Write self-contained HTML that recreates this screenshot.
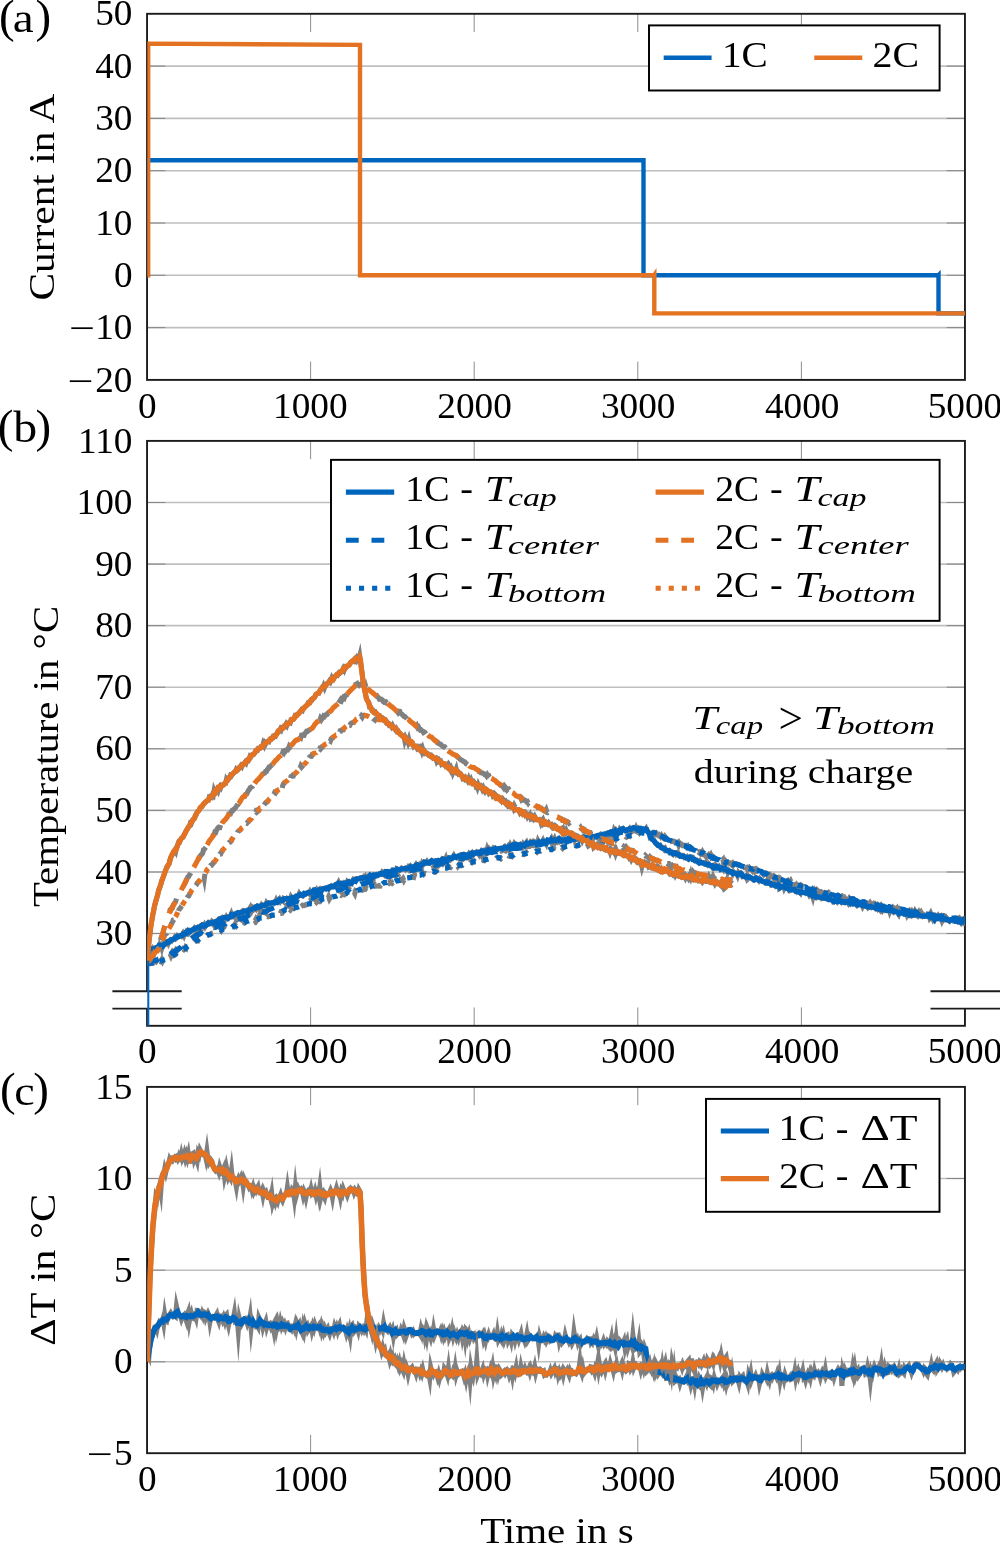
<!DOCTYPE html>
<html lang="en"><head><meta charset="utf-8"><title>Current, temperature and temperature difference during 1C and 2C charge</title>
<style>html,body{margin:0;padding:0;background:#fff}svg{display:block}</style></head>
<body>
<svg width="1000" height="1544" viewBox="0 0 1000 1544" font-family="'Liberation Serif', serif" fill="#000">
<rect width="1000" height="1544" fill="#fff"/>
<defs>
<clipPath id="ca"><rect x="147.35000000000002" y="13.8" width="817.6" height="366.1"/></clipPath>
<clipPath id="cb"><rect x="147.35000000000002" y="440.9" width="817.6" height="584.9"/></clipPath>
<clipPath id="cc"><rect x="147.35000000000002" y="1086.9" width="817.6" height="366.3"/></clipPath>
</defs>
<line x1="147.05" x2="964.95" y1="66.1" y2="66.1" stroke="#bfbfbf" stroke-width="1.6"/>
<line x1="147.05" x2="964.95" y1="118.4" y2="118.4" stroke="#bfbfbf" stroke-width="1.6"/>
<line x1="147.05" x2="964.95" y1="170.7" y2="170.7" stroke="#bfbfbf" stroke-width="1.6"/>
<line x1="147.05" x2="964.95" y1="223.0" y2="223.0" stroke="#bfbfbf" stroke-width="1.6"/>
<line x1="147.05" x2="964.95" y1="275.3" y2="275.3" stroke="#bfbfbf" stroke-width="1.6"/>
<line x1="147.05" x2="964.95" y1="327.6" y2="327.6" stroke="#bfbfbf" stroke-width="1.6"/>
<line x1="147.05" x2="165.35000000000002" y1="66.1" y2="66.1" stroke="#808080" stroke-width="0.9"/>
<line x1="946.6500000000001" x2="964.95" y1="66.1" y2="66.1" stroke="#808080" stroke-width="0.9"/>
<line x1="147.05" x2="165.35000000000002" y1="118.4" y2="118.4" stroke="#808080" stroke-width="0.9"/>
<line x1="946.6500000000001" x2="964.95" y1="118.4" y2="118.4" stroke="#808080" stroke-width="0.9"/>
<line x1="147.05" x2="165.35000000000002" y1="170.7" y2="170.7" stroke="#808080" stroke-width="0.9"/>
<line x1="946.6500000000001" x2="964.95" y1="170.7" y2="170.7" stroke="#808080" stroke-width="0.9"/>
<line x1="147.05" x2="165.35000000000002" y1="223.0" y2="223.0" stroke="#808080" stroke-width="0.9"/>
<line x1="946.6500000000001" x2="964.95" y1="223.0" y2="223.0" stroke="#808080" stroke-width="0.9"/>
<line x1="147.05" x2="165.35000000000002" y1="275.3" y2="275.3" stroke="#808080" stroke-width="0.9"/>
<line x1="946.6500000000001" x2="964.95" y1="275.3" y2="275.3" stroke="#808080" stroke-width="0.9"/>
<line x1="147.05" x2="165.35000000000002" y1="327.6" y2="327.6" stroke="#808080" stroke-width="0.9"/>
<line x1="946.6500000000001" x2="964.95" y1="327.6" y2="327.6" stroke="#808080" stroke-width="0.9"/>
<line x1="310.6" x2="310.6" y1="13.8" y2="32.1" stroke="#808080" stroke-width="0.9"/>
<line x1="310.6" x2="310.6" y1="361.65" y2="379.95" stroke="#808080" stroke-width="0.9"/>
<line x1="474.2" x2="474.2" y1="13.8" y2="32.1" stroke="#808080" stroke-width="0.9"/>
<line x1="474.2" x2="474.2" y1="361.65" y2="379.95" stroke="#808080" stroke-width="0.9"/>
<line x1="637.8" x2="637.8" y1="13.8" y2="32.1" stroke="#808080" stroke-width="0.9"/>
<line x1="637.8" x2="637.8" y1="361.65" y2="379.95" stroke="#808080" stroke-width="0.9"/>
<line x1="801.4" x2="801.4" y1="13.8" y2="32.1" stroke="#808080" stroke-width="0.9"/>
<line x1="801.4" x2="801.4" y1="361.65" y2="379.95" stroke="#808080" stroke-width="0.9"/>
<rect x="147.05" y="13.8" width="817.9" height="366.1" fill="none" stroke="#1c1c1c" stroke-width="1.9"/>
<g clip-path="url(#ca)">
<polyline points="147.1,275.3 147.1,160.3 643.5,160.3 643.5,275.3 938.5,275.3 938.5,313.4 965.0,313.4" fill="none" stroke="#0065bd" stroke-width="4.4" stroke-linejoin="miter" stroke-miterlimit="14"/>
<path d="M937.1,273.4 L940.7,269.7 L940.7,273.4 Z" fill="#0065bd"/>
<polyline points="147.1,275.3 148.2,275.3 148.2,43.6 360.0,44.9 360.0,275.3 654.3,275.3 654.3,313.4 965.4,313.4" fill="none" stroke="#e37222" stroke-width="4.4" stroke-linejoin="miter" stroke-miterlimit="14"/>
<path d="M652.7,273.4 L656.5,267.9 L656.5,273.4 Z" fill="#e37222"/>
</g>
<text x="95.2" y="25.4" font-size="35.4" textLength="37.2" lengthAdjust="spacingAndGlyphs">50</text>
<text x="95.2" y="77.7" font-size="35.4" textLength="37.2" lengthAdjust="spacingAndGlyphs">40</text>
<text x="95.2" y="130.0" font-size="35.4" textLength="37.2" lengthAdjust="spacingAndGlyphs">30</text>
<text x="95.2" y="182.3" font-size="35.4" textLength="37.2" lengthAdjust="spacingAndGlyphs">20</text>
<text x="95.2" y="234.6" font-size="35.4" textLength="37.2" lengthAdjust="spacingAndGlyphs">10</text>
<text x="113.9" y="286.9" font-size="35.4" textLength="18.6" lengthAdjust="spacingAndGlyphs">0</text>
<text><tspan x="69.1" y="340.4" font-size="35.4" textLength="26.0" lengthAdjust="spacingAndGlyphs">−</tspan><tspan x="95.2" y="339.2" font-size="35.4" textLength="37.2" lengthAdjust="spacingAndGlyphs">10</tspan></text>
<text><tspan x="67.6" y="392.8" font-size="35.4" textLength="26.0" lengthAdjust="spacingAndGlyphs">−</tspan><tspan x="95.2" y="391.6" font-size="35.4" textLength="37.2" lengthAdjust="spacingAndGlyphs">20</tspan></text>
<text x="138.1" y="417.6" font-size="35.4" textLength="18.6" lengthAdjust="spacingAndGlyphs">0</text>
<text x="273.0" y="417.6" font-size="35.4" textLength="74.5" lengthAdjust="spacingAndGlyphs">1000</text>
<text x="437.3" y="417.6" font-size="35.4" textLength="74.5" lengthAdjust="spacingAndGlyphs">2000</text>
<text x="600.9" y="417.6" font-size="35.4" textLength="74.5" lengthAdjust="spacingAndGlyphs">3000</text>
<text x="764.9" y="417.6" font-size="35.4" textLength="74.5" lengthAdjust="spacingAndGlyphs">4000</text>
<text x="927.7" y="417.6" font-size="35.4" textLength="74.5" lengthAdjust="spacingAndGlyphs">5000</text>
<text><tspan x="-1.1" y="32.0" font-size="47.0">(</tspan><tspan x="12.8" y="32.0" font-size="41" textLength="20.9" lengthAdjust="spacingAndGlyphs">a</tspan><tspan x="35.4" y="32.0" font-size="47.0">)</tspan></text>
<text transform="translate(54.0,300.5) rotate(-90)" font-size="35.3" textLength="206.8" lengthAdjust="spacingAndGlyphs">Current in A</text>
<rect x="649.0" y="25.4" width="290.6" height="65.1" fill="#fff" stroke="#000" stroke-width="1.95"/>
<line x1="663.7" x2="711.6" y1="57.7" y2="57.7" stroke="#0065bd" stroke-width="4.4"/>
<line x1="814.3" x2="862.3" y1="57.7" y2="57.7" stroke="#e37222" stroke-width="4.4"/>
<text x="721.9" y="66.6" font-size="34.8" textLength="45.8" lengthAdjust="spacingAndGlyphs">1C</text>
<text x="872.6" y="66.6" font-size="34.8" textLength="46.5" lengthAdjust="spacingAndGlyphs">2C</text>
<line x1="147.05" x2="964.95" y1="502.5" y2="502.5" stroke="#bfbfbf" stroke-width="1.6"/>
<line x1="147.05" x2="964.95" y1="564.1" y2="564.1" stroke="#bfbfbf" stroke-width="1.6"/>
<line x1="147.05" x2="964.95" y1="625.6" y2="625.6" stroke="#bfbfbf" stroke-width="1.6"/>
<line x1="147.05" x2="964.95" y1="687.2" y2="687.2" stroke="#bfbfbf" stroke-width="1.6"/>
<line x1="147.05" x2="964.95" y1="748.8" y2="748.8" stroke="#bfbfbf" stroke-width="1.6"/>
<line x1="147.05" x2="964.95" y1="810.4" y2="810.4" stroke="#bfbfbf" stroke-width="1.6"/>
<line x1="147.05" x2="964.95" y1="872.0" y2="872.0" stroke="#bfbfbf" stroke-width="1.6"/>
<line x1="147.05" x2="964.95" y1="933.5" y2="933.5" stroke="#bfbfbf" stroke-width="1.6"/>
<line x1="147.05" x2="165.35000000000002" y1="502.5" y2="502.5" stroke="#808080" stroke-width="0.9"/>
<line x1="946.6500000000001" x2="964.95" y1="502.5" y2="502.5" stroke="#808080" stroke-width="0.9"/>
<line x1="147.05" x2="165.35000000000002" y1="564.1" y2="564.1" stroke="#808080" stroke-width="0.9"/>
<line x1="946.6500000000001" x2="964.95" y1="564.1" y2="564.1" stroke="#808080" stroke-width="0.9"/>
<line x1="147.05" x2="165.35000000000002" y1="625.6" y2="625.6" stroke="#808080" stroke-width="0.9"/>
<line x1="946.6500000000001" x2="964.95" y1="625.6" y2="625.6" stroke="#808080" stroke-width="0.9"/>
<line x1="147.05" x2="165.35000000000002" y1="687.2" y2="687.2" stroke="#808080" stroke-width="0.9"/>
<line x1="946.6500000000001" x2="964.95" y1="687.2" y2="687.2" stroke="#808080" stroke-width="0.9"/>
<line x1="147.05" x2="165.35000000000002" y1="748.8" y2="748.8" stroke="#808080" stroke-width="0.9"/>
<line x1="946.6500000000001" x2="964.95" y1="748.8" y2="748.8" stroke="#808080" stroke-width="0.9"/>
<line x1="147.05" x2="165.35000000000002" y1="810.4" y2="810.4" stroke="#808080" stroke-width="0.9"/>
<line x1="946.6500000000001" x2="964.95" y1="810.4" y2="810.4" stroke="#808080" stroke-width="0.9"/>
<line x1="147.05" x2="165.35000000000002" y1="872.0" y2="872.0" stroke="#808080" stroke-width="0.9"/>
<line x1="946.6500000000001" x2="964.95" y1="872.0" y2="872.0" stroke="#808080" stroke-width="0.9"/>
<line x1="147.05" x2="165.35000000000002" y1="933.5" y2="933.5" stroke="#808080" stroke-width="0.9"/>
<line x1="946.6500000000001" x2="964.95" y1="933.5" y2="933.5" stroke="#808080" stroke-width="0.9"/>
<line x1="310.6" x2="310.6" y1="440.9" y2="459.2" stroke="#808080" stroke-width="0.9"/>
<line x1="310.6" x2="310.6" y1="1007.45" y2="1025.75" stroke="#808080" stroke-width="0.9"/>
<line x1="474.2" x2="474.2" y1="440.9" y2="459.2" stroke="#808080" stroke-width="0.9"/>
<line x1="474.2" x2="474.2" y1="1007.45" y2="1025.75" stroke="#808080" stroke-width="0.9"/>
<line x1="637.8" x2="637.8" y1="440.9" y2="459.2" stroke="#808080" stroke-width="0.9"/>
<line x1="637.8" x2="637.8" y1="1007.45" y2="1025.75" stroke="#808080" stroke-width="0.9"/>
<line x1="801.4" x2="801.4" y1="440.9" y2="459.2" stroke="#808080" stroke-width="0.9"/>
<line x1="801.4" x2="801.4" y1="1007.45" y2="1025.75" stroke="#808080" stroke-width="0.9"/>
<rect x="147.05" y="440.9" width="817.9" height="584.9" fill="none" stroke="#1c1c1c" stroke-width="1.9"/>
<rect x="145.05" y="991.25" width="4" height="17.35" fill="#fff"/>
<rect x="962.95" y="991.25" width="4" height="17.35" fill="#fff"/>
<line x1="112.4" x2="181.7" y1="991.25" y2="991.25" stroke="#1c1c1c" stroke-width="1.9"/>
<line x1="112.4" x2="181.7" y1="1008.6" y2="1008.6" stroke="#1c1c1c" stroke-width="1.9"/>
<line x1="930.5" x2="1001" y1="991.25" y2="991.25" stroke="#1c1c1c" stroke-width="1.9"/>
<line x1="930.5" x2="1001" y1="1008.6" y2="1008.6" stroke="#1c1c1c" stroke-width="1.9"/>
<g clip-path="url(#cb)">
<polyline points="147.1,963.2 147.9,957.7 148.7,954.0 149.5,952.8 150.3,951.6 151.1,951.3 152.0,950.0 152.8,948.5 153.6,949.4 154.4,949.1 155.2,948.2 156.0,947.7 156.9,947.3 157.7,947.6 158.5,946.6 159.3,944.9 160.1,946.5 161.0,945.5 161.8,948.0 162.6,945.2 163.4,945.2 164.2,943.7 165.0,944.1 165.9,942.4 166.7,941.9 167.5,941.6 168.3,943.2 169.1,941.3 170.0,940.5 170.8,939.9 171.6,940.6 172.4,939.4 173.2,939.3 174.0,939.0 174.9,937.3 175.7,938.3 176.5,937.3 177.3,936.0 178.1,936.7 178.9,936.3 179.8,935.9 180.6,935.6 181.4,936.2 182.2,935.1 183.0,933.7 183.9,935.5 184.7,933.2 185.5,933.3 186.3,933.6 187.1,931.2 187.9,931.6 188.8,932.9 189.6,931.6 190.4,930.6 191.2,930.9 192.0,930.0 192.9,930.0 193.7,929.2 194.5,928.2 195.3,929.3 196.1,928.1 196.9,928.2 197.8,927.3 198.6,927.8 199.4,927.1 200.2,926.4 201.0,925.6 201.8,925.2 202.7,926.7 203.5,925.9 204.3,924.7 205.1,926.4 205.9,925.0 206.8,924.7 207.6,923.4 208.4,922.8 209.2,924.0 210.0,923.7 210.8,923.3 211.7,921.9 212.5,923.1 213.3,922.9 214.1,921.9 214.9,922.0 215.8,921.5 216.6,921.8 217.4,920.6 218.2,920.8 219.0,919.2 219.8,919.1 220.7,919.3 221.5,918.4 222.3,918.9 223.1,917.5 223.9,917.9 224.8,917.4 225.6,918.4 226.4,916.9 227.2,918.0 228.0,918.3 228.8,916.8 229.7,917.0 230.5,916.0 231.3,914.1 232.1,916.3 232.9,915.8 233.7,914.9 234.6,914.2 235.4,914.6 236.2,914.2 237.0,913.0 237.8,912.8 238.7,913.7 239.5,912.9 240.3,912.5 241.1,913.0 241.9,911.9 242.7,912.5 243.6,910.8 244.4,911.2 245.2,911.1 246.0,911.4 246.8,910.7 247.7,911.7 248.5,910.7 249.3,909.3 250.1,910.8 250.9,908.5 251.7,910.3 252.6,908.1 253.4,909.0 254.2,907.5 255.0,907.7 255.8,908.6 256.6,906.6 257.5,906.3 258.3,907.2 259.1,907.0 259.9,906.3 260.7,906.8 261.6,905.0 262.4,905.9 263.2,905.4 264.0,905.7 264.8,904.9 265.6,905.3 266.5,902.8 267.3,903.8 268.1,903.0 268.9,903.3 269.7,903.5 270.6,903.1 271.4,903.1 272.2,902.6 273.0,902.8 273.8,902.3 274.6,903.1 275.5,902.3 276.3,900.3 277.1,901.8 277.9,901.9 278.7,900.4 279.5,899.3 280.4,901.1 281.2,899.9 282.0,899.9 282.8,900.6 283.6,898.5 284.5,898.9 285.3,898.7 286.1,899.2 286.9,898.4 287.7,899.0 288.5,898.7 289.4,899.2 290.2,899.4 291.0,897.0 291.8,898.2 292.6,897.4 293.5,897.5 294.3,897.5 295.1,897.3 295.9,896.3 296.7,896.7 297.5,896.4 298.4,896.0 299.2,894.0 300.0,895.4 300.8,895.3 301.6,895.6 302.5,895.8 303.3,893.8 304.1,893.6 304.9,894.4 305.7,893.8 306.5,893.1 307.4,892.9 308.2,892.5 309.0,893.4 309.8,891.9 310.6,893.6 311.4,891.8 312.3,891.8 313.1,891.2 313.9,890.0 314.7,890.2 315.5,891.9 316.4,892.2 317.2,890.2 318.0,891.3 318.8,890.2 319.6,889.4 320.4,890.9 321.3,890.9 322.1,888.8 322.9,888.9 323.7,888.8 324.5,888.3 325.4,888.4 326.2,888.9 327.0,887.9 327.8,888.1 328.6,888.6 329.4,886.8 330.3,886.8 331.1,886.1 331.9,886.9 332.7,886.3 333.5,886.7 334.3,886.1 335.2,884.9 336.0,885.3 336.8,884.1 337.6,884.1 338.4,882.7 339.3,885.1 340.1,883.3 340.9,883.8 341.7,883.4 342.5,884.4 343.3,883.9 344.2,882.9 345.0,883.4 345.8,883.0 346.6,883.4 347.4,881.5 348.3,882.3 349.1,883.9 349.9,882.5 350.7,883.1 351.5,883.5 352.3,881.2 353.2,879.7 354.0,880.4 354.8,881.0 355.6,880.9 356.4,878.9 357.3,879.1 358.1,878.9 358.9,878.8 359.7,878.7 360.5,877.8 361.3,877.8 362.2,877.7 363.0,878.6 363.8,877.2 364.6,878.0 365.4,876.7 366.2,878.3 367.1,877.5 367.9,877.4 368.7,878.2 369.5,875.4 370.3,875.5 371.2,876.5 372.0,875.4 372.8,875.5 373.6,877.5 374.4,875.2 375.2,875.1 376.1,874.7 376.9,875.6 377.7,875.1 378.5,874.8 379.3,873.8 380.2,874.0 381.0,874.1 381.8,872.8 382.6,874.1 383.4,873.7 384.2,874.6 385.1,871.9 385.9,872.0 386.7,871.8 387.5,871.6 388.3,872.1 389.1,871.9 390.0,872.0 390.8,871.8 391.6,871.5 392.4,870.2 393.2,870.6 394.1,870.9 394.9,871.3 395.7,871.1 396.5,869.0 397.3,869.6 398.1,869.6 399.0,869.8 399.8,870.1 400.6,869.1 401.4,868.3 402.2,869.1 403.1,868.8 403.9,868.7 404.7,868.4 405.5,869.4 406.3,868.3 407.1,868.9 408.0,867.5 408.8,868.7 409.6,867.4 410.4,866.4 411.2,867.7 412.0,867.5 412.9,866.8 413.7,866.7 414.5,867.3 415.3,865.7 416.1,864.5 417.0,865.7 417.8,865.5 418.6,865.9 419.4,864.8 420.2,865.7 421.0,865.4 421.9,863.4 422.7,864.7 423.5,863.0 424.3,862.4 425.1,863.4 426.0,862.8 426.8,861.7 427.6,863.1 428.4,863.1 429.2,863.3 430.0,862.1 430.9,861.0 431.7,861.0 432.5,862.1 433.3,861.7 434.1,861.5 435.0,860.8 435.8,861.1 436.6,860.7 437.4,860.5 438.2,860.9 439.0,860.6 439.9,860.6 440.7,860.7 441.5,860.3 442.3,859.0 443.1,859.5 443.9,859.3 444.8,860.4 445.6,858.7 446.4,862.2 447.2,860.0 448.0,858.1 448.9,858.0 449.7,858.2 450.5,859.2 451.3,858.1 452.1,858.4 452.9,857.3 453.8,855.7 454.6,857.1 455.4,857.4 456.2,857.5 457.0,856.4 457.9,856.3 458.7,856.8 459.5,855.9 460.3,856.6 461.1,854.9 461.9,854.9 462.8,854.6 463.6,855.5 464.4,854.5 465.2,854.9 466.0,855.1 466.8,855.0 467.7,855.4 468.5,855.4 469.3,853.5 470.1,854.1 470.9,853.6 471.8,852.9 472.6,854.9 473.4,854.0 474.2,853.3 475.0,852.9 475.8,853.2 476.7,852.1 477.5,852.8 478.3,853.7 479.1,853.4 479.9,852.0 480.8,851.9 481.6,853.6 482.4,850.9 483.2,851.4 484.0,850.7 484.8,851.7 485.7,851.4 486.5,851.8 487.3,848.8 488.1,850.6 488.9,849.3 489.8,850.8 490.6,850.0 491.4,851.2 492.2,850.2 493.0,848.9 493.8,850.1 494.7,848.3 495.5,848.7 496.3,849.5 497.1,849.1 497.9,848.9 498.7,848.5 499.6,848.6 500.4,848.6 501.2,848.2 502.0,848.8 502.8,848.8 503.7,847.8 504.5,847.0 505.3,848.6 506.1,847.3 506.9,847.5 507.7,847.5 508.6,845.9 509.4,846.7 510.2,844.9 511.0,846.4 511.8,845.2 512.7,845.4 513.5,845.5 514.3,843.7 515.1,844.8 515.9,844.2 516.7,844.6 517.6,845.4 518.4,844.8 519.2,844.7 520.0,844.3 520.8,845.6 521.6,844.9 522.5,846.2 523.3,844.2 524.1,845.3 524.9,845.7 525.7,844.1 526.6,842.7 527.4,844.6 528.2,843.8 529.0,843.4 529.8,843.5 530.6,842.1 531.5,843.0 532.3,842.9 533.1,841.9 533.9,843.0 534.7,842.2 535.6,843.2 536.4,843.5 537.2,843.8 538.0,841.0 538.8,842.6 539.6,842.2 540.5,842.3 541.3,842.0 542.1,841.9 542.9,840.5 543.7,842.4 544.5,842.6 545.4,842.1 546.2,843.6 547.0,840.6 547.8,840.4 548.6,841.4 549.5,841.5 550.3,840.7 551.1,839.3 551.9,842.3 552.7,839.7 553.5,840.7 554.4,839.0 555.2,841.5 556.0,839.8 556.8,840.6 557.6,840.2 558.5,838.6 559.3,838.8 560.1,839.7 560.9,840.2 561.7,841.0 562.5,839.9 563.4,839.5 564.2,839.4 565.0,839.6 565.8,840.3 566.6,839.2 567.5,839.1 568.3,838.2 569.1,837.8 569.9,839.2 570.7,839.5 571.5,839.2 572.4,839.7 573.2,839.6 574.0,838.9 574.8,839.7 575.6,838.5 576.4,838.9 577.3,838.1 578.1,838.5 578.9,838.6 579.7,838.5 580.5,837.6 581.4,837.9 582.2,837.3 583.0,837.3 583.8,838.5 584.6,837.1 585.4,838.3 586.3,837.7 587.1,837.6 587.9,838.8 588.7,837.3 589.5,837.2 590.4,837.4 591.2,837.4 592.0,837.0 592.8,837.5 593.6,836.8 594.4,836.7 595.3,836.3 596.1,836.9 596.9,835.6 597.7,835.4 598.5,835.3 599.3,835.4 600.2,834.7 601.0,836.2 601.8,834.5 602.6,834.5 603.4,834.2 604.3,834.1 605.1,834.5 605.9,834.0 606.7,833.3 607.5,833.1 608.3,832.8 609.2,834.2 610.0,832.4 610.8,831.9 611.6,831.9 612.4,832.2 613.3,833.3 614.1,830.3 614.9,831.8 615.7,833.4 616.5,831.1 617.3,832.2 618.2,831.9 619.0,831.1 619.8,829.3 620.6,830.3 621.4,830.0 622.2,828.8 623.1,828.8 623.9,830.2 624.7,830.4 625.5,831.0 626.3,830.5 627.2,829.4 628.0,829.5 628.8,829.4 629.6,828.5 630.4,829.8 631.2,829.1 632.1,828.4 632.9,828.0 633.7,827.6 634.5,828.2 635.3,828.7 636.2,828.2 637.0,829.4 637.8,829.8 638.6,828.2 639.4,828.7 640.2,828.4 641.1,829.8 641.9,829.0 642.7,829.0 643.5,829.1 644.3,830.3 645.2,829.4 646.0,828.4 646.8,830.4 647.6,831.8 648.4,832.3 649.2,833.4 650.1,837.3 650.9,836.9 651.7,838.1 652.5,839.6 653.3,839.9 654.1,841.1 655.0,842.4 655.8,843.3 656.6,843.6 657.4,845.1 658.2,845.5 659.1,845.5 659.9,845.3 660.7,847.3 661.5,847.7 662.3,848.1 663.1,847.8 664.0,849.1 664.8,848.4 665.6,850.5 666.4,850.3 667.2,850.8 668.1,850.5 668.9,850.6 669.7,852.6 670.5,852.4 671.3,851.9 672.1,853.0 673.0,854.0 673.8,852.7 674.6,853.1 675.4,852.8 676.2,854.2 677.0,853.4 677.9,854.7 678.7,854.1 679.5,855.6 680.3,856.1 681.1,855.6 682.0,856.3 682.8,855.7 683.6,856.2 684.4,857.4 685.2,857.0 686.0,857.8 686.9,857.0 687.7,858.5 688.5,858.9 689.3,857.3 690.1,856.8 691.0,857.4 691.8,859.0 692.6,859.3 693.4,858.5 694.2,859.9 695.0,860.8 695.9,860.3 696.7,860.3 697.5,861.5 698.3,862.4 699.1,862.7 700.0,861.4 700.8,862.7 701.6,862.6 702.4,862.8 703.2,862.8 704.0,863.6 704.9,863.1 705.7,864.4 706.5,864.2 707.3,864.9 708.1,863.7 708.9,864.8 709.8,865.5 710.6,865.7 711.4,865.8 712.2,865.5 713.0,867.9 713.9,867.9 714.7,867.9 715.5,865.9 716.3,867.2 717.1,868.0 717.9,867.5 718.8,866.7 719.6,868.5 720.4,869.0 721.2,867.8 722.0,868.3 722.9,868.3 723.7,869.6 724.5,868.0 725.3,868.7 726.1,869.9 726.9,870.0 727.8,872.3 728.6,870.5 729.4,871.5 730.2,871.5 731.0,871.5 731.8,872.4 732.7,873.8 733.5,872.2 734.3,873.3 735.1,873.2 735.9,873.7 736.8,873.5 737.6,875.4 738.4,872.8 739.2,873.9 740.0,873.6 740.8,873.1 741.7,874.8 742.5,876.4 743.3,876.0 744.1,876.5 744.9,876.4 745.8,876.1 746.6,877.9 747.4,876.1 748.2,877.8 749.0,876.6 749.8,877.3 750.7,877.9 751.5,878.0 752.3,878.6 753.1,879.5 753.9,880.0 754.7,879.2 755.6,877.9 756.4,878.1 757.2,878.9 758.0,879.6 758.8,880.6 759.7,879.1 760.5,880.3 761.3,880.7 762.1,881.2 762.9,881.2 763.7,881.8 764.6,882.0 765.4,882.9 766.2,882.5 767.0,880.9 767.8,882.9 768.7,883.4 769.5,883.2 770.3,883.2 771.1,884.8 771.9,884.4 772.7,883.8 773.6,884.7 774.4,885.2 775.2,884.4 776.0,886.3 776.8,886.0 777.7,886.4 778.5,883.7 779.3,887.9 780.1,887.2 780.9,887.1 781.7,886.4 782.6,886.4 783.4,886.0 784.2,888.3 785.0,886.8 785.8,887.6 786.6,888.1 787.5,887.4 788.3,888.7 789.1,889.9 789.9,888.8 790.7,890.0 791.6,889.6 792.4,889.3 793.2,889.6 794.0,889.0 794.8,890.5 795.6,891.5 796.5,891.3 797.3,891.5 798.1,891.9 798.9,890.7 799.7,892.0 800.6,893.1 801.4,891.2 802.2,892.3 803.0,892.3 803.8,892.6 804.6,892.4 805.5,893.2 806.3,892.5 807.1,893.3 807.9,893.4 808.7,893.6 809.5,895.2 810.4,894.2 811.2,894.4 812.0,894.5 812.8,897.0 813.6,893.4 814.5,895.0 815.3,896.5 816.1,897.3 816.9,896.4 817.7,896.5 818.5,897.2 819.4,896.7 820.2,897.4 821.0,896.8 821.8,898.2 822.6,897.7 823.5,897.0 824.3,895.6 825.1,898.2 825.9,898.1 826.7,898.7 827.5,897.7 828.4,899.4 829.2,899.2 830.0,899.0 830.8,899.8 831.6,899.9 832.5,900.1 833.3,901.7 834.1,901.4 834.9,900.7 835.7,900.5 836.5,900.6 837.4,901.9 838.2,901.0 839.0,900.3 839.8,900.6 840.6,901.3 841.4,902.1 842.3,901.0 843.1,901.9 843.9,902.5 844.7,902.4 845.5,900.9 846.4,902.1 847.2,901.7 848.0,902.9 848.8,900.9 849.6,903.0 850.4,903.0 851.3,901.3 852.1,902.7 852.9,904.0 853.7,903.6 854.5,903.4 855.4,902.8 856.2,904.2 857.0,905.2 857.8,904.3 858.6,904.2 859.4,904.4 860.3,903.8 861.1,904.8 861.9,904.7 862.7,906.5 863.5,905.1 864.3,904.6 865.2,905.9 866.0,906.5 866.8,906.7 867.6,905.5 868.4,907.5 869.3,906.8 870.1,906.5 870.9,906.4 871.7,907.4 872.5,906.9 873.3,907.4 874.2,907.3 875.0,907.7 875.8,908.6 876.6,908.1 877.4,907.7 878.3,909.3 879.1,908.8 879.9,908.6 880.7,910.1 881.5,909.1 882.3,910.4 883.2,909.0 884.0,908.3 884.8,908.8 885.6,910.3 886.4,910.0 887.2,910.5 888.1,910.4 888.9,909.3 889.7,911.7 890.5,909.8 891.3,910.8 892.2,909.9 893.0,910.9 893.8,911.9 894.6,911.0 895.4,911.1 896.2,911.9 897.1,911.8 897.9,912.8 898.7,914.1 899.5,911.9 900.3,912.4 901.2,912.8 902.0,913.1 902.8,912.6 903.6,913.8 904.4,914.1 905.2,913.8 906.1,912.9 906.9,914.9 907.7,913.2 908.5,914.4 909.3,915.0 910.2,913.3 911.0,914.5 911.8,915.5 912.6,914.7 913.4,913.8 914.2,913.6 915.1,914.9 915.9,914.5 916.7,914.4 917.5,915.5 918.3,914.7 919.1,914.9 920.0,915.5 920.8,915.8 921.6,915.6 922.4,915.8 923.2,916.4 924.1,916.3 924.9,915.4 925.7,916.2 926.5,916.0 927.3,916.2 928.1,916.6 929.0,915.5 929.8,918.1 930.6,917.1 931.4,918.0 932.2,916.6 933.1,916.8 933.9,919.8 934.7,919.1 935.5,917.3 936.3,918.0 937.1,918.1 938.0,918.7 938.8,918.2 939.6,917.5 940.4,918.7 941.2,918.0 942.0,920.4 942.9,918.3 943.7,919.4 944.5,918.2 945.3,919.1 946.1,919.6 947.0,918.9 947.8,920.0 948.6,920.3 949.4,921.0 950.2,919.8 951.0,919.5 951.9,919.5 952.7,920.3 953.5,919.7 954.3,920.8 955.1,921.3 956.0,921.1 956.8,920.7 957.6,921.7 958.4,921.9 959.2,922.0 960.0,921.7 960.9,922.8 961.7,921.4 962.5,922.5 963.3,921.8 964.1,922.8 965.0,922.0" fill="none" stroke="#808080" stroke-width="5.1" stroke-linejoin="miter" stroke-miterlimit="14"/>
<polyline points="147.1,964.3 147.9,963.2 148.7,961.3 149.5,962.7 150.3,962.8 151.1,961.3 152.0,960.8 152.8,960.7 153.6,961.4 154.4,959.8 155.2,960.8 156.0,961.5 156.9,960.0 157.7,959.4 158.5,958.8 159.3,958.2 160.1,958.7 161.0,957.8 161.8,957.9 162.6,957.2 163.4,958.1 164.2,957.9 165.0,956.4 165.9,957.3 166.7,956.4 167.5,955.6 168.3,955.4 169.1,954.9 170.0,953.5 170.8,955.3 171.6,953.0 172.4,951.7 173.2,952.6 174.0,952.1 174.9,951.1 175.7,950.0 176.5,951.3 177.3,949.9 178.1,949.4 178.9,948.6 179.8,948.1 180.6,947.2 181.4,947.0 182.2,946.1 183.0,946.0 183.9,945.3 184.7,944.3 185.5,943.8 186.3,943.6 187.1,941.2 187.9,941.5 188.8,941.5 189.6,939.6 190.4,939.9 191.2,938.5 192.0,938.1 192.9,937.5 193.7,936.9 194.5,936.9 195.3,936.0 196.1,934.2 196.9,936.2 197.8,934.3 198.6,933.7 199.4,934.1 200.2,933.8 201.0,931.1 201.8,932.2 202.7,928.6 203.5,930.8 204.3,930.9 205.1,930.5 205.9,930.0 206.8,929.2 207.6,929.3 208.4,929.3 209.2,929.1 210.0,928.1 210.8,928.2 211.7,928.9 212.5,928.3 213.3,927.5 214.1,927.6 214.9,927.3 215.8,927.3 216.6,926.6 217.4,926.0 218.2,925.5 219.0,925.7 219.8,924.2 220.7,925.2 221.5,922.6 222.3,923.6 223.1,923.7 223.9,924.1 224.8,925.0 225.6,923.1 226.4,922.4 227.2,921.0 228.0,922.7 228.8,920.6 229.7,921.7 230.5,921.1 231.3,922.8 232.1,920.9 232.9,921.0 233.7,920.1 234.6,920.4 235.4,921.0 236.2,919.6 237.0,918.8 237.8,919.3 238.7,918.8 239.5,918.3 240.3,918.8 241.1,919.4 241.9,918.9 242.7,917.1 243.6,917.2 244.4,917.3 245.2,917.7 246.0,916.6 246.8,916.3 247.7,916.2 248.5,915.9 249.3,913.9 250.1,914.9 250.9,915.2 251.7,915.3 252.6,914.6 253.4,913.6 254.2,913.3 255.0,913.6 255.8,913.3 256.6,913.6 257.5,913.7 258.3,911.1 259.1,912.3 259.9,910.8 260.7,912.8 261.6,911.9 262.4,911.3 263.2,911.9 264.0,912.5 264.8,912.7 265.6,911.1 266.5,910.8 267.3,910.8 268.1,910.0 268.9,908.6 269.7,909.6 270.6,909.3 271.4,909.1 272.2,908.2 273.0,907.8 273.8,908.1 274.6,907.5 275.5,907.9 276.3,908.3 277.1,908.2 277.9,907.1 278.7,907.0 279.5,906.5 280.4,907.4 281.2,906.6 282.0,906.1 282.8,906.3 283.6,906.9 284.5,906.3 285.3,905.9 286.1,906.2 286.9,905.0 287.7,904.3 288.5,904.8 289.4,903.1 290.2,904.1 291.0,903.5 291.8,903.3 292.6,903.4 293.5,902.4 294.3,902.4 295.1,901.3 295.9,901.8 296.7,901.7 297.5,901.9 298.4,902.8 299.2,902.0 300.0,902.4 300.8,900.8 301.6,901.1 302.5,899.7 303.3,900.0 304.1,899.6 304.9,899.6 305.7,899.2 306.5,898.5 307.4,898.1 308.2,898.6 309.0,897.9 309.8,896.7 310.6,898.2 311.4,898.1 312.3,898.1 313.1,898.5 313.9,896.7 314.7,897.0 315.5,896.3 316.4,895.5 317.2,894.8 318.0,896.4 318.8,894.9 319.6,895.0 320.4,895.0 321.3,894.8 322.1,895.0 322.9,893.8 323.7,894.0 324.5,893.8 325.4,893.0 326.2,893.0 327.0,892.9 327.8,892.7 328.6,891.7 329.4,892.0 330.3,892.0 331.1,892.2 331.9,891.6 332.7,892.0 333.5,891.2 334.3,890.9 335.2,891.9 336.0,890.4 336.8,889.8 337.6,889.9 338.4,890.4 339.3,888.9 340.1,889.9 340.9,889.9 341.7,889.4 342.5,888.5 343.3,887.7 344.2,887.2 345.0,887.6 345.8,888.0 346.6,887.6 347.4,887.6 348.3,887.0 349.1,887.8 349.9,886.6 350.7,886.0 351.5,886.4 352.3,885.8 353.2,886.7 354.0,886.9 354.8,886.3 355.6,885.0 356.4,884.9 357.3,885.4 358.1,884.2 358.9,885.0 359.7,883.7 360.5,884.2 361.3,884.4 362.2,883.4 363.0,884.0 363.8,883.9 364.6,884.0 365.4,882.5 366.2,882.6 367.1,882.5 367.9,882.5 368.7,881.2 369.5,882.0 370.3,882.0 371.2,879.8 372.0,880.3 372.8,880.7 373.6,882.2 374.4,881.3 375.2,880.3 376.1,880.2 376.9,879.0 377.7,880.5 378.5,879.1 379.3,879.5 380.2,878.0 381.0,878.6 381.8,877.6 382.6,878.2 383.4,878.5 384.2,878.2 385.1,877.7 385.9,877.8 386.7,876.2 387.5,875.8 388.3,876.3 389.1,876.9 390.0,876.1 390.8,876.1 391.6,874.6 392.4,875.1 393.2,874.7 394.1,875.0 394.9,875.7 395.7,874.8 396.5,874.9 397.3,873.6 398.1,873.6 399.0,874.2 399.8,873.6 400.6,872.3 401.4,873.7 402.2,873.6 403.1,872.9 403.9,872.9 404.7,872.4 405.5,871.6 406.3,869.4 407.1,873.9 408.0,871.3 408.8,871.0 409.6,870.7 410.4,870.6 411.2,870.4 412.0,869.6 412.9,870.4 413.7,870.2 414.5,869.8 415.3,869.7 416.1,869.5 417.0,868.4 417.8,869.1 418.6,868.8 419.4,868.8 420.2,869.3 421.0,869.1 421.9,868.9 422.7,868.0 423.5,868.4 424.3,869.4 425.1,867.7 426.0,866.9 426.8,868.4 427.6,866.0 428.4,866.5 429.2,866.5 430.0,865.7 430.9,866.0 431.7,866.2 432.5,864.3 433.3,866.1 434.1,865.1 435.0,864.5 435.8,865.8 436.6,865.3 437.4,864.5 438.2,863.0 439.0,865.0 439.9,864.1 440.7,863.4 441.5,863.5 442.3,864.1 443.1,862.7 443.9,862.3 444.8,861.8 445.6,861.2 446.4,861.1 447.2,861.1 448.0,861.1 448.9,861.8 449.7,861.1 450.5,860.6 451.3,860.8 452.1,860.3 452.9,860.6 453.8,859.2 454.6,858.6 455.4,860.0 456.2,859.3 457.0,859.6 457.9,858.4 458.7,858.6 459.5,858.8 460.3,858.9 461.1,858.6 461.9,859.0 462.8,857.7 463.6,858.4 464.4,857.6 465.2,857.6 466.0,857.0 466.8,857.6 467.7,856.6 468.5,857.3 469.3,856.3 470.1,856.6 470.9,856.5 471.8,856.2 472.6,855.3 473.4,856.9 474.2,855.2 475.0,856.1 475.8,853.4 476.7,856.2 477.5,855.5 478.3,855.8 479.1,853.6 479.9,855.4 480.8,854.5 481.6,854.6 482.4,856.5 483.2,854.1 484.0,853.5 484.8,854.0 485.7,853.0 486.5,853.5 487.3,853.0 488.1,852.9 488.9,852.2 489.8,851.4 490.6,852.3 491.4,852.2 492.2,852.6 493.0,852.5 493.8,850.9 494.7,852.2 495.5,851.7 496.3,851.2 497.1,851.4 497.9,849.6 498.7,852.2 499.6,850.5 500.4,850.3 501.2,851.0 502.0,850.6 502.8,849.9 503.7,849.3 504.5,850.5 505.3,850.8 506.1,849.1 506.9,848.6 507.7,849.4 508.6,850.2 509.4,848.2 510.2,849.0 511.0,848.1 511.8,848.7 512.7,848.7 513.5,848.8 514.3,847.5 515.1,847.5 515.9,849.5 516.7,848.7 517.6,847.1 518.4,848.3 519.2,848.7 520.0,847.8 520.8,847.8 521.6,847.4 522.5,847.7 523.3,847.4 524.1,847.5 524.9,846.5 525.7,847.1 526.6,846.7 527.4,846.5 528.2,845.4 529.0,845.9 529.8,846.3 530.6,845.7 531.5,845.6 532.3,845.0 533.1,845.4 533.9,844.5 534.7,844.5 535.6,845.2 536.4,845.5 537.2,844.5 538.0,844.5 538.8,844.7 539.6,845.3 540.5,845.3 541.3,843.8 542.1,843.4 542.9,843.5 543.7,844.7 544.5,843.0 545.4,844.0 546.2,843.2 547.0,843.3 547.8,843.8 548.6,843.8 549.5,844.5 550.3,843.9 551.1,844.1 551.9,842.6 552.7,842.5 553.5,841.8 554.4,842.1 555.2,842.4 556.0,841.7 556.8,842.1 557.6,840.4 558.5,841.0 559.3,841.6 560.1,840.8 560.9,840.8 561.7,840.9 562.5,840.3 563.4,839.9 564.2,840.9 565.0,841.1 565.8,842.3 566.6,840.9 567.5,841.0 568.3,841.8 569.1,840.5 569.9,840.2 570.7,840.5 571.5,840.3 572.4,840.7 573.2,839.2 574.0,840.3 574.8,839.4 575.6,838.3 576.4,839.5 577.3,838.9 578.1,839.2 578.9,839.8 579.7,838.6 580.5,838.3 581.4,839.3 582.2,838.5 583.0,837.9 583.8,837.7 584.6,839.2 585.4,838.7 586.3,838.9 587.1,837.3 587.9,837.3 588.7,837.5 589.5,838.3 590.4,838.3 591.2,837.3 592.0,837.3 592.8,837.7 593.6,836.9 594.4,836.3 595.3,836.3 596.1,836.9 596.9,837.5 597.7,836.4 598.5,836.0 599.3,836.2 600.2,836.1 601.0,836.1 601.8,835.3 602.6,835.8 603.4,835.5 604.3,836.1 605.1,835.7 605.9,834.7 606.7,835.6 607.5,835.7 608.3,834.9 609.2,833.7 610.0,834.2 610.8,833.2 611.6,834.2 612.4,834.2 613.3,834.6 614.1,834.2 614.9,832.6 615.7,833.0 616.5,832.8 617.3,832.9 618.2,833.2 619.0,833.3 619.8,832.7 620.6,832.3 621.4,832.4 622.2,832.0 623.1,832.0 623.9,832.5 624.7,832.1 625.5,832.2 626.3,830.9 627.2,832.3 628.0,831.4 628.8,829.6 629.6,831.0 630.4,831.4 631.2,830.9 632.1,829.8 632.9,830.9 633.7,830.3 634.5,830.5 635.3,830.9 636.2,828.4 637.0,830.3 637.8,830.6 638.6,830.5 639.4,829.9 640.2,829.7 641.1,829.3 641.9,829.5 642.7,830.4 643.5,829.2 644.3,829.7 645.2,829.5 646.0,830.3 646.8,830.0 647.6,829.9 648.4,829.6 649.2,830.6 650.1,829.7 650.9,829.8 651.7,830.9 652.5,831.1 653.3,831.8 654.1,831.3 655.0,833.9 655.8,833.4 656.6,834.8 657.4,834.6 658.2,834.3 659.1,835.8 659.9,835.7 660.7,836.7 661.5,835.5 662.3,836.6 663.1,836.7 664.0,838.6 664.8,838.9 665.6,838.0 666.4,839.1 667.2,839.3 668.1,839.5 668.9,840.8 669.7,839.9 670.5,840.4 671.3,840.6 672.1,841.6 673.0,841.2 673.8,842.7 674.6,841.5 675.4,841.6 676.2,841.9 677.0,842.4 677.9,842.5 678.7,844.9 679.5,843.0 680.3,844.0 681.1,843.9 682.0,844.6 682.8,845.7 683.6,845.7 684.4,845.3 685.2,845.3 686.0,847.0 686.9,847.7 687.7,846.7 688.5,848.6 689.3,847.4 690.1,848.9 691.0,849.7 691.8,848.7 692.6,848.6 693.4,850.9 694.2,849.5 695.0,850.8 695.9,850.1 696.7,851.6 697.5,852.7 698.3,851.8 699.1,852.0 700.0,851.8 700.8,852.4 701.6,853.4 702.4,854.4 703.2,854.8 704.0,855.0 704.9,855.3 705.7,855.3 706.5,857.0 707.3,855.8 708.1,856.1 708.9,855.0 709.8,856.2 710.6,857.2 711.4,856.8 712.2,858.1 713.0,858.2 713.9,859.2 714.7,857.6 715.5,858.3 716.3,859.8 717.1,859.3 717.9,859.0 718.8,859.6 719.6,859.9 720.4,861.1 721.2,861.3 722.0,861.2 722.9,861.0 723.7,862.1 724.5,862.7 725.3,861.6 726.1,863.2 726.9,862.4 727.8,863.1 728.6,863.0 729.4,862.8 730.2,863.6 731.0,863.7 731.8,865.1 732.7,865.6 733.5,864.3 734.3,863.8 735.1,864.0 735.9,863.5 736.8,864.6 737.6,864.7 738.4,864.4 739.2,865.2 740.0,865.4 740.8,866.1 741.7,865.4 742.5,866.7 743.3,865.9 744.1,867.6 744.9,866.5 745.8,867.8 746.6,867.1 747.4,868.8 748.2,868.4 749.0,867.7 749.8,869.2 750.7,869.0 751.5,869.5 752.3,870.6 753.1,869.1 753.9,869.4 754.7,870.5 755.6,869.6 756.4,870.8 757.2,871.0 758.0,870.4 758.8,871.1 759.7,869.5 760.5,872.1 761.3,871.3 762.1,871.4 762.9,873.5 763.7,873.7 764.6,872.6 765.4,873.6 766.2,873.5 767.0,873.5 767.8,874.8 768.7,875.5 769.5,876.8 770.3,875.5 771.1,876.6 771.9,876.2 772.7,876.6 773.6,877.9 774.4,876.2 775.2,876.7 776.0,877.1 776.8,879.5 777.7,878.2 778.5,878.6 779.3,878.7 780.1,879.3 780.9,878.8 781.7,879.3 782.6,879.8 783.4,880.7 784.2,880.2 785.0,881.2 785.8,883.3 786.6,882.3 787.5,882.3 788.3,882.0 789.1,883.0 789.9,883.2 790.7,883.9 791.6,883.6 792.4,884.9 793.2,884.8 794.0,885.3 794.8,884.8 795.6,885.6 796.5,887.9 797.3,885.3 798.1,886.2 798.9,885.5 799.7,885.3 800.6,884.8 801.4,885.4 802.2,886.3 803.0,886.4 803.8,887.6 804.6,886.2 805.5,887.1 806.3,887.0 807.1,888.3 807.9,889.9 808.7,888.0 809.5,889.1 810.4,889.4 811.2,889.7 812.0,889.6 812.8,889.8 813.6,891.5 814.5,889.9 815.3,891.0 816.1,890.9 816.9,889.8 817.7,890.5 818.5,891.5 819.4,892.5 820.2,891.6 821.0,891.6 821.8,892.1 822.6,893.1 823.5,893.7 824.3,893.8 825.1,893.3 825.9,893.2 826.7,893.2 827.5,894.3 828.4,893.6 829.2,893.6 830.0,894.7 830.8,894.7 831.6,893.7 832.5,895.1 833.3,894.8 834.1,895.7 834.9,895.6 835.7,897.0 836.5,896.4 837.4,896.0 838.2,895.6 839.0,896.4 839.8,896.9 840.6,897.4 841.4,898.0 842.3,898.1 843.1,898.1 843.9,898.8 844.7,897.9 845.5,899.1 846.4,899.6 847.2,899.3 848.0,899.8 848.8,899.7 849.6,898.3 850.4,899.1 851.3,898.9 852.1,898.7 852.9,898.8 853.7,900.0 854.5,899.5 855.4,900.2 856.2,900.7 857.0,900.7 857.8,902.3 858.6,902.1 859.4,902.0 860.3,901.7 861.1,902.6 861.9,902.9 862.7,901.5 863.5,902.3 864.3,903.0 865.2,902.8 866.0,903.8 866.8,904.0 867.6,903.7 868.4,904.1 869.3,904.3 870.1,903.1 870.9,904.4 871.7,904.9 872.5,904.2 873.3,903.6 874.2,904.9 875.0,904.2 875.8,905.3 876.6,905.8 877.4,906.1 878.3,905.9 879.1,904.7 879.9,906.5 880.7,904.9 881.5,906.9 882.3,906.5 883.2,906.1 884.0,906.2 884.8,906.5 885.6,908.0 886.4,906.9 887.2,908.0 888.1,906.3 888.9,908.4 889.7,907.8 890.5,908.7 891.3,908.5 892.2,909.4 893.0,908.0 893.8,908.8 894.6,908.5 895.4,909.5 896.2,909.3 897.1,908.2 897.9,909.8 898.7,910.5 899.5,909.4 900.3,910.4 901.2,910.5 902.0,909.7 902.8,910.8 903.6,909.8 904.4,911.0 905.2,909.9 906.1,910.0 906.9,911.2 907.7,911.2 908.5,911.8 909.3,911.3 910.2,911.0 911.0,912.8 911.8,911.5 912.6,912.9 913.4,912.8 914.2,913.6 915.1,911.4 915.9,912.7 916.7,912.7 917.5,913.2 918.3,912.2 919.1,914.4 920.0,913.1 920.8,912.1 921.6,913.7 922.4,913.7 923.2,913.4 924.1,914.4 924.9,914.2 925.7,913.6 926.5,914.3 927.3,914.1 928.1,914.8 929.0,914.0 929.8,914.6 930.6,913.8 931.4,914.7 932.2,915.4 933.1,916.7 933.9,914.9 934.7,915.0 935.5,916.1 936.3,916.8 937.1,916.5 938.0,915.5 938.8,916.8 939.6,916.6 940.4,916.2 941.2,915.7 942.0,916.7 942.9,917.0 943.7,917.4 944.5,916.2 945.3,916.7 946.1,917.6 947.0,918.5 947.8,918.2 948.6,917.9 949.4,918.8 950.2,918.0 951.0,918.4 951.9,918.6 952.7,918.6 953.5,918.8 954.3,919.6 955.1,919.5 956.0,917.8 956.8,919.7 957.6,919.3 958.4,918.3 959.2,919.5 960.0,920.0 960.9,920.5 961.7,919.4 962.5,919.4 963.3,919.0 964.1,920.0 965.0,919.7" fill="none" stroke="#808080" stroke-width="5.1" stroke-linejoin="miter" stroke-miterlimit="14" stroke-dasharray="17.26 17.26"/>
<polyline points="147.1,963.3 147.9,963.4 148.7,962.6 149.5,963.0 150.3,963.5 151.1,963.0 152.0,962.6 152.8,962.9 153.6,961.4 154.4,962.8 155.2,961.0 156.0,961.5 156.9,962.2 157.7,961.4 158.5,960.7 159.3,961.2 160.1,961.6 161.0,960.8 161.8,959.5 162.6,961.2 163.4,959.8 164.2,959.7 165.0,959.8 165.9,959.6 166.7,959.3 167.5,958.3 168.3,958.0 169.1,958.7 170.0,956.6 170.8,958.0 171.6,956.3 172.4,956.1 173.2,955.1 174.0,955.3 174.9,954.2 175.7,954.2 176.5,952.6 177.3,953.0 178.1,951.7 178.9,952.7 179.8,951.0 180.6,951.1 181.4,950.5 182.2,950.2 183.0,949.0 183.9,949.7 184.7,949.0 185.5,947.2 186.3,948.0 187.1,945.7 187.9,946.6 188.8,945.7 189.6,945.5 190.4,944.9 191.2,945.0 192.0,944.3 192.9,943.7 193.7,942.5 194.5,941.8 195.3,941.1 196.1,941.1 196.9,940.8 197.8,940.9 198.6,939.0 199.4,938.5 200.2,939.1 201.0,937.8 201.8,937.2 202.7,937.4 203.5,936.5 204.3,936.5 205.1,937.3 205.9,936.2 206.8,935.9 207.6,934.8 208.4,935.1 209.2,934.6 210.0,934.6 210.8,933.9 211.7,933.5 212.5,933.0 213.3,932.8 214.1,933.0 214.9,932.6 215.8,932.5 216.6,932.0 217.4,930.8 218.2,932.9 219.0,931.0 219.8,930.5 220.7,929.5 221.5,930.6 222.3,929.5 223.1,928.8 223.9,929.2 224.8,930.1 225.6,928.9 226.4,929.1 227.2,927.9 228.0,928.5 228.8,926.7 229.7,927.4 230.5,927.7 231.3,927.4 232.1,927.5 232.9,926.3 233.7,925.5 234.6,926.3 235.4,925.4 236.2,926.2 237.0,925.2 237.8,923.7 238.7,925.7 239.5,923.7 240.3,923.5 241.1,925.0 241.9,924.3 242.7,923.7 243.6,922.3 244.4,922.9 245.2,922.3 246.0,921.5 246.8,921.4 247.7,921.3 248.5,921.4 249.3,920.2 250.1,921.1 250.9,919.4 251.7,920.2 252.6,920.3 253.4,919.3 254.2,919.3 255.0,920.6 255.8,919.1 256.6,920.6 257.5,919.3 258.3,918.1 259.1,918.9 259.9,918.1 260.7,918.4 261.6,917.0 262.4,918.0 263.2,918.5 264.0,918.2 264.8,918.1 265.6,917.3 266.5,917.2 267.3,916.5 268.1,916.8 268.9,916.5 269.7,916.0 270.6,916.0 271.4,915.6 272.2,915.0 273.0,914.9 273.8,915.3 274.6,915.8 275.5,915.0 276.3,914.1 277.1,915.6 277.9,914.0 278.7,913.3 279.5,913.5 280.4,913.5 281.2,911.4 282.0,911.2 282.8,912.0 283.6,910.9 284.5,909.2 285.3,911.3 286.1,909.0 286.9,910.8 287.7,910.0 288.5,910.5 289.4,909.5 290.2,910.1 291.0,908.9 291.8,907.9 292.6,908.5 293.5,908.6 294.3,906.2 295.1,908.5 295.9,907.4 296.7,907.8 297.5,907.1 298.4,907.0 299.2,906.7 300.0,906.6 300.8,906.7 301.6,906.2 302.5,905.2 303.3,905.3 304.1,905.5 304.9,905.1 305.7,905.0 306.5,904.3 307.4,904.1 308.2,903.8 309.0,904.0 309.8,903.2 310.6,903.8 311.4,904.5 312.3,902.8 313.1,903.4 313.9,902.7 314.7,902.6 315.5,901.2 316.4,902.2 317.2,901.2 318.0,901.7 318.8,901.8 319.6,901.8 320.4,900.1 321.3,899.8 322.1,899.3 322.9,898.6 323.7,899.4 324.5,899.1 325.4,899.1 326.2,898.7 327.0,898.7 327.8,898.8 328.6,896.9 329.4,899.0 330.3,897.6 331.1,897.2 331.9,897.0 332.7,897.4 333.5,896.5 334.3,896.5 335.2,896.6 336.0,895.9 336.8,896.0 337.6,895.9 338.4,895.2 339.3,896.0 340.1,894.8 340.9,895.3 341.7,894.6 342.5,894.5 343.3,894.3 344.2,894.7 345.0,894.0 345.8,893.8 346.6,892.6 347.4,892.1 348.3,891.7 349.1,892.4 349.9,891.9 350.7,892.6 351.5,894.6 352.3,892.0 353.2,891.9 354.0,892.3 354.8,893.7 355.6,890.9 356.4,891.4 357.3,891.7 358.1,889.0 358.9,890.1 359.7,890.1 360.5,889.2 361.3,889.9 362.2,888.1 363.0,889.9 363.8,889.5 364.6,888.8 365.4,889.0 366.2,887.6 367.1,889.1 367.9,888.3 368.7,887.5 369.5,887.2 370.3,886.8 371.2,886.7 372.0,885.4 372.8,886.6 373.6,886.2 374.4,885.6 375.2,886.1 376.1,886.1 376.9,886.0 377.7,886.0 378.5,886.1 379.3,885.5 380.2,885.8 381.0,884.4 381.8,885.1 382.6,882.9 383.4,882.8 384.2,882.8 385.1,883.1 385.9,883.1 386.7,882.0 387.5,882.5 388.3,882.1 389.1,882.9 390.0,881.8 390.8,882.6 391.6,882.2 392.4,883.2 393.2,882.5 394.1,881.5 394.9,881.6 395.7,881.4 396.5,880.5 397.3,880.8 398.1,880.0 399.0,881.9 399.8,879.6 400.6,879.4 401.4,880.2 402.2,879.9 403.1,878.7 403.9,880.4 404.7,879.0 405.5,878.1 406.3,878.4 407.1,877.7 408.0,878.3 408.8,877.6 409.6,877.1 410.4,877.4 411.2,878.6 412.0,876.9 412.9,877.2 413.7,877.4 414.5,874.8 415.3,877.7 416.1,875.2 417.0,876.5 417.8,874.9 418.6,875.7 419.4,876.1 420.2,875.1 421.0,874.7 421.9,874.4 422.7,873.7 423.5,874.5 424.3,873.7 425.1,873.3 426.0,873.4 426.8,873.7 427.6,873.5 428.4,872.2 429.2,871.9 430.0,872.6 430.9,872.7 431.7,870.9 432.5,872.2 433.3,871.0 434.1,871.6 435.0,872.0 435.8,870.7 436.6,870.7 437.4,869.6 438.2,868.9 439.0,870.1 439.9,869.2 440.7,868.9 441.5,869.8 442.3,869.7 443.1,867.9 443.9,868.8 444.8,868.5 445.6,868.3 446.4,868.0 447.2,868.0 448.0,867.1 448.9,866.6 449.7,867.1 450.5,867.4 451.3,866.2 452.1,866.9 452.9,866.1 453.8,864.8 454.6,864.1 455.4,865.2 456.2,865.8 457.0,864.6 457.9,866.4 458.7,865.4 459.5,864.1 460.3,864.4 461.1,865.7 461.9,865.6 462.8,864.0 463.6,864.3 464.4,864.5 465.2,863.6 466.0,864.0 466.8,864.5 467.7,862.7 468.5,863.3 469.3,863.0 470.1,863.1 470.9,862.0 471.8,862.5 472.6,861.5 473.4,861.9 474.2,861.0 475.0,861.8 475.8,861.6 476.7,862.4 477.5,861.8 478.3,860.5 479.1,858.8 479.9,860.9 480.8,860.8 481.6,859.8 482.4,859.6 483.2,860.2 484.0,859.7 484.8,860.4 485.7,859.6 486.5,858.9 487.3,858.6 488.1,859.8 488.9,859.3 489.8,858.8 490.6,858.2 491.4,858.4 492.2,859.0 493.0,858.5 493.8,857.9 494.7,858.7 495.5,858.8 496.3,858.0 497.1,858.0 497.9,857.4 498.7,857.9 499.6,858.1 500.4,857.8 501.2,858.7 502.0,858.0 502.8,857.4 503.7,857.3 504.5,855.9 505.3,858.2 506.1,856.6 506.9,856.5 507.7,855.3 508.6,855.9 509.4,856.2 510.2,855.3 511.0,855.9 511.8,856.4 512.7,854.9 513.5,855.3 514.3,854.5 515.1,854.7 515.9,854.5 516.7,854.7 517.6,855.1 518.4,853.7 519.2,854.0 520.0,853.7 520.8,853.9 521.6,854.1 522.5,854.3 523.3,853.3 524.1,853.1 524.9,854.0 525.7,853.4 526.6,852.8 527.4,853.9 528.2,853.3 529.0,853.7 529.8,852.2 530.6,852.7 531.5,852.8 532.3,853.2 533.1,852.3 533.9,851.5 534.7,852.0 535.6,851.7 536.4,851.0 537.2,852.0 538.0,851.2 538.8,850.5 539.6,851.2 540.5,851.1 541.3,850.3 542.1,850.4 542.9,850.5 543.7,850.3 544.5,850.4 545.4,850.8 546.2,850.6 547.0,849.9 547.8,849.4 548.6,849.4 549.5,850.6 550.3,849.3 551.1,849.3 551.9,849.6 552.7,848.9 553.5,848.6 554.4,846.3 555.2,849.2 556.0,848.0 556.8,848.1 557.6,848.1 558.5,847.2 559.3,847.0 560.1,848.0 560.9,847.5 561.7,847.2 562.5,848.1 563.4,846.7 564.2,847.2 565.0,846.9 565.8,846.7 566.6,845.8 567.5,846.7 568.3,846.7 569.1,845.2 569.9,846.4 570.7,846.2 571.5,846.5 572.4,845.0 573.2,845.4 574.0,845.2 574.8,845.3 575.6,845.6 576.4,846.0 577.3,845.9 578.1,845.1 578.9,845.1 579.7,844.1 580.5,845.3 581.4,845.1 582.2,845.2 583.0,843.6 583.8,844.9 584.6,843.6 585.4,843.2 586.3,844.2 587.1,843.5 587.9,845.0 588.7,843.8 589.5,844.3 590.4,843.2 591.2,843.2 592.0,843.3 592.8,842.2 593.6,842.2 594.4,842.2 595.3,842.1 596.1,842.6 596.9,841.7 597.7,840.2 598.5,841.7 599.3,840.9 600.2,841.1 601.0,840.0 601.8,840.4 602.6,841.0 603.4,841.8 604.3,840.8 605.1,839.6 605.9,840.4 606.7,839.8 607.5,840.2 608.3,840.9 609.2,839.5 610.0,839.3 610.8,839.5 611.6,839.4 612.4,838.7 613.3,839.1 614.1,838.4 614.9,838.3 615.7,839.4 616.5,838.1 617.3,838.2 618.2,838.0 619.0,837.4 619.8,837.8 620.6,836.7 621.4,836.4 622.2,836.7 623.1,837.8 623.9,837.2 624.7,836.2 625.5,836.9 626.3,837.2 627.2,836.4 628.0,835.9 628.8,836.0 629.6,835.3 630.4,836.0 631.2,835.3 632.1,835.2 632.9,834.7 633.7,835.3 634.5,833.8 635.3,835.3 636.2,832.5 637.0,832.2 637.8,832.2 638.6,832.4 639.4,833.2 640.2,832.1 641.1,832.5 641.9,832.4 642.7,833.4 643.5,833.4 644.3,832.9 645.2,832.1 646.0,833.1 646.8,831.9 647.6,831.6 648.4,833.9 649.2,833.4 650.1,833.7 650.9,833.4 651.7,833.8 652.5,833.1 653.3,832.4 654.1,832.4 655.0,832.9 655.8,833.0 656.6,833.1 657.4,833.4 658.2,833.3 659.1,834.1 659.9,834.2 660.7,835.6 661.5,835.0 662.3,834.8 663.1,836.2 664.0,837.5 664.8,836.4 665.6,837.5 666.4,841.7 667.2,838.1 668.1,838.1 668.9,838.5 669.7,838.2 670.5,838.9 671.3,839.6 672.1,841.4 673.0,841.3 673.8,841.1 674.6,841.5 675.4,842.8 676.2,842.6 677.0,842.3 677.9,844.0 678.7,844.4 679.5,843.7 680.3,843.5 681.1,844.2 682.0,845.5 682.8,844.4 683.6,845.4 684.4,844.5 685.2,845.6 686.0,845.8 686.9,845.9 687.7,846.9 688.5,846.6 689.3,846.6 690.1,847.4 691.0,847.3 691.8,849.1 692.6,848.8 693.4,849.6 694.2,850.4 695.0,850.5 695.9,851.1 696.7,851.6 697.5,851.8 698.3,851.6 699.1,852.6 700.0,852.3 700.8,853.6 701.6,853.0 702.4,851.7 703.2,853.0 704.0,853.4 704.9,854.1 705.7,854.5 706.5,854.2 707.3,855.3 708.1,855.6 708.9,854.7 709.8,856.1 710.6,855.0 711.4,857.2 712.2,856.5 713.0,857.8 713.9,857.4 714.7,858.6 715.5,858.5 716.3,858.8 717.1,859.5 717.9,858.9 718.8,858.5 719.6,860.0 720.4,859.4 721.2,860.3 722.0,860.7 722.9,859.7 723.7,863.8 724.5,861.7 725.3,862.6 726.1,862.0 726.9,862.3 727.8,860.1 728.6,862.6 729.4,862.1 730.2,862.4 731.0,863.6 731.8,863.5 732.7,862.8 733.5,863.7 734.3,864.0 735.1,864.0 735.9,865.4 736.8,865.0 737.6,864.3 738.4,864.4 739.2,865.5 740.0,865.4 740.8,865.7 741.7,866.1 742.5,865.6 743.3,866.3 744.1,866.6 744.9,867.8 745.8,867.8 746.6,867.5 747.4,868.9 748.2,867.8 749.0,868.4 749.8,868.5 750.7,868.0 751.5,868.9 752.3,870.0 753.1,869.3 753.9,869.2 754.7,865.5 755.6,870.7 756.4,869.7 757.2,870.2 758.0,869.8 758.8,871.0 759.7,872.6 760.5,870.8 761.3,872.6 762.1,872.2 762.9,873.3 763.7,874.5 764.6,873.4 765.4,872.9 766.2,873.2 767.0,874.2 767.8,874.0 768.7,874.7 769.5,874.6 770.3,875.1 771.1,875.1 771.9,876.1 772.7,876.5 773.6,876.6 774.4,877.2 775.2,878.2 776.0,876.8 776.8,878.4 777.7,878.1 778.5,878.1 779.3,877.9 780.1,880.0 780.9,877.8 781.7,879.5 782.6,880.2 783.4,879.6 784.2,878.6 785.0,879.7 785.8,881.1 786.6,881.0 787.5,880.5 788.3,882.4 789.1,881.9 789.9,882.4 790.7,881.1 791.6,883.1 792.4,882.4 793.2,884.0 794.0,884.4 794.8,883.9 795.6,884.2 796.5,885.8 797.3,884.8 798.1,885.1 798.9,886.1 799.7,885.5 800.6,885.6 801.4,886.3 802.2,886.4 803.0,886.4 803.8,886.3 804.6,887.4 805.5,886.8 806.3,887.9 807.1,887.2 807.9,887.9 808.7,888.7 809.5,888.0 810.4,887.6 811.2,888.4 812.0,890.5 812.8,889.2 813.6,890.1 814.5,890.4 815.3,890.8 816.1,890.6 816.9,890.3 817.7,890.9 818.5,891.8 819.4,892.2 820.2,892.3 821.0,891.8 821.8,891.3 822.6,893.0 823.5,892.6 824.3,893.0 825.1,893.1 825.9,892.7 826.7,892.7 827.5,894.1 828.4,893.9 829.2,892.7 830.0,893.3 830.8,893.6 831.6,894.3 832.5,894.4 833.3,894.2 834.1,895.2 834.9,895.8 835.7,895.3 836.5,895.0 837.4,896.3 838.2,895.4 839.0,895.9 839.8,897.1 840.6,896.7 841.4,896.9 842.3,896.0 843.1,896.5 843.9,897.8 844.7,898.0 845.5,897.2 846.4,897.7 847.2,897.6 848.0,897.9 848.8,897.5 849.6,899.4 850.4,898.3 851.3,899.8 852.1,899.0 852.9,898.9 853.7,900.4 854.5,899.6 855.4,900.2 856.2,900.5 857.0,900.4 857.8,901.0 858.6,901.1 859.4,900.4 860.3,900.7 861.1,901.5 861.9,902.5 862.7,900.6 863.5,901.6 864.3,902.2 865.2,903.2 866.0,903.3 866.8,903.2 867.6,904.0 868.4,902.5 869.3,903.7 870.1,903.6 870.9,904.4 871.7,904.6 872.5,904.5 873.3,904.2 874.2,904.5 875.0,904.7 875.8,904.6 876.6,905.2 877.4,904.6 878.3,905.8 879.1,906.4 879.9,905.7 880.7,905.1 881.5,906.5 882.3,906.3 883.2,906.4 884.0,906.1 884.8,906.0 885.6,906.8 886.4,906.6 887.2,906.1 888.1,906.4 888.9,906.7 889.7,906.8 890.5,907.7 891.3,908.1 892.2,907.4 893.0,908.8 893.8,908.3 894.6,909.4 895.4,908.8 896.2,908.9 897.1,909.1 897.9,908.2 898.7,909.1 899.5,909.0 900.3,909.4 901.2,909.4 902.0,908.2 902.8,909.5 903.6,909.2 904.4,910.5 905.2,910.7 906.1,910.5 906.9,910.7 907.7,911.2 908.5,910.9 909.3,910.4 910.2,911.4 911.0,911.6 911.8,912.0 912.6,910.5 913.4,911.0 914.2,911.7 915.1,911.7 915.9,912.6 916.7,912.5 917.5,912.4 918.3,912.8 919.1,913.6 920.0,913.7 920.8,912.9 921.6,913.2 922.4,914.8 923.2,913.5 924.1,913.0 924.9,914.1 925.7,913.8 926.5,914.7 927.3,913.4 928.1,915.4 929.0,914.9 929.8,914.5 930.6,913.2 931.4,915.2 932.2,915.7 933.1,915.2 933.9,915.2 934.7,914.5 935.5,916.7 936.3,917.2 937.1,916.5 938.0,916.1 938.8,916.1 939.6,915.7 940.4,917.2 941.2,916.7 942.0,916.3 942.9,916.0 943.7,915.9 944.5,916.5 945.3,917.0 946.1,916.2 947.0,916.2 947.8,915.1 948.6,916.9 949.4,916.2 950.2,918.1 951.0,917.8 951.9,918.1 952.7,917.8 953.5,918.1 954.3,918.1 955.1,917.9 956.0,918.6 956.8,918.1 957.6,918.4 958.4,918.5 959.2,917.9 960.0,918.8 960.9,919.1 961.7,919.3 962.5,919.0 963.3,918.9 964.1,919.8 965.0,918.6" fill="none" stroke="#808080" stroke-width="5.1" stroke-linejoin="miter" stroke-miterlimit="14" stroke-dasharray="6.84 10.73"/>
<polyline points="147.1,963.2 147.9,957.8 148.7,953.8 149.5,952.7 150.3,951.9 151.1,951.2 152.0,950.4 152.8,948.9 153.6,948.7 154.4,949.1 155.2,948.6 156.0,947.6 156.9,947.2 157.7,947.2 158.5,947.0 159.3,945.4 160.1,945.4 161.0,945.9 161.8,946.8 162.6,946.7 163.4,945.2 164.2,944.4 165.0,943.8 165.9,943.0 166.7,941.8 167.5,941.5 168.3,942.5 169.1,942.2 170.0,940.7 170.8,939.9 171.6,940.1 172.4,939.9 173.2,939.2 174.0,939.1 174.9,938.0 175.7,937.6 176.5,937.6 177.3,936.3 178.1,936.1 178.9,936.5 179.8,936.0 180.6,935.6 181.4,935.8 182.2,935.6 183.0,934.1 183.9,934.4 184.7,934.1 185.5,932.9 186.3,933.3 187.1,932.1 187.9,931.0 188.8,932.2 189.6,932.1 190.4,930.7 191.2,930.6 192.0,930.3 192.9,929.6 193.7,929.4 194.5,928.4 195.3,928.5 196.1,928.5 196.9,927.8 197.8,927.5 198.6,927.4 199.4,927.4 200.2,926.6 201.0,925.9 201.8,925.2 202.7,925.8 203.5,926.2 204.3,925.2 205.1,925.5 205.9,925.7 206.8,924.9 207.6,923.8 208.4,922.8 209.2,923.2 210.0,923.7 210.8,923.4 211.7,922.5 212.5,922.3 213.3,923.0 214.1,922.1 214.9,921.8 215.8,921.5 216.6,921.6 217.4,921.1 218.2,920.6 219.0,919.8 219.8,918.8 220.7,919.0 221.5,918.6 222.3,918.6 223.1,918.0 223.9,917.5 224.8,917.5 225.6,917.7 226.4,917.6 227.2,917.4 228.0,918.3 228.8,917.6 229.7,916.8 230.5,916.5 231.3,914.7 232.1,915.1 232.9,916.0 233.7,915.3 234.6,914.2 235.4,914.3 236.2,914.2 237.0,913.3 237.8,912.7 238.7,913.1 239.5,913.3 240.3,912.6 241.1,912.6 241.9,912.5 242.7,912.1 243.6,911.5 244.4,910.9 245.2,911.1 246.0,911.1 246.8,910.9 247.7,911.2 248.5,911.2 249.3,909.9 250.1,910.0 250.9,909.6 251.7,909.4 252.6,909.1 253.4,908.4 254.2,908.1 255.0,907.4 255.8,908.1 256.6,907.6 257.5,906.2 258.3,906.6 259.1,907.0 259.9,906.4 260.7,906.5 261.6,905.7 262.4,905.3 263.2,905.6 264.0,905.5 264.8,905.1 265.6,905.1 266.5,903.8 267.3,903.3 268.1,903.4 268.9,902.9 269.7,903.3 270.6,903.3 271.4,903.1 272.2,902.8 273.0,902.6 273.8,902.3 274.6,902.8 275.5,902.7 276.3,901.1 277.1,900.9 277.9,901.9 278.7,901.0 279.5,899.6 280.4,900.0 281.2,900.4 282.0,899.8 282.8,900.3 283.6,899.4 284.5,898.6 285.3,898.7 286.1,899.0 286.9,898.9 287.7,898.7 288.5,898.9 289.4,898.9 290.2,899.5 291.0,897.9 291.8,897.5 292.6,897.7 293.5,897.3 294.3,897.4 295.1,897.3 295.9,896.7 296.7,896.3 297.5,896.5 298.4,896.1 299.2,894.8 300.0,894.4 300.8,895.2 301.6,895.2 302.5,895.6 303.3,894.6 304.1,893.5 304.9,893.9 305.7,894.0 306.5,893.2 307.4,892.9 308.2,892.5 309.0,892.9 309.8,892.5 310.6,892.6 311.4,892.6 312.3,891.5 313.1,891.2 313.9,890.2 314.7,889.9 315.5,890.9 316.4,892.2 317.2,891.2 318.0,890.6 318.8,890.6 319.6,889.7 320.4,890.0 321.3,890.9 322.1,889.9 322.9,888.7 323.7,888.7 324.5,888.4 325.4,888.1 326.2,888.8 327.0,888.5 327.8,887.9 328.6,888.5 329.4,887.6 330.3,886.5 331.1,886.3 331.9,886.4 332.7,886.5 333.5,886.7 334.3,886.2 335.2,885.3 336.0,885.0 336.8,884.6 337.6,884.0 338.4,883.2 339.3,883.8 340.1,884.2 340.9,883.4 341.7,883.4 342.5,883.9 343.3,884.3 344.2,883.3 345.0,883.0 345.8,883.0 346.6,883.1 347.4,882.2 348.3,881.8 349.1,883.2 349.9,883.3 350.7,882.8 351.5,883.3 352.3,882.4 353.2,880.4 354.0,879.9 354.8,880.6 355.6,881.1 356.4,879.6 357.3,878.7 358.1,878.9 358.9,878.8 359.7,878.7 360.5,878.1 361.3,877.7 362.2,877.6 363.0,878.2 363.8,877.8 364.6,877.6 365.4,877.3 366.2,877.5 367.1,878.0 367.9,877.4 368.7,877.7 369.5,876.5 370.3,875.2 371.2,875.8 372.0,875.8 372.8,875.3 373.6,876.5 374.4,876.4 375.2,875.0 376.1,874.8 376.9,875.2 377.7,875.4 378.5,874.9 379.3,874.2 380.2,873.6 381.0,874.0 381.8,873.3 382.6,873.2 383.4,873.8 384.2,874.2 385.1,873.2 385.9,871.6 386.7,871.7 387.5,871.5 388.3,871.9 389.1,871.9 390.0,871.9 390.8,871.9 391.6,871.6 392.4,870.6 393.2,870.1 394.1,870.6 394.9,871.1 395.7,871.1 396.5,869.8 397.3,869.1 398.1,869.5 399.0,869.7 399.8,869.9 400.6,869.5 401.4,868.7 402.2,868.7 403.1,868.9 403.9,868.7 404.7,868.5 405.5,868.8 406.3,868.9 407.1,868.7 408.0,868.1 408.8,868.1 409.6,867.9 410.4,866.6 411.2,866.9 412.0,867.6 412.9,867.1 413.7,866.7 414.5,867.0 415.3,866.3 416.1,864.9 417.0,864.7 417.8,865.5 418.6,865.7 419.4,865.3 420.2,865.2 421.0,865.6 421.9,864.3 422.7,863.9 423.5,863.7 424.3,862.4 425.1,862.8 426.0,862.9 426.8,862.1 427.6,862.2 428.4,863.0 429.2,863.2 430.0,862.7 430.9,861.4 431.7,860.7 432.5,861.4 433.3,861.9 434.1,861.7 435.0,861.1 435.8,860.9 436.6,860.8 437.4,860.5 438.2,860.6 439.0,860.7 439.9,860.6 440.7,860.6 441.5,860.4 442.3,859.3 443.1,858.9 443.9,859.1 444.8,859.8 445.6,859.6 446.4,860.6 447.2,861.5 448.0,858.9 448.9,857.8 449.7,857.9 450.5,858.7 451.3,858.7 452.1,858.4 452.9,857.8 453.8,856.2 454.6,856.2 455.4,857.0 456.2,857.5 457.0,856.9 457.9,856.2 458.7,856.5 459.5,856.4 460.3,856.2 461.1,855.7 461.9,854.8 462.8,854.5 463.6,854.9 464.4,854.9 465.2,854.7 466.0,855.0 466.8,855.0 467.7,855.1 468.5,855.5 469.3,854.3 470.1,853.7 470.9,853.7 471.8,853.1 472.6,853.9 473.4,854.5 474.2,853.7 475.0,852.9 475.8,852.9 476.7,852.6 477.5,852.4 478.3,853.2 479.1,853.6 479.9,852.7 480.8,851.7 481.6,852.8 482.4,852.1 483.2,851.0 484.0,850.9 484.8,851.0 485.7,851.5 486.5,851.5 487.3,850.1 488.1,849.5 488.9,849.9 489.8,849.9 490.6,850.3 491.4,850.6 492.2,850.8 493.0,849.4 493.8,849.3 494.7,849.2 495.5,848.4 496.3,849.0 497.1,849.4 497.9,849.0 498.7,848.7 499.6,848.4 500.4,848.6 501.2,848.4 502.0,848.6 502.8,848.9 503.7,848.4 504.5,847.3 505.3,847.7 506.1,848.0 506.9,847.3 507.7,847.5 508.6,846.6 509.4,846.2 510.2,845.6 511.0,845.5 511.8,845.6 512.7,845.1 513.5,845.4 514.3,844.5 515.1,844.2 515.9,844.5 516.7,844.4 517.6,845.0 518.4,845.3 519.2,844.8 520.0,844.6 520.8,844.9 521.6,845.2 522.5,845.6 523.3,845.2 524.1,844.7 524.9,845.6 525.7,844.8 526.6,843.1 527.4,843.6 528.2,844.1 529.0,843.7 529.8,843.5 530.6,842.7 531.5,842.5 532.3,843.0 533.1,842.4 533.9,842.6 534.7,842.7 535.6,842.7 536.4,843.5 537.2,843.7 538.0,842.4 538.8,841.7 539.6,842.4 540.5,842.2 541.3,842.1 542.1,841.9 542.9,841.1 543.7,841.2 544.5,842.5 545.4,842.5 546.2,843.0 547.0,842.2 547.8,840.3 548.6,840.7 549.5,841.5 550.3,841.2 551.1,839.8 551.9,840.9 552.7,841.0 553.5,840.1 554.4,839.8 555.2,840.3 556.0,840.8 556.8,840.3 557.6,840.5 558.5,839.4 559.3,838.5 560.1,839.2 560.9,840.1 561.7,840.8 562.5,840.6 563.4,839.6 564.2,839.4 565.0,839.6 565.8,839.9 566.6,839.7 567.5,839.1 568.3,838.6 569.1,837.8 569.9,838.3 570.7,839.3 571.5,839.5 572.4,839.6 573.2,839.6 574.0,839.2 574.8,839.4 575.6,839.1 576.4,838.6 577.3,838.2 578.1,838.2 578.9,838.5 579.7,838.5 580.5,838.0 581.4,837.8 582.2,837.6 583.0,837.2 583.8,838.0 584.6,837.7 585.4,837.8 586.3,838.1 587.1,837.7 587.9,838.5 588.7,838.2 589.5,837.2 590.4,837.3 591.2,837.3 592.0,837.0 592.8,837.4 593.6,837.1 594.4,836.7 595.3,836.5 596.1,836.5 596.9,836.2 597.7,835.3 598.5,835.2 599.3,835.3 600.2,835.1 601.0,835.4 601.8,835.4 602.6,834.4 603.4,834.2 604.3,834.1 605.1,834.1 605.9,834.2 606.7,833.6 607.5,833.0 608.3,832.8 609.2,833.5 610.0,833.2 610.8,832.0 611.6,831.7 612.4,831.8 613.3,832.7 614.1,831.6 614.9,830.9 615.7,832.6 616.5,832.2 617.3,831.6 618.2,832.1 619.0,831.5 619.8,830.0 620.6,829.7 621.4,830.3 622.2,829.3 623.1,828.6 623.9,829.4 624.7,830.4 625.5,830.7 626.3,830.8 627.2,829.9 628.0,829.4 628.8,829.3 629.6,828.8 630.4,829.1 631.2,829.4 632.1,828.7 632.9,827.9 633.7,827.7 634.5,827.9 635.3,828.4 636.2,828.5 637.0,828.9 637.8,829.7 638.6,829.1 639.4,828.4 640.2,828.5 641.1,829.1 641.9,829.6 642.7,828.9 643.5,829.1 644.3,829.9 645.2,830.2 646.0,829.2 646.8,829.7 647.6,831.4 648.4,832.6 649.2,833.6 650.1,836.1 650.9,838.1 651.7,838.3 652.5,839.6 653.3,840.1 654.1,840.8 655.0,842.0 655.8,843.3 656.6,843.7 657.4,844.6 658.2,845.7 659.1,845.8 659.9,845.5 660.7,846.4 661.5,847.8 662.3,848.2 663.1,848.2 664.0,848.5 664.8,848.9 665.6,849.5 666.4,850.6 667.2,850.8 668.1,850.8 668.9,850.5 669.7,851.7 670.5,852.7 671.3,852.4 672.1,852.6 673.0,853.9 673.8,853.7 674.6,852.8 675.4,852.9 676.2,853.6 677.0,854.0 677.9,854.2 678.7,854.5 679.5,854.9 680.3,856.2 681.1,856.1 682.0,856.0 682.8,856.2 683.6,856.0 684.4,857.0 685.2,857.4 686.0,857.7 686.9,857.5 687.7,857.9 688.5,858.8 689.3,858.1 690.1,857.0 691.0,857.0 691.8,858.2 692.6,859.3 693.4,858.9 694.2,859.1 695.0,860.6 695.9,860.8 696.7,860.4 697.5,861.0 698.3,862.2 699.1,862.9 700.0,862.2 700.8,862.2 701.6,862.9 702.4,862.9 703.2,862.9 704.0,863.3 704.9,863.4 705.7,863.9 706.5,864.5 707.3,864.7 708.1,864.5 708.9,864.3 709.8,865.3 710.6,865.9 711.4,865.9 712.2,865.8 713.0,867.1 713.9,868.3 714.7,868.2 715.5,866.8 716.3,866.4 717.1,867.6 717.9,867.8 718.8,867.1 719.6,867.6 720.4,869.0 721.2,868.3 722.0,867.9 722.9,868.3 723.7,869.1 724.5,868.8 725.3,868.4 726.1,869.4 726.9,870.0 727.8,871.4 728.6,871.5 729.4,871.1 730.2,871.7 731.0,871.5 731.8,872.0 732.7,873.4 733.5,873.1 734.3,872.9 735.1,873.4 735.9,873.6 736.8,873.6 737.6,874.8 738.4,874.2 739.2,873.5 740.0,873.9 740.8,873.3 741.7,873.9 742.5,875.8 743.3,876.5 744.1,876.5 744.9,876.8 745.8,876.3 746.6,877.2 747.4,877.2 748.2,876.9 749.0,877.4 749.8,877.1 750.7,877.8 751.5,878.3 752.3,878.5 753.1,879.3 753.9,880.0 754.7,879.9 755.6,878.5 756.4,877.9 757.2,878.4 758.0,879.3 758.8,880.1 759.7,879.8 760.5,879.7 761.3,880.7 762.1,881.2 762.9,881.3 763.7,881.6 764.6,882.1 765.4,882.6 766.2,882.9 767.0,881.8 767.8,881.9 768.7,883.3 769.5,883.5 770.3,883.2 771.1,884.2 771.9,884.8 772.7,884.2 773.6,884.4 774.4,885.1 775.2,884.9 776.0,885.5 776.8,886.3 777.7,886.2 778.5,885.0 779.3,885.9 780.1,887.8 780.9,887.2 781.7,886.8 782.6,886.4 783.4,886.1 784.2,887.2 785.0,887.7 785.8,887.2 786.6,888.0 787.5,887.8 788.3,888.2 789.1,889.7 789.9,889.6 790.7,889.7 791.6,890.0 792.4,889.7 793.2,889.5 794.0,889.3 794.8,889.7 795.6,891.1 796.5,891.7 797.3,891.6 798.1,891.9 798.9,891.4 799.7,891.6 800.6,892.7 801.4,892.3 802.2,891.9 803.0,892.4 803.8,892.5 804.6,892.5 805.5,892.9 806.3,892.8 807.1,893.0 807.9,893.3 808.7,893.6 809.5,894.6 810.4,894.7 811.2,894.4 812.0,894.6 812.8,895.9 813.6,895.3 814.5,894.3 815.3,896.0 816.1,897.2 816.9,897.1 817.7,896.6 818.5,897.0 819.4,897.0 820.2,897.2 821.0,897.2 821.8,897.7 822.6,898.0 823.5,897.3 824.3,896.0 825.1,896.8 825.9,898.4 826.7,898.6 827.5,898.3 828.4,898.7 829.2,899.5 830.0,899.2 830.8,899.5 831.6,900.0 832.5,900.3 833.3,901.2 834.1,901.8 834.9,901.2 835.7,900.7 836.5,900.5 837.4,901.5 838.2,901.6 839.0,900.7 839.8,900.4 840.6,901.1 841.4,901.9 842.3,901.5 843.1,901.4 843.9,902.3 844.7,902.6 845.5,901.7 846.4,901.5 847.2,901.9 848.0,902.3 848.8,901.8 849.6,901.9 850.4,903.2 851.3,902.1 852.1,901.9 852.9,903.5 853.7,903.8 854.5,903.5 855.4,903.1 856.2,903.6 857.0,904.9 857.8,905.0 858.6,904.3 859.4,904.5 860.3,904.2 861.1,904.4 861.9,904.8 862.7,905.8 863.5,905.8 864.3,904.9 865.2,905.3 866.0,906.2 866.8,906.7 867.6,906.0 868.4,906.4 869.3,907.1 870.1,906.7 870.9,906.4 871.7,906.9 872.5,907.2 873.3,907.2 874.2,907.5 875.0,907.6 875.8,908.3 876.6,908.6 877.4,907.9 878.3,908.7 879.1,909.2 879.9,908.9 880.7,909.4 881.5,909.6 882.3,910.0 883.2,909.8 884.0,908.5 884.8,908.5 885.6,909.4 886.4,910.3 887.2,910.2 888.1,910.3 888.9,909.7 889.7,910.7 890.5,910.7 891.3,910.3 892.2,910.3 893.0,910.3 893.8,911.6 894.6,911.4 895.4,911.2 896.2,911.6 897.1,912.0 897.9,912.4 898.7,913.6 899.5,913.0 900.3,912.2 901.2,912.6 902.0,913.0 902.8,912.9 903.6,913.2 904.4,914.1 905.2,914.0 906.1,913.3 906.9,914.0 907.7,914.1 908.5,913.7 909.3,914.9 910.2,914.2 911.0,913.9 911.8,915.1 912.6,915.2 913.4,914.3 914.2,913.5 915.1,914.3 915.9,914.8 916.7,914.5 917.5,915.0 918.3,915.1 919.1,914.7 920.0,915.4 920.8,915.9 921.6,915.8 922.4,915.8 923.2,916.2 924.1,916.4 924.9,915.9 925.7,915.8 926.5,916.2 927.3,916.2 928.1,916.3 929.0,916.0 929.8,916.9 930.6,917.7 931.4,917.5 932.2,917.3 933.1,916.5 933.9,918.4 934.7,919.6 935.5,918.2 936.3,917.6 937.1,917.9 938.0,918.4 938.8,918.3 939.6,917.8 940.4,918.1 941.2,918.4 942.0,919.3 942.9,919.4 943.7,918.8 944.5,918.9 945.3,918.6 946.1,919.5 947.0,919.4 947.8,919.5 948.6,920.4 949.4,920.9 950.2,920.4 951.0,919.7 951.9,919.6 952.7,919.8 953.5,920.1 954.3,920.3 955.1,921.2 956.0,921.3 956.8,920.8 957.6,921.1 958.4,922.0 959.2,922.0 960.0,921.8 960.9,922.4 961.7,922.1 962.5,921.9 963.3,922.1 964.1,922.3 965.0,922.5" fill="none" stroke="#0065bd" stroke-width="5.1" stroke-linejoin="miter" stroke-miterlimit="14"/>
<polyline points="147.1,964.3 147.9,963.1 148.7,962.6 149.5,962.3 150.3,961.8 151.1,961.7 152.0,961.2 152.8,960.9 153.6,960.6 154.4,960.5 155.2,960.9 156.0,960.5 156.9,960.4 157.7,959.8 158.5,959.0 159.3,958.7 160.1,958.1 161.0,958.0 161.8,957.6 162.6,957.6 163.4,957.6 164.2,957.2 165.0,957.4 165.9,957.0 166.7,956.2 167.5,956.0 168.3,955.4 169.1,954.6 170.0,954.7 170.8,954.0 171.6,953.2 172.4,953.0 173.2,952.0 174.0,951.5 174.9,951.1 175.7,950.8 176.5,950.4 177.3,949.8 178.1,949.4 178.9,948.8 179.8,948.0 180.6,947.4 181.4,946.7 182.2,946.2 183.0,945.9 183.9,945.2 184.7,944.5 185.5,944.0 186.3,942.9 187.1,942.1 187.9,941.7 188.8,940.4 189.6,940.5 190.4,939.6 191.2,938.7 192.0,938.1 192.9,937.5 193.7,937.0 194.5,936.5 195.3,935.8 196.1,935.5 196.9,934.9 197.8,934.3 198.6,934.4 199.4,933.8 200.2,933.0 201.0,932.5 201.8,931.0 202.7,930.2 203.5,930.2 204.3,930.0 205.1,930.5 205.9,930.0 206.8,929.4 207.6,929.2 208.4,929.1 209.2,928.8 210.0,928.4 210.8,928.5 211.7,928.2 212.5,928.0 213.3,928.0 214.1,927.5 214.9,927.4 215.8,927.2 216.6,926.7 217.4,926.2 218.2,925.9 219.0,925.1 219.8,924.9 220.7,924.3 221.5,923.5 222.3,923.4 223.1,923.3 223.9,924.2 224.8,923.8 225.6,923.6 226.4,922.7 227.2,922.0 228.0,921.5 228.8,921.3 229.7,921.4 230.5,921.6 231.3,921.6 232.1,921.3 232.9,921.2 233.7,920.4 234.6,920.5 235.4,920.3 236.2,919.9 237.0,919.4 237.8,919.0 238.7,918.7 239.5,918.5 240.3,918.7 241.1,918.8 241.9,918.4 242.7,918.0 243.6,917.5 244.4,917.1 245.2,917.2 246.0,916.8 246.8,916.5 247.7,916.1 248.5,915.3 249.3,915.0 250.1,914.8 250.9,914.7 251.7,914.9 252.6,914.5 253.4,914.2 254.2,913.6 255.0,913.2 255.8,913.3 256.6,913.5 257.5,912.9 258.3,912.6 259.1,911.7 259.9,911.4 260.7,912.0 261.6,911.4 262.4,911.9 263.2,911.9 264.0,912.2 264.8,912.1 265.6,911.7 266.5,911.3 267.3,910.5 268.1,910.0 268.9,909.4 269.7,909.2 270.6,908.9 271.4,908.8 272.2,908.3 273.0,908.1 273.8,907.8 274.6,907.5 275.5,907.9 276.3,907.9 277.1,907.9 277.9,907.7 278.7,907.2 279.5,906.8 280.4,906.8 281.2,906.4 282.0,906.3 282.8,906.4 283.6,906.3 284.5,906.2 285.3,906.2 286.1,905.7 286.9,905.2 287.7,904.9 288.5,904.0 289.4,903.9 290.2,903.8 291.0,903.2 291.8,903.4 292.6,903.1 293.5,902.7 294.3,902.2 295.1,901.8 295.9,901.6 296.7,901.6 297.5,901.9 298.4,902.1 299.2,902.4 300.0,902.1 300.8,901.4 301.6,900.8 302.5,900.1 303.3,899.9 304.1,899.5 304.9,899.4 305.7,899.0 306.5,898.5 307.4,898.5 308.2,897.9 309.0,897.6 309.8,897.8 310.6,897.7 311.4,897.7 312.3,898.1 313.1,897.9 313.9,897.5 314.7,897.0 315.5,896.1 316.4,895.7 317.2,895.6 318.0,895.1 318.8,894.9 319.6,895.2 320.4,894.8 321.3,894.8 322.1,894.5 322.9,894.3 323.7,894.0 324.5,893.4 325.4,893.2 326.2,893.0 327.0,892.7 327.8,892.4 328.6,892.2 329.4,891.9 330.3,891.7 331.1,891.8 331.9,891.8 332.7,891.7 333.5,891.4 334.3,891.6 335.2,891.0 336.0,890.6 336.8,890.4 337.6,890.0 338.4,889.6 339.3,889.7 340.1,889.8 340.9,889.5 341.7,889.2 342.5,888.7 343.3,888.1 344.2,887.5 345.0,887.5 345.8,887.4 346.6,887.6 347.4,887.6 348.3,887.5 349.1,887.2 349.9,886.8 350.7,886.6 351.5,886.1 352.3,886.1 353.2,886.5 354.0,886.5 354.8,886.3 355.6,885.6 356.4,885.3 357.3,884.7 358.1,884.6 358.9,884.5 359.7,884.1 360.5,884.3 361.3,883.8 362.2,883.9 363.0,883.8 363.8,883.8 364.6,883.6 365.4,883.0 366.2,882.8 367.1,882.4 367.9,882.1 368.7,882.0 369.5,881.7 370.3,881.0 371.2,880.9 372.0,880.5 372.8,880.4 373.6,881.2 374.4,881.2 375.2,880.9 376.1,880.0 376.9,879.8 377.7,879.6 378.5,879.5 379.3,879.2 380.2,878.6 381.0,878.3 381.8,877.9 382.6,878.0 383.4,878.1 384.2,878.2 385.1,878.1 385.9,877.4 386.7,876.7 387.5,876.3 388.3,876.2 389.1,876.2 390.0,876.3 390.8,875.8 391.6,875.3 392.4,875.0 393.2,874.7 394.1,875.0 394.9,875.0 395.7,875.1 396.5,874.8 397.3,874.1 398.1,873.9 399.0,873.8 399.8,873.3 400.6,873.3 401.4,873.2 402.2,873.1 403.1,873.3 403.9,872.8 404.7,872.3 405.5,871.4 406.3,871.8 407.1,871.4 408.0,871.3 408.8,871.8 409.6,870.7 410.4,870.5 411.2,870.2 412.0,870.1 412.9,870.1 413.7,870.0 414.5,869.8 415.3,869.8 416.1,869.2 417.0,868.9 417.8,869.0 418.6,868.7 419.4,868.9 420.2,869.0 421.0,869.1 421.9,868.7 422.7,868.5 423.5,868.7 424.3,868.4 425.1,868.1 426.0,868.0 426.8,867.2 427.6,866.8 428.4,866.6 429.2,865.9 430.0,866.1 430.9,866.0 431.7,865.3 432.5,865.5 433.3,865.4 434.1,864.8 435.0,865.3 435.8,865.3 436.6,865.2 437.4,864.5 438.2,864.1 439.0,864.1 439.9,863.7 440.7,863.8 441.5,863.6 442.3,863.4 443.1,863.0 443.9,862.4 444.8,861.7 445.6,861.5 446.4,861.2 447.2,860.9 448.0,861.2 448.9,861.3 449.7,861.1 450.5,861.0 451.3,860.6 452.1,860.6 452.9,860.1 453.8,859.7 454.6,859.5 455.4,859.1 456.2,859.2 457.0,859.3 457.9,858.8 458.7,858.6 459.5,858.5 460.3,858.7 461.1,858.9 461.9,858.5 462.8,858.3 463.6,858.1 464.4,857.8 465.2,857.5 466.0,857.4 466.8,857.2 467.7,857.0 468.5,856.6 469.3,856.5 470.1,856.5 470.9,856.5 471.8,856.1 472.6,856.0 473.4,855.8 474.2,855.8 475.0,855.3 475.8,855.1 476.7,855.3 477.5,855.3 478.3,855.3 479.1,855.0 479.9,854.8 480.8,854.5 481.6,855.3 482.4,854.9 483.2,854.6 484.0,854.6 484.8,853.7 485.7,853.3 486.5,853.2 487.3,853.0 488.1,852.7 488.9,852.1 489.8,852.2 490.6,852.1 491.4,852.0 492.2,852.4 493.0,852.0 493.8,852.0 494.7,851.7 495.5,851.2 496.3,851.6 497.1,851.0 497.9,850.9 498.7,850.8 499.6,850.6 500.4,851.1 501.2,850.4 502.0,850.3 502.8,850.2 503.7,850.1 504.5,850.1 505.3,849.8 506.1,849.7 506.9,849.4 507.7,849.2 508.6,848.9 509.4,849.3 510.2,848.9 511.0,848.4 511.8,848.6 512.7,848.5 513.5,848.4 514.3,848.1 515.1,848.3 515.9,848.2 516.7,848.2 517.6,848.4 518.4,848.3 519.2,847.9 520.0,848.1 520.8,848.0 521.6,847.4 522.5,847.6 523.3,847.4 524.1,847.3 524.9,847.1 525.7,846.7 526.6,846.6 527.4,846.4 528.2,846.0 529.0,845.9 529.8,845.9 530.6,845.8 531.5,845.5 532.3,845.2 533.1,845.0 533.9,844.7 534.7,844.7 535.6,844.8 536.4,845.0 537.2,844.8 538.0,844.7 538.8,844.6 539.6,844.9 540.5,844.8 541.3,844.4 542.1,843.8 542.9,843.9 543.7,843.7 544.5,843.6 545.4,843.7 546.2,843.2 547.0,843.6 547.8,843.5 548.6,843.9 549.5,844.1 550.3,844.2 551.1,843.7 551.9,843.2 552.7,842.6 553.5,842.0 554.4,842.2 555.2,841.9 556.0,842.0 556.8,841.5 557.6,841.0 558.5,841.3 559.3,840.9 560.1,840.9 560.9,841.1 561.7,840.6 562.5,840.4 563.4,840.5 564.2,840.4 565.0,841.1 565.8,841.5 566.6,841.3 567.5,841.6 568.3,841.0 569.1,840.9 569.9,840.9 570.7,840.1 571.5,840.3 572.4,840.4 573.2,840.0 574.0,839.7 574.8,839.1 575.6,839.4 576.4,839.2 577.3,838.8 578.1,839.3 578.9,839.3 579.7,838.8 580.5,838.8 581.4,838.7 582.2,838.5 583.0,838.4 583.8,838.2 584.6,838.3 585.4,838.6 586.3,838.4 587.1,837.9 587.9,837.9 588.7,837.6 589.5,837.8 590.4,837.8 591.2,837.7 592.0,837.6 592.8,837.3 593.6,836.9 594.4,836.7 595.3,836.5 596.1,836.6 596.9,836.8 597.7,836.8 598.5,836.6 599.3,836.2 600.2,836.0 601.0,835.8 601.8,835.8 602.6,835.8 603.4,835.6 604.3,835.7 605.1,835.5 605.9,835.3 606.7,835.4 607.5,835.3 608.3,835.0 609.2,834.4 610.0,833.8 610.8,833.6 611.6,833.9 612.4,834.1 613.3,834.2 614.1,834.0 614.9,833.5 615.7,832.9 616.5,832.6 617.3,833.0 618.2,833.0 619.0,833.1 619.8,832.7 620.6,832.5 621.4,832.4 622.2,832.0 623.1,832.1 623.9,832.2 624.7,832.1 625.5,831.8 626.3,831.9 627.2,831.5 628.0,831.1 628.8,831.1 629.6,830.7 630.4,830.6 631.2,830.9 632.1,830.6 632.9,830.5 633.7,830.3 634.5,830.6 635.3,830.1 636.2,829.7 637.0,830.0 637.8,829.9 638.6,830.4 639.4,830.1 640.2,829.8 641.1,829.4 641.9,829.6 642.7,829.6 643.5,829.6 644.3,829.8 645.2,829.6 646.0,829.8 646.8,830.1 647.6,830.0 648.4,830.0 649.2,830.1 650.1,830.0 650.9,830.3 651.7,830.5 652.5,831.1 653.3,831.6 654.1,832.4 655.0,832.9 655.8,833.9 656.6,834.7 657.4,834.6 658.2,835.1 659.1,835.4 659.9,835.8 660.7,836.1 661.5,836.3 662.3,836.6 663.1,836.9 664.0,837.9 664.8,838.3 665.6,838.9 666.4,839.0 667.2,839.0 668.1,839.9 668.9,840.1 669.7,840.3 670.5,840.4 671.3,840.8 672.1,841.2 673.0,841.7 673.8,841.9 674.6,841.9 675.4,842.0 676.2,841.8 677.0,842.1 677.9,843.0 678.7,843.4 679.5,843.8 680.3,844.2 681.1,843.9 682.0,844.8 682.8,845.2 683.6,845.6 684.4,845.7 685.2,846.0 686.0,846.5 686.9,847.0 687.7,847.7 688.5,847.7 689.3,848.1 690.1,848.9 691.0,848.8 691.8,849.0 692.6,849.5 693.4,849.6 694.2,850.1 695.0,850.4 695.9,850.6 696.7,851.5 697.5,851.8 698.3,852.2 699.1,852.2 700.0,852.2 700.8,852.5 701.6,853.1 702.4,853.8 703.2,854.6 704.0,855.2 704.9,855.2 705.7,855.8 706.5,856.0 707.3,856.4 708.1,856.1 708.9,855.9 709.8,856.2 710.6,856.3 711.4,857.2 712.2,857.7 713.0,858.4 713.9,858.5 714.7,858.5 715.5,858.8 716.3,858.9 717.1,859.2 717.9,859.6 718.8,859.6 719.6,859.9 720.4,860.7 721.2,861.1 722.0,861.3 722.9,861.6 723.7,861.8 724.5,862.0 725.3,862.6 726.1,862.6 726.9,862.7 727.8,863.0 728.6,862.8 729.4,863.2 730.2,863.3 731.0,863.8 731.8,864.7 732.7,864.8 733.5,864.7 734.3,864.3 735.1,863.9 735.9,863.9 736.8,864.1 737.6,864.2 738.4,864.7 739.2,865.0 740.0,865.3 740.8,865.5 741.7,866.2 742.5,866.2 743.3,866.4 744.1,866.9 744.9,867.2 745.8,867.3 746.6,867.7 747.4,868.3 748.2,868.1 749.0,868.7 749.8,868.7 750.7,869.0 751.5,869.8 752.3,869.7 753.1,869.7 753.9,870.1 754.7,869.8 755.6,870.1 756.4,870.7 757.2,870.7 758.0,870.8 758.8,870.6 759.7,870.9 760.5,871.1 761.3,871.3 762.1,872.3 762.9,872.6 763.7,873.1 764.6,873.6 765.4,873.5 766.2,873.4 767.0,874.0 767.8,874.6 768.7,875.4 769.5,875.9 770.3,876.4 771.1,876.6 771.9,876.5 772.7,877.0 773.6,876.9 774.4,877.0 775.2,877.0 776.0,877.4 776.8,878.1 777.7,878.4 778.5,879.0 779.3,878.9 780.1,879.0 780.9,879.2 781.7,879.5 782.6,879.9 783.4,880.2 784.2,880.7 785.0,881.6 785.8,882.0 786.6,882.5 787.5,882.7 788.3,882.5 789.1,882.8 789.9,883.1 790.7,883.6 791.6,884.2 792.4,884.6 793.2,884.7 794.0,885.2 794.8,885.4 795.6,886.1 796.5,886.2 797.3,886.4 798.1,886.4 798.9,885.6 799.7,885.3 800.6,885.0 801.4,885.6 802.2,885.8 803.0,886.5 803.8,886.9 804.6,887.0 805.5,886.9 806.3,887.3 807.1,888.2 807.9,888.6 808.7,889.1 809.5,889.2 810.4,889.1 811.2,889.6 812.0,889.7 812.8,890.2 813.6,890.5 814.5,890.6 815.3,890.9 816.1,890.3 816.9,890.6 817.7,890.7 818.5,891.3 819.4,891.6 820.2,892.0 821.0,892.1 821.8,892.1 822.6,892.8 823.5,893.3 824.3,893.7 825.1,893.8 825.9,893.5 826.7,893.6 827.5,893.7 828.4,893.5 829.2,894.0 830.0,894.3 830.8,894.3 831.6,894.7 832.5,894.7 833.3,894.9 834.1,895.3 834.9,895.8 835.7,896.4 836.5,896.5 837.4,896.5 838.2,896.0 839.0,896.2 839.8,896.6 840.6,897.2 841.4,897.7 842.3,898.0 843.1,898.6 843.9,898.2 844.7,898.5 845.5,898.9 846.4,899.0 847.2,899.6 848.0,899.8 848.8,899.4 849.6,899.3 850.4,899.0 851.3,898.6 852.1,899.0 852.9,899.2 853.7,899.1 854.5,899.8 855.4,900.2 856.2,900.4 857.0,901.0 857.8,901.7 858.6,901.9 859.4,902.2 860.3,902.2 861.1,902.3 861.9,902.4 862.7,902.3 863.5,902.4 864.3,902.4 865.2,903.1 866.0,903.3 866.8,903.7 867.6,904.0 868.4,904.0 869.3,903.8 870.1,904.0 870.9,904.3 871.7,904.2 872.5,904.3 873.3,904.4 874.2,904.3 875.0,904.5 875.8,905.0 876.6,905.6 877.4,906.0 878.3,905.7 879.1,905.8 879.9,905.5 880.7,905.7 881.5,906.4 882.3,906.1 883.2,906.5 884.0,906.3 884.8,906.7 885.6,907.1 886.4,907.4 887.2,907.4 888.1,907.6 888.9,907.9 889.7,907.7 890.5,908.3 891.3,908.6 892.2,909.0 893.0,908.7 893.8,908.6 894.6,908.8 895.4,909.3 896.2,908.8 897.1,909.2 897.9,909.5 898.7,909.6 899.5,910.3 900.3,910.2 901.2,910.3 902.0,910.5 902.8,910.2 903.6,910.3 904.4,910.4 905.2,910.2 906.1,910.5 906.9,910.6 907.7,911.1 908.5,911.5 909.3,911.3 910.2,911.8 911.0,911.8 911.8,912.1 912.6,912.6 913.4,912.8 914.2,912.8 915.1,912.7 915.9,912.6 916.7,912.5 917.5,912.7 918.3,913.1 919.1,913.4 920.0,912.9 920.8,913.4 921.6,913.2 922.4,913.3 923.2,913.8 924.1,914.0 924.9,914.0 925.7,914.1 926.5,914.1 927.3,914.1 928.1,914.4 929.0,914.3 929.8,914.3 930.6,914.2 931.4,914.8 932.2,915.4 933.1,915.5 933.9,915.6 934.7,915.8 935.5,915.8 936.3,916.2 937.1,916.4 938.0,916.6 938.8,916.5 939.6,916.4 940.4,916.3 941.2,916.2 942.0,916.5 942.9,916.9 943.7,916.9 944.5,916.8 945.3,917.0 946.1,917.4 947.0,917.9 947.8,918.1 948.6,918.6 949.4,918.4 950.2,918.4 951.0,918.4 951.9,918.4 952.7,918.7 953.5,919.0 954.3,919.1 955.1,919.0 956.0,919.2 956.8,919.0 957.6,918.7 958.4,919.1 959.2,919.4 960.0,919.7 960.9,920.0 961.7,919.9 962.5,919.7 963.3,919.4 964.1,919.4 965.0,919.7" fill="none" stroke="#0065bd" stroke-width="5.1" stroke-linejoin="miter" stroke-miterlimit="14" stroke-dasharray="13.46 13.46"/>
<polyline points="147.1,963.4 147.9,963.1 148.7,963.0 149.5,963.1 150.3,963.0 151.1,963.1 152.0,963.1 152.8,962.3 153.6,962.3 154.4,962.0 155.2,961.5 156.0,961.9 156.9,961.3 157.7,961.3 158.5,961.3 159.3,961.1 160.1,960.9 161.0,960.8 161.8,960.8 162.6,960.1 163.4,960.0 164.2,959.9 165.0,959.7 165.9,959.5 166.7,959.1 167.5,958.7 168.3,958.3 169.1,957.8 170.0,957.5 170.8,957.3 171.6,956.5 172.4,956.1 173.2,955.4 174.0,955.0 174.9,954.4 175.7,953.6 176.5,953.3 177.3,952.4 178.1,952.3 178.9,951.8 179.8,951.1 180.6,951.2 181.4,950.4 182.2,949.8 183.0,949.5 183.9,949.3 184.7,948.4 185.5,948.3 186.3,947.2 187.1,946.6 187.9,946.3 188.8,945.6 189.6,945.5 190.4,945.1 191.2,944.8 192.0,944.2 192.9,943.6 193.7,942.8 194.5,941.9 195.3,941.2 196.1,940.9 196.9,940.7 197.8,940.0 198.6,939.4 199.4,939.1 200.2,938.5 201.0,937.9 201.8,937.6 202.7,936.9 203.5,936.7 204.3,936.7 205.1,936.4 205.9,936.3 206.8,936.0 207.6,935.3 208.4,934.8 209.2,934.6 210.0,934.4 210.8,934.1 211.7,933.6 212.5,933.2 213.3,932.9 214.1,932.7 214.9,932.5 215.8,932.5 216.6,931.7 217.4,931.8 218.2,931.6 219.0,931.1 219.8,930.9 220.7,930.1 221.5,929.9 222.3,929.5 223.1,929.3 223.9,929.1 224.8,929.2 225.6,929.4 226.4,928.9 227.2,928.6 228.0,927.9 228.8,927.4 229.7,927.4 230.5,927.1 231.3,927.5 232.1,927.2 232.9,926.5 233.7,926.3 234.6,925.7 235.4,925.7 236.2,925.7 237.0,924.9 237.8,925.0 238.7,924.5 239.5,923.9 240.3,924.3 241.1,924.0 241.9,924.0 242.7,923.7 243.6,923.2 244.4,922.8 245.2,922.0 246.0,921.8 246.8,921.3 247.7,921.3 248.5,921.1 249.3,920.8 250.1,920.4 250.9,920.1 251.7,920.1 252.6,919.6 253.4,919.7 254.2,919.8 255.0,919.5 255.8,919.9 256.6,919.7 257.5,919.3 258.3,919.3 259.1,918.4 259.9,918.3 260.7,918.0 261.6,917.9 262.4,917.9 263.2,917.9 264.0,918.1 264.8,918.1 265.6,917.7 266.5,917.2 267.3,916.9 268.1,916.7 268.9,916.3 269.7,916.1 270.6,915.8 271.4,915.5 272.2,915.2 273.0,915.1 273.8,915.1 274.6,915.1 275.5,915.0 276.3,915.1 277.1,914.7 277.9,914.1 278.7,914.0 279.5,913.4 280.4,912.7 281.2,912.2 282.0,911.7 282.8,911.2 283.6,910.7 284.5,910.5 285.3,909.6 286.1,910.0 286.9,910.2 287.7,909.8 288.5,910.2 289.4,910.0 290.2,909.8 291.0,908.9 291.8,908.5 292.6,908.4 293.5,907.6 294.3,907.9 295.1,907.4 295.9,907.4 296.7,907.6 297.5,907.1 298.4,907.0 299.2,906.7 300.0,906.7 300.8,906.4 301.6,906.1 302.5,905.6 303.3,905.4 304.1,905.1 304.9,905.1 305.7,905.1 306.5,904.5 307.4,904.3 308.2,904.0 309.0,903.7 309.8,903.5 310.6,903.8 311.4,903.6 312.3,903.7 313.1,903.4 313.9,902.8 314.7,902.5 315.5,902.1 316.4,901.7 317.2,901.5 318.0,901.8 318.8,901.6 319.6,901.3 320.4,900.7 321.3,900.0 322.1,899.1 322.9,899.1 323.7,899.0 324.5,898.9 325.4,899.0 326.2,898.7 327.0,898.7 327.8,898.1 328.6,898.3 329.4,898.0 330.3,897.7 331.1,897.6 331.9,897.1 332.7,896.9 333.5,896.6 334.3,896.7 335.2,896.3 336.0,896.2 336.8,896.1 337.6,895.7 338.4,895.8 339.3,895.4 340.1,895.2 340.9,895.1 341.7,894.8 342.5,894.6 343.3,894.5 344.2,894.3 345.0,894.0 345.8,893.7 346.6,892.9 347.4,892.3 348.3,892.1 349.1,891.9 349.9,892.1 350.7,892.9 351.5,892.9 352.3,892.9 353.2,892.9 354.0,892.6 354.8,892.3 355.6,892.2 356.4,892.0 357.3,890.6 358.1,890.3 358.9,890.1 359.7,889.4 360.5,889.7 361.3,889.2 362.2,889.0 363.0,889.3 363.8,888.9 364.6,889.3 365.4,888.6 366.2,888.6 367.1,888.5 367.9,887.9 368.7,887.9 369.5,887.3 370.3,887.0 371.2,886.2 372.0,886.2 372.8,886.0 373.6,885.9 374.4,886.0 375.2,885.9 376.1,885.9 376.9,886.1 377.7,886.0 378.5,885.9 379.3,885.9 380.2,885.4 381.0,885.2 381.8,884.3 382.6,883.7 383.4,883.3 384.2,882.6 385.1,882.6 385.9,882.5 386.7,882.6 387.5,882.3 388.3,882.3 389.1,882.3 390.0,882.4 390.8,882.2 391.6,882.5 392.4,882.7 393.2,882.5 394.1,882.2 394.9,881.5 395.7,881.1 396.5,881.0 397.3,880.5 398.1,880.8 399.0,880.6 399.8,880.0 400.6,880.2 401.4,879.6 402.2,879.4 403.1,880.0 403.9,879.6 404.7,878.9 405.5,878.9 406.3,878.2 407.1,878.0 408.0,877.9 408.8,877.6 409.6,877.6 410.4,877.7 411.2,877.4 412.0,877.5 412.9,877.6 413.7,876.4 414.5,876.5 415.3,876.3 416.1,875.9 417.0,875.9 417.8,875.4 418.6,875.8 419.4,875.3 420.2,875.3 421.0,875.0 421.9,874.4 422.7,874.2 423.5,873.8 424.3,873.8 425.1,873.7 426.0,873.3 426.8,873.4 427.6,873.1 428.4,872.7 429.2,872.4 430.0,872.2 430.9,872.0 431.7,872.0 432.5,871.6 433.3,871.3 434.1,871.8 435.0,871.3 435.8,871.2 436.6,870.7 437.4,869.8 438.2,869.7 439.0,869.2 439.9,869.1 440.7,869.3 441.5,869.3 442.3,869.0 443.1,868.9 443.9,868.6 444.8,868.3 445.6,868.3 446.4,868.1 447.2,867.7 448.0,867.3 448.9,867.2 449.7,866.8 450.5,866.6 451.3,866.8 452.1,866.6 452.9,865.8 453.8,865.3 454.6,864.9 455.4,864.9 456.2,864.7 457.0,865.4 457.9,865.6 458.7,865.1 459.5,865.1 460.3,864.8 461.1,865.0 461.9,864.9 462.8,864.8 463.6,864.5 464.4,864.0 465.2,864.0 466.0,864.1 466.8,863.6 467.7,863.6 468.5,863.4 469.3,862.7 470.1,862.8 470.9,862.7 471.8,862.3 472.6,861.9 473.4,861.6 474.2,861.5 475.0,861.6 475.8,861.6 476.7,862.0 477.5,861.7 478.3,860.8 479.1,860.3 479.9,859.9 480.8,860.0 481.6,860.3 482.4,860.0 483.2,859.8 484.0,860.0 484.8,859.9 485.7,859.6 486.5,859.3 487.3,859.3 488.1,859.2 488.9,859.0 489.8,858.9 490.6,858.5 491.4,858.5 492.2,858.4 493.0,858.5 493.8,858.5 494.7,858.4 495.5,858.1 496.3,858.5 497.1,858.1 497.9,857.6 498.7,857.9 499.6,857.7 500.4,858.1 501.2,858.1 502.0,858.2 502.8,857.9 503.7,857.1 504.5,857.0 505.3,856.9 506.1,856.9 506.9,856.5 507.7,856.0 508.6,855.9 509.4,855.6 510.2,855.7 511.0,856.0 511.8,855.5 512.7,855.6 513.5,855.3 514.3,854.6 515.1,854.7 515.9,854.4 516.7,854.6 517.6,854.3 518.4,854.2 519.2,854.0 520.0,853.9 520.8,853.9 521.6,853.8 522.5,853.9 523.3,853.7 524.1,853.7 524.9,853.4 525.7,853.2 526.6,853.5 527.4,853.3 528.2,853.3 529.0,853.2 529.8,852.9 530.6,852.9 531.5,852.7 532.3,852.6 533.1,852.4 533.9,852.2 534.7,851.8 535.6,851.3 536.4,851.6 537.2,851.5 538.0,851.2 538.8,851.1 539.6,850.9 540.5,850.7 541.3,850.7 542.1,850.5 542.9,850.3 543.7,850.4 544.5,850.6 545.4,850.5 546.2,850.3 547.0,850.1 547.8,849.7 548.6,849.9 549.5,849.6 550.3,849.5 551.1,849.6 551.9,849.2 552.7,848.9 553.5,848.2 554.4,848.0 555.2,847.8 556.0,847.8 556.8,848.1 557.6,847.7 558.5,847.6 559.3,847.4 560.1,847.3 560.9,847.4 561.7,847.7 562.5,847.4 563.4,847.3 564.2,847.2 565.0,846.8 565.8,846.5 566.6,846.4 567.5,846.4 568.3,846.0 569.1,846.1 569.9,846.0 570.7,846.0 571.5,845.9 572.4,845.7 573.2,845.4 574.0,845.1 574.8,845.3 575.6,845.6 576.4,845.8 577.3,845.6 578.1,845.5 578.9,844.9 579.7,844.8 580.5,844.8 581.4,844.9 582.2,844.8 583.0,844.6 583.8,844.2 584.6,843.7 585.4,843.9 586.3,843.6 587.1,843.9 587.9,844.1 588.7,844.2 589.5,844.0 590.4,843.6 591.2,843.6 592.0,842.8 592.8,842.7 593.6,842.4 594.4,841.8 595.3,842.2 596.1,842.2 596.9,841.6 597.7,841.5 598.5,841.0 599.3,840.9 600.2,840.8 601.0,840.3 601.8,840.6 602.6,841.0 603.4,841.1 604.3,840.7 605.1,840.6 605.9,840.1 606.7,840.0 607.5,840.2 608.3,840.1 609.2,840.0 610.0,839.8 610.8,839.2 611.6,839.0 612.4,839.1 613.3,838.9 614.1,838.7 614.9,838.7 615.7,838.4 616.5,838.6 617.3,838.5 618.2,837.7 619.0,837.9 619.8,837.5 620.6,836.8 621.4,836.8 622.2,836.8 623.1,837.1 623.9,837.0 624.7,837.0 625.5,836.9 626.3,836.8 627.2,836.5 628.0,836.2 628.8,835.9 629.6,835.6 630.4,835.5 631.2,835.2 632.1,835.3 632.9,835.1 633.7,834.5 634.5,834.6 635.3,834.2 636.2,833.4 637.0,832.9 637.8,832.2 638.6,832.3 639.4,832.4 640.2,832.5 641.1,832.2 641.9,832.7 642.7,833.1 643.5,833.1 644.3,833.0 645.2,832.9 646.0,832.3 646.8,832.1 647.6,832.6 648.4,832.5 649.2,833.3 650.1,833.6 650.9,833.7 651.7,833.4 652.5,833.2 653.3,832.9 654.1,832.6 655.0,832.7 655.8,832.8 656.6,833.1 657.4,833.3 658.2,833.5 659.1,833.9 659.9,834.5 660.7,834.8 661.5,835.1 662.3,835.6 663.1,836.1 664.0,836.4 664.8,837.3 665.6,838.6 666.4,838.7 667.2,839.1 668.1,839.5 668.9,838.4 669.7,838.5 670.5,838.9 671.3,839.6 672.1,840.7 673.0,841.1 673.8,841.6 674.6,842.1 675.4,842.3 676.2,842.4 677.0,843.1 677.9,843.6 678.7,843.9 679.5,844.2 680.3,844.0 681.1,844.4 682.0,844.6 682.8,845.1 683.6,845.1 684.4,845.0 685.2,845.5 686.0,845.7 686.9,846.2 687.7,846.4 688.5,846.7 689.3,847.0 690.1,847.0 691.0,847.7 691.8,848.4 692.6,849.0 693.4,849.8 694.2,849.9 695.0,850.7 695.9,851.2 696.7,851.5 697.5,851.8 698.3,852.2 699.1,852.2 700.0,852.5 700.8,853.0 701.6,852.8 702.4,852.9 703.2,852.8 704.0,853.1 704.9,853.9 705.7,854.2 706.5,854.7 707.3,855.1 708.1,855.2 708.9,855.7 709.8,855.4 710.6,856.0 711.4,856.4 712.2,856.8 713.0,857.4 713.9,857.8 714.7,858.3 715.5,858.6 716.3,859.1 717.1,859.0 717.9,859.0 718.8,859.3 719.6,859.2 720.4,859.6 721.2,860.3 722.0,860.2 722.9,861.4 723.7,861.5 724.5,862.2 725.3,862.9 726.1,862.3 726.9,861.9 727.8,861.8 728.6,861.8 729.4,861.9 730.2,862.6 731.0,862.8 731.8,863.2 732.7,863.5 733.5,863.4 734.3,863.7 735.1,864.4 735.9,864.7 736.8,864.8 737.6,864.8 738.4,864.9 739.2,865.0 740.0,865.4 740.8,865.9 741.7,866.0 742.5,865.9 743.3,866.3 744.1,866.7 744.9,867.4 745.8,867.5 746.6,868.3 747.4,868.3 748.2,868.3 749.0,868.5 749.8,868.2 750.7,868.6 751.5,869.0 752.3,869.3 753.1,869.4 753.9,868.6 754.7,868.6 755.6,868.7 756.4,869.1 757.2,870.3 758.0,870.4 758.8,871.1 759.7,871.2 760.5,872.0 761.3,872.3 762.1,872.4 762.9,873.4 763.7,873.7 764.6,873.7 765.4,873.7 766.2,873.6 767.0,873.5 767.8,874.2 768.7,874.6 769.5,874.6 770.3,875.1 771.1,875.4 771.9,875.7 772.7,876.4 773.6,876.8 774.4,877.4 775.2,877.5 776.0,877.7 776.8,878.0 777.7,878.2 778.5,878.0 779.3,878.6 780.1,878.5 780.9,878.9 781.7,879.7 782.6,879.4 783.4,879.5 784.2,879.6 785.0,879.7 785.8,880.2 786.6,880.8 787.5,881.6 788.3,881.7 789.1,881.9 789.9,882.0 790.7,882.2 791.6,882.5 792.4,882.8 793.2,883.6 794.0,883.8 794.8,884.5 795.6,884.7 796.5,884.7 797.3,885.1 798.1,885.7 798.9,885.6 799.7,885.5 800.6,885.9 801.4,886.1 802.2,886.3 803.0,886.3 803.8,886.6 804.6,887.0 805.5,887.3 806.3,887.5 807.1,887.5 807.9,888.2 808.7,888.2 809.5,888.2 810.4,888.2 811.2,888.7 812.0,889.1 812.8,889.7 813.6,890.2 814.5,890.2 815.3,890.5 816.1,890.5 816.9,890.9 817.7,891.0 818.5,891.4 819.4,892.0 820.2,892.2 821.0,891.9 821.8,892.2 822.6,892.2 823.5,892.5 824.3,893.2 825.1,892.8 825.9,892.9 826.7,893.2 827.5,893.5 828.4,893.4 829.2,893.6 830.0,893.3 830.8,893.6 831.6,894.1 832.5,894.2 833.3,894.7 834.1,895.1 834.9,895.4 835.7,895.5 836.5,895.7 837.4,895.5 838.2,895.8 839.0,896.4 839.8,896.5 840.6,896.8 841.4,896.8 842.3,896.5 843.1,896.7 843.9,897.1 844.7,897.4 845.5,898.0 846.4,897.7 847.2,897.5 848.0,897.7 848.8,898.3 849.6,898.4 850.4,898.8 851.3,899.3 852.1,899.0 852.9,899.7 853.7,899.4 854.5,899.8 855.4,900.3 856.2,900.3 857.0,900.7 857.8,900.7 858.6,900.7 859.4,900.9 860.3,901.2 861.1,901.3 861.9,901.4 862.7,901.7 863.5,901.8 864.3,901.9 865.2,902.6 866.0,903.1 866.8,903.7 867.6,903.4 868.4,903.3 869.3,903.6 870.1,903.6 870.9,904.1 871.7,904.5 872.5,904.5 873.3,904.6 874.2,904.5 875.0,904.5 875.8,904.8 876.6,905.1 877.4,905.1 878.3,905.6 879.1,905.7 879.9,905.7 880.7,906.0 881.5,906.1 882.3,906.3 883.2,906.3 884.0,906.2 884.8,906.2 885.6,906.4 886.4,906.5 887.2,906.5 888.1,906.6 888.9,906.6 889.7,906.9 890.5,907.4 891.3,907.7 892.2,908.1 893.0,908.2 893.8,908.7 894.6,908.9 895.4,909.0 896.2,909.2 897.1,908.7 897.9,908.9 898.7,909.0 899.5,909.0 900.3,909.4 901.2,909.0 902.0,909.2 902.8,909.2 903.6,909.3 904.4,910.2 905.2,910.5 906.1,910.9 906.9,911.0 907.7,911.0 908.5,910.8 909.3,911.1 910.2,911.1 911.0,911.4 911.8,911.5 912.6,911.3 913.4,911.2 914.2,911.1 915.1,911.8 915.9,912.1 916.7,912.3 917.5,912.7 918.3,913.0 919.1,913.3 920.0,913.5 920.8,913.4 921.6,913.7 922.4,913.7 923.2,913.7 924.1,914.0 924.9,913.5 925.7,914.1 926.5,914.0 927.3,914.4 928.1,914.7 929.0,914.7 929.8,914.6 930.6,914.6 931.4,914.8 932.2,914.8 933.1,915.7 933.9,915.1 934.7,915.3 935.5,916.1 936.3,916.5 937.1,916.7 938.0,916.6 938.8,916.1 939.6,916.2 940.4,916.5 941.2,916.4 942.0,916.5 942.9,916.4 943.7,916.0 944.5,916.3 945.3,916.5 946.1,916.7 947.0,916.1 947.8,915.9 948.6,915.9 949.4,916.6 950.2,917.5 951.0,917.7 951.9,918.2 952.7,918.0 953.5,918.0 954.3,918.1 955.1,918.2 956.0,918.4 956.8,918.5 957.6,918.3 958.4,918.1 959.2,918.4 960.0,918.7 960.9,918.9 961.7,919.2 962.5,918.9 963.3,919.3 964.1,919.2 965.0,918.9" fill="none" stroke="#0065bd" stroke-width="5.1" stroke-linejoin="miter" stroke-miterlimit="14" stroke-dasharray="5.36 8.41"/>
<polyline points="147.1,959.4 147.9,951.8 148.7,944.0 149.5,937.3 150.3,930.3 151.1,924.8 152.0,919.4 152.8,914.5 153.6,911.0 154.4,906.3 155.2,903.5 156.0,900.5 156.9,897.4 157.7,894.7 158.5,890.6 159.3,889.0 160.1,886.7 161.0,883.6 161.8,880.5 162.6,879.0 163.4,876.5 164.2,874.5 165.0,871.9 165.9,869.7 166.7,867.4 167.5,866.8 168.3,864.5 169.1,863.9 170.0,859.4 170.8,857.5 171.6,855.6 172.4,854.6 173.2,852.4 174.0,851.5 174.9,850.0 175.7,851.4 176.5,847.8 177.3,846.3 178.1,843.7 178.9,841.6 179.8,841.8 180.6,839.6 181.4,838.4 182.2,837.8 183.0,837.3 183.9,835.1 184.7,834.2 185.5,831.9 186.3,830.6 187.1,829.4 187.9,828.1 188.8,826.4 189.6,826.0 190.4,823.2 191.2,823.6 192.0,821.2 192.9,819.7 193.7,819.4 194.5,818.5 195.3,815.4 196.1,815.0 196.9,812.6 197.8,811.4 198.6,810.9 199.4,809.7 200.2,807.6 201.0,807.1 201.8,806.9 202.7,805.2 203.5,804.1 204.3,803.4 205.1,802.5 205.9,801.9 206.8,800.9 207.6,800.6 208.4,800.3 209.2,797.4 210.0,797.8 210.8,796.5 211.7,797.0 212.5,794.8 213.3,795.5 214.1,790.9 214.9,792.9 215.8,791.9 216.6,789.6 217.4,788.7 218.2,790.4 219.0,787.7 219.8,786.5 220.7,787.6 221.5,785.4 222.3,785.7 223.1,785.2 223.9,784.4 224.8,783.2 225.6,783.2 226.4,779.6 227.2,780.8 228.0,779.8 228.8,777.7 229.7,777.5 230.5,775.4 231.3,775.8 232.1,774.4 232.9,773.8 233.7,772.8 234.6,772.3 235.4,771.3 236.2,769.5 237.0,770.5 237.8,769.7 238.7,768.8 239.5,767.3 240.3,766.7 241.1,765.5 241.9,766.5 242.7,764.6 243.6,764.2 244.4,763.3 245.2,762.1 246.0,763.0 246.8,760.7 247.7,760.0 248.5,760.4 249.3,758.6 250.1,756.2 250.9,756.7 251.7,755.1 252.6,754.8 253.4,754.6 254.2,753.7 255.0,752.4 255.8,750.6 256.6,750.2 257.5,750.4 258.3,748.5 259.1,748.7 259.9,748.4 260.7,746.9 261.6,747.0 262.4,746.9 263.2,743.9 264.0,745.4 264.8,742.9 265.6,743.9 266.5,742.2 267.3,741.6 268.1,741.3 268.9,741.6 269.7,739.5 270.6,738.9 271.4,739.1 272.2,738.1 273.0,736.6 273.8,737.0 274.6,735.8 275.5,736.1 276.3,734.3 277.1,733.5 277.9,731.4 278.7,730.8 279.5,730.9 280.4,729.0 281.2,729.9 282.0,727.9 282.8,728.3 283.6,727.7 284.5,725.7 285.3,725.5 286.1,724.1 286.9,725.4 287.7,723.5 288.5,723.3 289.4,722.5 290.2,722.8 291.0,719.8 291.8,719.5 292.6,719.6 293.5,719.2 294.3,718.1 295.1,715.8 295.9,716.1 296.7,715.7 297.5,714.1 298.4,713.9 299.2,712.9 300.0,711.7 300.8,711.0 301.6,709.8 302.5,710.4 303.3,708.4 304.1,708.0 304.9,706.9 305.7,706.3 306.5,705.7 307.4,704.6 308.2,702.9 309.0,703.2 309.8,702.8 310.6,700.6 311.4,699.6 312.3,699.7 313.1,698.3 313.9,698.1 314.7,697.0 315.5,695.0 316.4,694.3 317.2,693.7 318.0,693.3 318.8,693.3 319.6,691.0 320.4,690.1 321.3,688.9 322.1,687.5 322.9,687.9 323.7,685.9 324.5,687.7 325.4,685.3 326.2,684.7 327.0,683.7 327.8,683.3 328.6,682.5 329.4,681.1 330.3,682.0 331.1,680.2 331.9,678.0 332.7,679.4 333.5,679.1 334.3,677.1 335.2,676.6 336.0,675.7 336.8,674.7 337.6,675.1 338.4,673.5 339.3,672.4 340.1,672.9 340.9,672.1 341.7,671.8 342.5,670.0 343.3,668.4 344.2,670.0 345.0,667.9 345.8,666.7 346.6,667.0 347.4,666.0 348.3,665.7 349.1,665.0 349.9,663.5 350.7,662.3 351.5,662.1 352.3,660.9 353.2,660.7 354.0,661.2 354.8,658.9 355.6,658.8 356.4,660.0 357.3,657.8 358.1,658.8 358.9,659.1 359.7,656.0 360.5,662.0 361.3,667.1 362.2,673.9 363.0,680.8 363.8,686.4 364.6,689.1 365.4,693.8 366.2,697.9 367.1,699.9 367.9,701.1 368.7,702.5 369.5,706.7 370.3,706.6 371.2,708.3 372.0,710.4 372.8,710.4 373.6,712.2 374.4,712.2 375.2,711.9 376.1,713.6 376.9,713.9 377.7,714.8 378.5,715.4 379.3,715.5 380.2,717.8 381.0,717.8 381.8,717.7 382.6,719.6 383.4,719.8 384.2,719.0 385.1,719.6 385.9,721.8 386.7,722.8 387.5,722.5 388.3,723.6 389.1,725.1 390.0,724.7 390.8,725.4 391.6,726.7 392.4,725.5 393.2,727.2 394.1,728.3 394.9,728.9 395.7,728.3 396.5,730.1 397.3,731.9 398.1,731.8 399.0,732.7 399.8,733.9 400.6,734.1 401.4,734.8 402.2,735.7 403.1,736.6 403.9,736.2 404.7,740.1 405.5,737.6 406.3,739.1 407.1,739.6 408.0,742.1 408.8,739.6 409.6,742.9 410.4,742.9 411.2,742.3 412.0,744.0 412.9,744.4 413.7,746.4 414.5,745.7 415.3,745.9 416.1,746.2 417.0,747.6 417.8,747.7 418.6,748.2 419.4,749.7 420.2,750.2 421.0,748.9 421.9,751.4 422.7,749.1 423.5,751.7 424.3,751.2 425.1,753.3 426.0,752.9 426.8,753.5 427.6,754.3 428.4,754.3 429.2,755.6 430.0,755.7 430.9,756.5 431.7,756.0 432.5,756.9 433.3,758.2 434.1,758.0 435.0,758.2 435.8,759.4 436.6,758.5 437.4,759.6 438.2,760.0 439.0,761.7 439.9,761.8 440.7,761.4 441.5,763.8 442.3,763.1 443.1,763.8 443.9,764.7 444.8,764.6 445.6,766.0 446.4,765.4 447.2,766.9 448.0,767.6 448.9,766.2 449.7,768.3 450.5,769.9 451.3,768.1 452.1,769.8 452.9,772.6 453.8,770.5 454.6,770.3 455.4,771.2 456.2,769.1 457.0,772.5 457.9,772.3 458.7,774.1 459.5,773.8 460.3,773.7 461.1,775.1 461.9,776.0 462.8,778.3 463.6,777.7 464.4,778.8 465.2,777.9 466.0,779.6 466.8,779.3 467.7,780.8 468.5,779.0 469.3,781.5 470.1,781.1 470.9,779.7 471.8,782.1 472.6,783.4 473.4,782.8 474.2,782.9 475.0,783.5 475.8,785.9 476.7,785.0 477.5,787.3 478.3,784.8 479.1,786.5 479.9,787.3 480.8,786.9 481.6,787.5 482.4,789.3 483.2,787.8 484.0,789.6 484.8,791.0 485.7,789.1 486.5,789.7 487.3,790.5 488.1,791.5 488.9,793.2 489.8,792.3 490.6,792.2 491.4,793.4 492.2,793.4 493.0,795.7 493.8,795.0 494.7,795.5 495.5,797.8 496.3,798.5 497.1,798.3 497.9,798.3 498.7,798.5 499.6,799.6 500.4,800.2 501.2,801.0 502.0,801.2 502.8,801.2 503.7,801.8 504.5,802.7 505.3,803.0 506.1,804.1 506.9,803.6 507.7,805.1 508.6,803.9 509.4,805.4 510.2,805.8 511.0,807.2 511.8,807.3 512.7,807.3 513.5,808.1 514.3,808.8 515.1,809.8 515.9,809.3 516.7,809.7 517.6,809.7 518.4,809.7 519.2,811.1 520.0,812.8 520.8,811.9 521.6,813.4 522.5,813.6 523.3,812.3 524.1,812.9 524.9,814.3 525.7,814.8 526.6,814.8 527.4,816.6 528.2,815.3 529.0,816.3 529.8,815.1 530.6,817.5 531.5,816.3 532.3,817.9 533.1,817.1 533.9,818.7 534.7,817.8 535.6,819.0 536.4,819.7 537.2,819.5 538.0,819.7 538.8,820.0 539.6,819.6 540.5,820.7 541.3,823.5 542.1,822.3 542.9,823.7 543.7,822.7 544.5,822.3 545.4,824.1 546.2,824.1 547.0,823.7 547.8,824.3 548.6,823.2 549.5,824.7 550.3,824.9 551.1,824.6 551.9,826.7 552.7,826.7 553.5,827.9 554.4,827.4 555.2,826.9 556.0,827.0 556.8,828.5 557.6,829.3 558.5,829.7 559.3,830.2 560.1,829.6 560.9,829.1 561.7,832.2 562.5,832.4 563.4,830.2 564.2,832.8 565.0,831.7 565.8,832.9 566.6,831.9 567.5,832.4 568.3,832.8 569.1,832.9 569.9,833.7 570.7,833.6 571.5,833.1 572.4,833.9 573.2,835.4 574.0,836.0 574.8,836.0 575.6,836.3 576.4,836.7 577.3,837.6 578.1,837.0 578.9,837.9 579.7,837.9 580.5,838.7 581.4,838.8 582.2,840.6 583.0,838.9 583.8,840.1 584.6,840.2 585.4,840.5 586.3,840.6 587.1,841.4 587.9,842.2 588.7,843.0 589.5,844.6 590.4,843.7 591.2,844.4 592.0,844.9 592.8,843.3 593.6,846.6 594.4,845.6 595.3,845.0 596.1,845.4 596.9,845.4 597.7,847.3 598.5,847.4 599.3,846.7 600.2,847.7 601.0,846.5 601.8,848.0 602.6,848.4 603.4,848.6 604.3,849.4 605.1,849.1 605.9,849.9 606.7,849.5 607.5,850.1 608.3,849.7 609.2,851.4 610.0,851.6 610.8,850.2 611.6,850.6 612.4,851.6 613.3,851.6 614.1,852.6 614.9,850.5 615.7,853.2 616.5,851.1 617.3,853.2 618.2,852.5 619.0,853.3 619.8,853.5 620.6,852.7 621.4,853.0 622.2,854.4 623.1,855.0 623.9,853.0 624.7,853.8 625.5,854.8 626.3,855.7 627.2,855.7 628.0,856.4 628.8,856.0 629.6,858.1 630.4,857.7 631.2,859.4 632.1,857.6 632.9,857.8 633.7,859.5 634.5,859.4 635.3,859.1 636.2,860.7 637.0,861.6 637.8,860.5 638.6,861.3 639.4,862.4 640.2,861.6 641.1,862.8 641.9,866.4 642.7,863.3 643.5,864.0 644.3,863.0 645.2,864.7 646.0,865.0 646.8,864.9 647.6,865.3 648.4,866.7 649.2,866.0 650.1,866.7 650.9,865.7 651.7,865.3 652.5,868.1 653.3,868.2 654.1,868.5 655.0,868.5 655.8,869.1 656.6,868.9 657.4,868.4 658.2,870.2 659.1,870.6 659.9,871.1 660.7,868.9 661.5,869.1 662.3,871.4 663.1,871.5 664.0,870.2 664.8,869.7 665.6,870.0 666.4,871.1 667.2,871.1 668.1,871.6 668.9,872.7 669.7,871.1 670.5,872.8 671.3,873.9 672.1,873.7 673.0,874.7 673.8,873.7 674.6,873.1 675.4,875.1 676.2,873.7 677.0,873.2 677.9,874.8 678.7,876.0 679.5,876.1 680.3,876.0 681.1,877.0 682.0,877.3 682.8,876.9 683.6,876.9 684.4,876.2 685.2,877.7 686.0,875.6 686.9,876.5 687.7,876.8 688.5,878.2 689.3,876.7 690.1,878.1 691.0,874.6 691.8,877.3 692.6,879.1 693.4,879.1 694.2,877.6 695.0,878.6 695.9,879.9 696.7,879.6 697.5,879.7 698.3,880.7 699.1,880.4 700.0,880.9 700.8,880.9 701.6,880.4 702.4,881.7 703.2,880.4 704.0,880.8 704.9,880.5 705.7,880.5 706.5,880.2 707.3,881.0 708.1,881.3 708.9,881.8 709.8,881.5 710.6,882.4 711.4,882.2 712.2,881.6 713.0,882.4 713.9,882.2 714.7,883.6 715.5,882.0 716.3,883.3 717.1,882.9 717.9,883.5 718.8,883.1 719.6,884.2 720.4,885.0 721.2,885.8 722.0,884.8 722.9,886.6 723.7,884.4 724.5,884.2 725.3,887.1 726.1,886.2 726.9,885.3 727.8,884.5 728.6,885.2 729.4,885.2 730.2,885.1 731.0,885.2 731.8,884.5" fill="none" stroke="#808080" stroke-width="5.1" stroke-linejoin="miter" stroke-miterlimit="14"/>
<polyline points="147.1,959.4 147.9,958.3 148.7,959.4 149.5,957.5 150.3,958.8 151.1,957.4 152.0,956.8 152.8,954.3 153.6,954.7 154.4,952.7 155.2,953.4 156.0,950.7 156.9,948.7 157.7,947.4 158.5,947.4 159.3,943.6 160.1,941.2 161.0,938.4 161.8,936.3 162.6,934.7 163.4,931.0 164.2,927.5 165.0,925.9 165.9,922.5 166.7,921.0 167.5,917.9 168.3,915.3 169.1,914.3 170.0,910.2 170.8,910.2 171.6,908.3 172.4,907.9 173.2,905.2 174.0,903.9 174.9,902.9 175.7,901.4 176.5,898.5 177.3,897.5 178.1,897.6 178.9,895.8 179.8,893.2 180.6,891.4 181.4,889.4 182.2,888.9 183.0,886.3 183.9,885.1 184.7,883.7 185.5,882.1 186.3,879.8 187.1,878.6 187.9,876.8 188.8,876.3 189.6,874.7 190.4,873.7 191.2,872.0 192.0,870.5 192.9,869.3 193.7,867.1 194.5,866.1 195.3,864.5 196.1,863.5 196.9,861.4 197.8,860.4 198.6,858.4 199.4,857.3 200.2,855.9 201.0,855.0 201.8,854.4 202.7,853.1 203.5,849.7 204.3,849.4 205.1,848.2 205.9,847.2 206.8,846.0 207.6,842.5 208.4,843.5 209.2,841.3 210.0,840.0 210.8,839.2 211.7,838.1 212.5,836.5 213.3,835.0 214.1,834.4 214.9,832.1 215.8,832.3 216.6,830.2 217.4,828.4 218.2,827.6 219.0,827.8 219.8,827.8 220.7,824.7 221.5,823.9 222.3,823.5 223.1,821.2 223.9,821.1 224.8,819.8 225.6,820.3 226.4,817.5 227.2,817.1 228.0,816.0 228.8,813.9 229.7,813.5 230.5,813.7 231.3,811.7 232.1,810.5 232.9,810.6 233.7,809.5 234.6,808.5 235.4,807.8 236.2,806.6 237.0,805.3 237.8,804.8 238.7,802.1 239.5,803.4 240.3,801.9 241.1,799.3 241.9,796.3 242.7,798.5 243.6,797.6 244.4,797.0 245.2,794.6 246.0,794.3 246.8,793.9 247.7,791.9 248.5,790.3 249.3,789.7 250.1,787.7 250.9,787.4 251.7,786.9 252.6,786.3 253.4,785.1 254.2,783.6 255.0,782.9 255.8,781.7 256.6,781.2 257.5,780.0 258.3,778.9 259.1,778.7 259.9,778.3 260.7,775.6 261.6,775.2 262.4,775.0 263.2,773.7 264.0,773.1 264.8,773.0 265.6,771.5 266.5,771.4 267.3,769.5 268.1,768.8 268.9,767.2 269.7,767.2 270.6,766.0 271.4,765.5 272.2,764.7 273.0,764.5 273.8,762.0 274.6,761.5 275.5,761.0 276.3,759.8 277.1,759.2 277.9,758.3 278.7,757.1 279.5,755.7 280.4,755.9 281.2,755.8 282.0,755.0 282.8,752.5 283.6,753.2 284.5,751.2 285.3,751.4 286.1,750.0 286.9,749.6 287.7,749.8 288.5,748.2 289.4,745.9 290.2,746.6 291.0,745.2 291.8,745.0 292.6,744.1 293.5,742.8 294.3,742.0 295.1,740.2 295.9,740.9 296.7,740.2 297.5,739.9 298.4,739.5 299.2,739.2 300.0,737.1 300.8,737.7 301.6,735.0 302.5,734.9 303.3,735.1 304.1,735.3 304.9,733.4 305.7,732.7 306.5,731.4 307.4,731.6 308.2,730.9 309.0,730.1 309.8,729.8 310.6,729.0 311.4,729.0 312.3,728.3 313.1,726.6 313.9,725.7 314.7,724.2 315.5,723.0 316.4,722.6 317.2,722.6 318.0,721.0 318.8,721.4 319.6,720.8 320.4,718.5 321.3,719.9 322.1,718.7 322.9,717.9 323.7,716.0 324.5,716.4 325.4,715.0 326.2,714.8 327.0,714.6 327.8,713.2 328.6,712.5 329.4,713.3 330.3,711.3 331.1,710.6 331.9,708.9 332.7,708.4 333.5,707.8 334.3,706.6 335.2,706.6 336.0,705.1 336.8,704.8 337.6,704.5 338.4,703.3 339.3,701.8 340.1,700.7 340.9,699.4 341.7,700.3 342.5,698.6 343.3,697.4 344.2,698.1 345.0,695.9 345.8,695.3 346.6,695.0 347.4,692.8 348.3,693.5 349.1,691.1 349.9,691.0 350.7,690.5 351.5,689.5 352.3,688.5 353.2,687.8 354.0,686.5 354.8,686.9 355.6,684.5 356.4,684.2 357.3,683.6 358.1,684.9 358.9,685.4 359.7,684.6 360.5,684.3 361.3,684.0 362.2,684.7 363.0,684.9 363.8,685.0 364.6,686.6 365.4,685.2 366.2,687.8 367.1,687.7 367.9,688.0 368.7,690.1 369.5,690.5 370.3,690.3 371.2,692.3 372.0,692.0 372.8,692.9 373.6,694.0 374.4,694.1 375.2,695.3 376.1,695.9 376.9,695.7 377.7,696.9 378.5,697.6 379.3,699.1 380.2,698.9 381.0,699.0 381.8,699.5 382.6,700.2 383.4,701.7 384.2,702.3 385.1,702.2 385.9,701.9 386.7,703.0 387.5,702.9 388.3,704.6 389.1,704.1 390.0,705.9 390.8,705.9 391.6,707.3 392.4,706.7 393.2,707.5 394.1,709.2 394.9,709.7 395.7,710.0 396.5,710.9 397.3,711.3 398.1,712.5 399.0,711.3 399.8,711.4 400.6,713.5 401.4,714.1 402.2,714.4 403.1,715.5 403.9,716.3 404.7,716.4 405.5,717.3 406.3,718.1 407.1,719.2 408.0,718.4 408.8,720.3 409.6,720.4 410.4,721.9 411.2,722.1 412.0,722.3 412.9,723.4 413.7,723.7 414.5,724.5 415.3,726.0 416.1,727.4 417.0,725.9 417.8,727.7 418.6,727.1 419.4,728.8 420.2,730.0 421.0,729.8 421.9,730.8 422.7,731.4 423.5,732.6 424.3,732.1 425.1,732.6 426.0,734.0 426.8,733.1 427.6,735.0 428.4,735.1 429.2,736.7 430.0,737.6 430.9,735.9 431.7,736.8 432.5,737.9 433.3,740.3 434.1,739.7 435.0,740.3 435.8,741.0 436.6,741.4 437.4,742.7 438.2,742.7 439.0,743.7 439.9,743.9 440.7,744.1 441.5,745.4 442.3,745.9 443.1,746.5 443.9,746.9 444.8,746.9 445.6,748.1 446.4,748.8 447.2,750.8 448.0,750.9 448.9,750.7 449.7,752.3 450.5,752.4 451.3,753.4 452.1,752.7 452.9,754.3 453.8,755.0 454.6,754.6 455.4,754.8 456.2,755.8 457.0,756.2 457.9,757.2 458.7,758.0 459.5,758.7 460.3,759.4 461.1,760.0 461.9,760.1 462.8,761.0 463.6,761.5 464.4,761.6 465.2,762.4 466.0,763.7 466.8,764.0 467.7,764.6 468.5,765.7 469.3,765.2 470.1,766.6 470.9,767.1 471.8,767.4 472.6,766.6 473.4,767.7 474.2,767.4 475.0,768.4 475.8,769.3 476.7,769.2 477.5,769.5 478.3,770.1 479.1,771.5 479.9,771.6 480.8,772.7 481.6,772.7 482.4,773.2 483.2,773.2 484.0,773.7 484.8,774.7 485.7,775.0 486.5,776.0 487.3,774.7 488.1,775.9 488.9,775.7 489.8,777.7 490.6,777.9 491.4,777.8 492.2,778.7 493.0,779.2 493.8,780.5 494.7,779.7 495.5,781.0 496.3,781.4 497.1,782.5 497.9,783.9 498.7,783.2 499.6,783.4 500.4,785.2 501.2,785.6 502.0,785.9 502.8,786.6 503.7,787.8 504.5,786.2 505.3,787.2 506.1,788.8 506.9,790.0 507.7,789.2 508.6,789.0 509.4,790.3 510.2,790.5 511.0,792.3 511.8,792.0 512.7,793.7 513.5,792.2 514.3,793.7 515.1,795.8 515.9,796.3 516.7,795.3 517.6,795.9 518.4,796.6 519.2,796.6 520.0,796.5 520.8,797.9 521.6,799.8 522.5,799.0 523.3,800.1 524.1,800.2 524.9,800.1 525.7,800.8 526.6,801.8 527.4,801.5 528.2,802.9 529.0,801.7 529.8,802.5 530.6,802.6 531.5,803.4 532.3,803.3 533.1,804.2 533.9,804.5 534.7,805.5 535.6,805.4 536.4,807.0 537.2,804.9 538.0,807.3 538.8,807.1 539.6,807.9 540.5,808.4 541.3,808.3 542.1,809.3 542.9,809.5 543.7,810.5 544.5,810.8 545.4,811.4 546.2,809.9 547.0,812.3 547.8,812.6 548.6,812.1 549.5,811.9 550.3,814.1 551.1,814.5 551.9,814.0 552.7,814.0 553.5,815.8 554.4,816.6 555.2,816.6 556.0,816.0 556.8,816.9 557.6,816.2 558.5,817.8 559.3,818.2 560.1,818.2 560.9,818.9 561.7,819.1 562.5,820.4 563.4,820.6 564.2,820.3 565.0,821.3 565.8,821.9 566.6,821.3 567.5,821.7 568.3,822.4 569.1,823.3 569.9,822.7 570.7,822.1 571.5,824.5 572.4,825.3 573.2,825.3 574.0,825.9 574.8,826.5 575.6,826.8 576.4,825.4 577.3,826.4 578.1,826.5 578.9,827.2 579.7,828.2 580.5,827.3 581.4,828.8 582.2,829.1 583.0,830.1 583.8,829.1 584.6,829.6 585.4,831.0 586.3,831.3 587.1,831.6 587.9,831.8 588.7,832.2 589.5,833.1 590.4,832.9 591.2,834.6 592.0,834.2 592.8,835.6 593.6,833.8 594.4,834.3 595.3,835.1 596.1,835.3 596.9,835.1 597.7,835.8 598.5,837.8 599.3,837.5 600.2,839.2 601.0,838.6 601.8,839.2 602.6,838.8 603.4,839.0 604.3,840.0 605.1,839.9 605.9,840.0 606.7,840.5 607.5,840.8 608.3,842.4 609.2,841.5 610.0,841.1 610.8,841.8 611.6,843.1 612.4,843.0 613.3,843.0 614.1,844.0 614.9,843.4 615.7,844.6 616.5,844.4 617.3,844.5 618.2,843.4 619.0,845.2 619.8,845.7 620.6,845.1 621.4,846.1 622.2,845.9 623.1,847.8 623.9,846.6 624.7,847.3 625.5,848.6 626.3,847.3 627.2,848.5 628.0,848.9 628.8,849.8 629.6,850.2 630.4,850.6 631.2,850.9 632.1,850.2 632.9,850.4 633.7,851.5 634.5,852.6 635.3,852.4 636.2,853.1 637.0,853.0 637.8,853.5 638.6,854.2 639.4,854.1 640.2,853.7 641.1,853.7 641.9,855.5 642.7,855.0 643.5,855.8 644.3,856.5 645.2,855.4 646.0,856.2 646.8,856.7 647.6,857.2 648.4,857.8 649.2,858.7 650.1,857.1 650.9,858.0 651.7,858.7 652.5,858.5 653.3,858.7 654.1,859.9 655.0,859.7 655.8,860.3 656.6,860.1 657.4,860.8 658.2,859.5 659.1,861.9 659.9,861.3 660.7,861.7 661.5,862.2 662.3,861.6 663.1,862.3 664.0,862.9 664.8,863.0 665.6,863.8 666.4,862.9 667.2,863.5 668.1,863.5 668.9,865.2 669.7,864.6 670.5,865.7 671.3,865.6 672.1,865.1 673.0,865.9 673.8,866.4 674.6,866.2 675.4,866.4 676.2,866.4 677.0,869.0 677.9,868.0 678.7,868.6 679.5,869.0 680.3,868.7 681.1,869.8 682.0,870.8 682.8,870.2 683.6,869.9 684.4,869.0 685.2,870.7 686.0,871.4 686.9,872.2 687.7,871.6 688.5,871.6 689.3,871.6 690.1,872.7 691.0,872.5 691.8,873.7 692.6,872.2 693.4,873.8 694.2,874.5 695.0,872.7 695.9,873.1 696.7,873.3 697.5,873.7 698.3,874.8 699.1,873.7 700.0,875.4 700.8,873.6 701.6,874.6 702.4,875.9 703.2,874.5 704.0,874.2 704.9,875.8 705.7,875.2 706.5,876.3 707.3,876.7 708.1,878.1 708.9,876.2 709.8,877.6 710.6,877.4 711.4,878.4 712.2,878.3 713.0,876.4 713.9,878.3 714.7,878.5 715.5,879.3 716.3,878.4 717.1,877.5 717.9,879.0 718.8,879.0 719.6,879.7 720.4,878.3 721.2,879.7 722.0,879.6 722.9,878.7 723.7,879.8 724.5,880.9 725.3,880.8 726.1,880.4 726.9,879.2 727.8,880.1 728.6,880.5 729.4,879.9 730.2,879.8 731.0,881.0 731.8,879.8" fill="none" stroke="#808080" stroke-width="5.1" stroke-linejoin="miter" stroke-miterlimit="14" stroke-dasharray="15.24 15.24"/>
<polyline points="147.1,961.7 147.9,961.4 148.7,959.8 149.5,959.2 150.3,959.4 151.1,958.4 152.0,957.6 152.8,956.8 153.6,957.6 154.4,955.8 155.2,954.5 156.0,952.8 156.9,951.4 157.7,950.3 158.5,948.3 159.3,948.2 160.1,943.3 161.0,942.5 161.8,940.9 162.6,940.2 163.4,938.2 164.2,935.9 165.0,934.6 165.9,934.0 166.7,933.3 167.5,930.8 168.3,929.9 169.1,927.7 170.0,927.3 170.8,925.2 171.6,923.4 172.4,922.3 173.2,919.9 174.0,919.6 174.9,918.2 175.7,916.4 176.5,914.2 177.3,913.4 178.1,912.2 178.9,909.8 179.8,908.7 180.6,907.7 181.4,906.3 182.2,905.2 183.0,903.5 183.9,902.3 184.7,901.7 185.5,900.2 186.3,899.1 187.1,897.7 187.9,896.4 188.8,895.9 189.6,894.2 190.4,892.5 191.2,890.9 192.0,890.2 192.9,888.1 193.7,888.2 194.5,886.6 195.3,886.3 196.1,885.3 196.9,883.8 197.8,882.4 198.6,881.7 199.4,880.7 200.2,880.1 201.0,879.2 201.8,877.8 202.7,876.2 203.5,874.7 204.3,878.5 205.1,872.5 205.9,871.2 206.8,869.9 207.6,869.3 208.4,868.1 209.2,867.6 210.0,866.4 210.8,865.2 211.7,865.2 212.5,864.1 213.3,862.6 214.1,862.4 214.9,860.7 215.8,860.4 216.6,858.4 217.4,857.3 218.2,856.6 219.0,855.6 219.8,854.1 220.7,854.0 221.5,852.0 222.3,850.7 223.1,849.1 223.9,849.0 224.8,848.1 225.6,846.4 226.4,845.2 227.2,845.5 228.0,843.8 228.8,842.7 229.7,842.2 230.5,842.0 231.3,841.0 232.1,838.8 232.9,837.1 233.7,837.5 234.6,835.4 235.4,834.2 236.2,835.0 237.0,833.9 237.8,831.8 238.7,831.0 239.5,830.5 240.3,830.0 241.1,828.8 241.9,828.5 242.7,826.0 243.6,827.3 244.4,826.9 245.2,824.9 246.0,823.0 246.8,823.3 247.7,822.1 248.5,821.7 249.3,820.2 250.1,820.0 250.9,819.1 251.7,818.6 252.6,816.8 253.4,814.6 254.2,814.8 255.0,813.9 255.8,811.7 256.6,812.4 257.5,811.7 258.3,809.8 259.1,809.9 259.9,808.0 260.7,807.0 261.6,808.2 262.4,806.7 263.2,804.2 264.0,805.1 264.8,803.9 265.6,802.7 266.5,802.5 267.3,801.9 268.1,799.7 268.9,799.9 269.7,798.4 270.6,797.9 271.4,796.9 272.2,796.4 273.0,794.5 273.8,794.4 274.6,792.5 275.5,793.0 276.3,791.7 277.1,790.5 277.9,790.1 278.7,789.8 279.5,788.9 280.4,788.9 281.2,787.3 282.0,789.8 282.8,785.3 283.6,783.7 284.5,782.5 285.3,782.3 286.1,782.1 286.9,780.7 287.7,780.4 288.5,779.4 289.4,778.6 290.2,779.9 291.0,776.6 291.8,776.4 292.6,775.4 293.5,775.6 294.3,773.7 295.1,773.0 295.9,773.7 296.7,772.4 297.5,770.3 298.4,769.9 299.2,768.8 300.0,768.1 300.8,766.0 301.6,767.2 302.5,766.2 303.3,765.1 304.1,764.5 304.9,763.4 305.7,762.4 306.5,762.4 307.4,760.4 308.2,759.0 309.0,758.2 309.8,756.8 310.6,756.4 311.4,756.3 312.3,754.3 313.1,754.3 313.9,752.9 314.7,753.3 315.5,753.8 316.4,752.8 317.2,751.3 318.0,750.3 318.8,750.1 319.6,748.7 320.4,749.3 321.3,748.3 322.1,746.7 322.9,746.5 323.7,745.8 324.5,744.3 325.4,744.0 326.2,744.4 327.0,743.1 327.8,743.6 328.6,741.8 329.4,740.8 330.3,741.3 331.1,738.8 331.9,738.0 332.7,738.0 333.5,737.0 334.3,735.9 335.2,736.3 336.0,734.9 336.8,734.6 337.6,735.0 338.4,733.9 339.3,733.0 340.1,731.0 340.9,731.1 341.7,730.0 342.5,730.0 343.3,729.9 344.2,727.4 345.0,726.3 345.8,727.1 346.6,726.7 347.4,725.3 348.3,726.4 349.1,725.1 349.9,725.2 350.7,723.6 351.5,722.9 352.3,722.8 353.2,722.4 354.0,722.3 354.8,721.2 355.6,719.4 356.4,719.5 357.3,718.2 358.1,718.9 358.9,718.0 359.7,717.7 360.5,717.1 361.3,715.9 362.2,717.1 363.0,715.4 363.8,715.2 364.6,715.7 365.4,715.6 366.2,715.8 367.1,715.5 367.9,716.2 368.7,717.0 369.5,716.9 370.3,716.8 371.2,717.4 372.0,718.0 372.8,718.2 373.6,719.0 374.4,719.3 375.2,720.1 376.1,719.2 376.9,718.6 377.7,719.6 378.5,719.9 379.3,719.2 380.2,719.9 381.0,720.0 381.8,720.0 382.6,720.0 383.4,720.9 384.2,721.6 385.1,720.6 385.9,722.0 386.7,723.1 387.5,723.1 388.3,723.3 389.1,725.6 390.0,724.4 390.8,725.9 391.6,725.3 392.4,726.7 393.2,727.8 394.1,727.8 394.9,728.5 395.7,730.1 396.5,730.0 397.3,731.1 398.1,731.0 399.0,732.9 399.8,732.9 400.6,734.9 401.4,734.3 402.2,736.4 403.1,736.6 403.9,736.6 404.7,737.6 405.5,738.2 406.3,739.2 407.1,739.6 408.0,740.7 408.8,740.1 409.6,740.2 410.4,740.9 411.2,741.8 412.0,741.8 412.9,743.0 413.7,743.4 414.5,744.3 415.3,745.0 416.1,746.3 417.0,748.0 417.8,747.1 418.6,748.2 419.4,747.5 420.2,750.1 421.0,749.4 421.9,751.1 422.7,751.2 423.5,752.4 424.3,752.3 425.1,753.0 426.0,752.7 426.8,753.8 427.6,754.2 428.4,754.2 429.2,754.8 430.0,755.5 430.9,755.2 431.7,756.4 432.5,756.6 433.3,757.4 434.1,758.1 435.0,759.7 435.8,758.0 436.6,760.6 437.4,759.1 438.2,759.0 439.0,761.3 439.9,760.7 440.7,761.6 441.5,761.9 442.3,763.4 443.1,763.3 443.9,763.9 444.8,763.5 445.6,763.5 446.4,764.9 447.2,765.7 448.0,764.6 448.9,766.6 449.7,767.2 450.5,767.6 451.3,767.8 452.1,768.1 452.9,769.5 453.8,770.1 454.6,769.6 455.4,770.4 456.2,771.7 457.0,772.2 457.9,772.9 458.7,772.7 459.5,774.2 460.3,774.4 461.1,775.2 461.9,775.6 462.8,775.8 463.6,776.3 464.4,777.1 465.2,777.3 466.0,777.8 466.8,778.5 467.7,779.1 468.5,779.3 469.3,779.3 470.1,779.7 470.9,780.9 471.8,781.6 472.6,781.9 473.4,781.4 474.2,782.6 475.0,784.0 475.8,784.1 476.7,784.8 477.5,785.1 478.3,786.5 479.1,786.0 479.9,787.4 480.8,787.9 481.6,786.6 482.4,787.5 483.2,789.1 484.0,789.6 484.8,790.1 485.7,791.2 486.5,790.8 487.3,790.8 488.1,791.5 488.9,790.9 489.8,792.0 490.6,792.6 491.4,791.9 492.2,792.8 493.0,793.5 493.8,793.0 494.7,793.9 495.5,795.6 496.3,795.6 497.1,796.5 497.9,797.5 498.7,796.1 499.6,796.8 500.4,798.9 501.2,798.4 502.0,800.3 502.8,799.1 503.7,800.3 504.5,800.8 505.3,800.6 506.1,801.8 506.9,802.6 507.7,802.4 508.6,803.6 509.4,803.5 510.2,804.4 511.0,803.9 511.8,804.9 512.7,805.4 513.5,807.6 514.3,805.6 515.1,807.1 515.9,806.4 516.7,808.3 517.6,808.7 518.4,809.3 519.2,809.0 520.0,810.3 520.8,810.3 521.6,811.9 522.5,811.9 523.3,811.9 524.1,812.5 524.9,814.2 525.7,813.0 526.6,814.1 527.4,812.8 528.2,814.4 529.0,813.3 529.8,814.5 530.6,814.9 531.5,816.2 532.3,816.3 533.1,816.2 533.9,817.9 534.7,816.5 535.6,818.1 536.4,817.9 537.2,819.9 538.0,818.5 538.8,818.2 539.6,819.2 540.5,819.6 541.3,820.2 542.1,820.5 542.9,819.4 543.7,821.4 544.5,821.5 545.4,821.8 546.2,822.7 547.0,822.6 547.8,822.8 548.6,823.4 549.5,822.2 550.3,824.2 551.1,823.5 551.9,824.4 552.7,826.4 553.5,825.5 554.4,825.2 555.2,825.9 556.0,827.3 556.8,827.1 557.6,828.4 558.5,828.6 559.3,828.4 560.1,828.5 560.9,828.0 561.7,829.0 562.5,828.9 563.4,830.3 564.2,830.8 565.0,831.0 565.8,829.9 566.6,832.0 567.5,832.4 568.3,832.0 569.1,831.8 569.9,833.9 570.7,833.5 571.5,834.4 572.4,833.1 573.2,833.5 574.0,834.4 574.8,834.9 575.6,835.3 576.4,835.5 577.3,836.2 578.1,836.6 578.9,837.4 579.7,837.2 580.5,837.9 581.4,837.4 582.2,839.3 583.0,838.3 583.8,838.6 584.6,838.6 585.4,839.9 586.3,840.9 587.1,841.0 587.9,840.4 588.7,841.6 589.5,842.3 590.4,842.8 591.2,842.5 592.0,843.3 592.8,844.3 593.6,843.8 594.4,843.1 595.3,843.0 596.1,844.4 596.9,844.9 597.7,844.0 598.5,845.1 599.3,846.3 600.2,846.0 601.0,845.8 601.8,845.7 602.6,847.2 603.4,847.0 604.3,847.6 605.1,846.9 605.9,847.6 606.7,848.2 607.5,849.1 608.3,848.8 609.2,849.2 610.0,851.5 610.8,849.1 611.6,850.0 612.4,850.4 613.3,851.0 614.1,850.9 614.9,850.8 615.7,851.8 616.5,851.1 617.3,851.2 618.2,851.4 619.0,852.4 619.8,851.8 620.6,852.7 621.4,852.0 622.2,851.8 623.1,852.6 623.9,853.8 624.7,854.3 625.5,854.8 626.3,854.7 627.2,855.9 628.0,856.1 628.8,857.7 629.6,857.3 630.4,857.5 631.2,857.6 632.1,857.1 632.9,859.1 633.7,859.4 634.5,858.5 635.3,859.7 636.2,859.7 637.0,859.9 637.8,860.2 638.6,861.1 639.4,860.4 640.2,860.4 641.1,862.0 641.9,861.9 642.7,861.8 643.5,862.4 644.3,863.3 645.2,863.0 646.0,862.8 646.8,864.0 647.6,863.5 648.4,863.8 649.2,864.7 650.1,864.2 650.9,864.3 651.7,863.8 652.5,864.8 653.3,866.6 654.1,865.5 655.0,866.0 655.8,866.1 656.6,867.2 657.4,866.3 658.2,866.9 659.1,868.0 659.9,866.9 660.7,868.4 661.5,868.6 662.3,868.0 663.1,868.8 664.0,868.4 664.8,869.1 665.6,869.2 666.4,869.1 667.2,869.8 668.1,869.6 668.9,869.7 669.7,870.8 670.5,870.2 671.3,870.6 672.1,871.2 673.0,870.8 673.8,870.8 674.6,871.7 675.4,873.3 676.2,872.2 677.0,872.7 677.9,873.3 678.7,873.0 679.5,873.6 680.3,872.7 681.1,873.8 682.0,874.0 682.8,873.7 683.6,873.7 684.4,874.0 685.2,874.6 686.0,875.2 686.9,875.4 687.7,876.9 688.5,876.9 689.3,875.5 690.1,876.6 691.0,875.7 691.8,876.0 692.6,878.1 693.4,877.4 694.2,876.0 695.0,878.3 695.9,877.7 696.7,878.2 697.5,878.5 698.3,878.7 699.1,878.8 700.0,878.8 700.8,879.8 701.6,879.3 702.4,880.2 703.2,879.5 704.0,880.0 704.9,880.8 705.7,880.6 706.5,881.4 707.3,881.2 708.1,880.0 708.9,881.8 709.8,880.4 710.6,880.4 711.4,881.2 712.2,880.1 713.0,880.4 713.9,881.7 714.7,880.9 715.5,881.2 716.3,882.3 717.1,881.2 717.9,881.8 718.8,883.0 719.6,883.9 720.4,882.6 721.2,883.5 722.0,884.0 722.9,883.3 723.7,884.7 724.5,883.5 725.3,882.4 726.1,885.2 726.9,883.4 727.8,884.3 728.6,884.4 729.4,884.7 730.2,883.6 731.0,884.5 731.8,884.9" fill="none" stroke="#808080" stroke-width="5.1" stroke-linejoin="miter" stroke-miterlimit="14" stroke-dasharray="6.20 9.73"/>
<polyline points="147.1,959.3 147.9,951.3 148.7,943.9 149.5,937.1 150.3,930.5 151.1,924.5 152.0,919.4 152.8,914.8 153.6,910.9 154.4,906.8 155.2,903.2 156.0,900.4 156.9,897.5 157.7,894.7 158.5,891.2 159.3,888.2 160.1,886.5 161.0,883.7 161.8,880.8 162.6,878.7 163.4,876.6 164.2,874.5 165.0,872.1 165.9,869.7 166.7,867.4 167.5,866.1 168.3,864.8 169.1,863.5 170.0,860.8 170.8,857.5 171.6,855.6 172.4,854.1 173.2,852.7 174.0,851.0 174.9,850.0 175.7,850.3 176.5,849.1 177.3,846.5 178.1,844.2 178.9,841.7 179.8,841.0 180.6,839.9 181.4,838.3 182.2,837.5 183.0,837.1 183.9,835.5 184.7,834.1 185.5,832.5 186.3,830.7 187.1,829.4 187.9,828.2 188.8,826.6 189.6,825.5 190.4,823.9 191.2,822.7 192.0,822.0 192.9,819.8 193.7,819.0 194.5,818.3 195.3,816.2 196.1,814.5 196.9,813.1 197.8,811.3 198.6,810.6 199.4,809.7 200.2,807.9 201.0,806.8 201.8,806.5 202.7,805.7 203.5,804.2 204.3,803.2 205.1,802.5 205.9,801.8 206.8,800.9 207.6,800.4 208.4,800.2 209.2,798.3 210.0,797.2 210.8,796.8 211.7,796.5 212.5,795.5 213.3,794.8 214.1,792.7 214.9,791.3 215.8,792.1 216.6,790.3 217.4,788.6 218.2,789.3 219.0,788.7 219.8,786.7 220.7,786.8 221.5,786.1 222.3,785.2 223.1,785.1 223.9,784.6 224.8,783.4 225.6,783.0 226.4,780.9 227.2,779.8 228.0,779.8 228.8,778.3 229.7,777.1 230.5,775.8 231.3,775.2 232.1,774.6 232.9,773.7 233.7,772.8 234.6,772.1 235.4,771.3 236.2,770.1 237.0,769.6 237.8,769.8 238.7,768.9 239.5,767.7 240.3,766.5 241.1,765.6 241.9,765.7 242.7,765.3 243.6,764.0 244.4,763.3 245.2,762.2 246.0,762.3 246.8,761.6 247.7,759.9 248.5,759.9 249.3,759.1 250.1,756.8 250.9,755.9 251.7,755.4 252.6,754.5 253.4,754.4 254.2,753.8 255.0,752.7 255.8,751.1 256.6,749.9 257.5,749.8 258.3,749.1 259.1,748.3 259.9,748.2 260.7,747.3 261.6,746.6 262.4,746.8 263.2,745.0 264.0,744.3 264.8,743.9 265.6,743.2 266.5,742.8 267.3,741.5 268.1,741.2 268.9,741.1 269.7,740.4 270.6,738.9 271.4,738.9 272.2,738.4 273.0,737.0 273.8,736.4 274.6,736.2 275.5,735.6 276.3,734.9 277.1,733.5 277.9,731.9 278.7,730.4 279.5,730.2 280.4,729.3 281.2,729.0 282.0,728.6 282.8,727.7 283.6,727.7 284.5,726.3 285.3,725.2 286.1,724.4 286.9,724.4 287.7,724.2 288.5,723.0 289.4,722.7 290.2,722.3 291.0,720.9 291.8,719.2 292.6,719.2 293.5,719.2 294.3,718.4 295.1,716.6 295.9,715.5 296.7,715.6 297.5,714.4 298.4,713.7 299.2,713.0 300.0,711.8 300.8,710.8 301.6,709.9 302.5,709.6 303.3,709.0 304.1,707.8 304.9,707.1 305.7,706.3 306.5,705.5 307.4,704.8 308.2,703.3 309.0,702.6 309.8,702.7 310.6,701.3 311.4,699.6 312.3,699.2 313.1,698.4 313.9,697.8 314.7,697.3 315.5,695.4 316.4,694.0 317.2,693.4 318.0,693.2 318.8,692.9 319.6,691.8 320.4,690.1 321.3,689.1 322.1,687.7 322.9,687.2 323.7,686.4 324.5,686.5 325.4,686.2 326.2,684.5 327.0,683.8 327.8,683.0 328.6,682.4 329.4,681.4 330.3,681.2 331.1,680.7 331.9,678.5 332.7,678.2 333.5,679.1 334.3,677.7 335.2,676.4 336.0,675.8 336.8,674.6 337.6,674.6 338.4,673.9 339.3,672.6 340.1,672.3 340.9,672.1 341.7,671.6 342.5,670.7 343.3,668.6 344.2,668.7 345.0,668.7 345.8,666.7 346.6,666.5 347.4,666.1 348.3,665.5 349.1,665.2 349.9,663.9 350.7,662.4 351.5,661.9 352.3,661.1 353.2,660.5 354.0,660.8 354.8,659.9 355.6,658.5 356.4,659.3 357.3,658.6 358.1,658.3 358.9,658.9 359.7,657.3 360.5,659.4 361.3,667.7 362.2,674.8 363.0,680.5 363.8,686.2 364.6,689.9 365.4,693.3 366.2,697.4 367.1,700.2 367.9,701.7 368.7,702.7 369.5,705.4 370.3,707.5 371.2,708.1 372.0,710.1 372.8,711.1 373.6,711.8 374.4,712.7 375.2,712.6 376.1,713.1 376.9,713.9 377.7,714.6 378.5,715.3 379.3,715.6 380.2,717.0 381.0,718.2 381.8,718.1 382.6,719.0 383.4,720.0 384.2,719.6 385.1,719.6 385.9,721.0 386.7,722.8 387.5,723.0 388.3,723.4 389.1,724.7 390.0,725.2 390.8,725.4 391.6,726.5 392.4,726.3 393.2,726.4 394.1,728.0 394.9,728.9 395.7,728.8 396.5,729.2 397.3,731.3 398.1,732.2 399.0,732.6 399.8,733.7 400.6,734.4 401.4,734.8 402.2,735.5 403.1,736.5 403.9,736.7 404.7,738.6 405.5,739.4 406.3,738.8 407.1,739.7 408.0,741.2 408.8,741.1 409.6,741.6 410.4,743.4 411.2,742.9 412.0,743.5 412.9,744.6 413.7,745.9 414.5,746.4 415.3,746.1 416.1,746.3 417.0,747.2 417.8,747.9 418.6,748.2 419.4,749.3 420.2,750.3 421.0,749.8 421.9,750.3 422.7,750.3 423.5,750.5 424.3,751.6 425.1,752.5 426.0,753.3 426.8,753.4 427.6,754.1 428.4,754.5 429.2,755.3 430.0,756.0 430.9,756.4 431.7,756.4 432.5,756.6 433.3,757.8 434.1,758.4 435.0,758.4 435.8,759.2 436.6,759.3 437.4,759.2 438.2,760.1 439.0,761.1 439.9,762.0 440.7,761.9 441.5,763.0 442.3,763.8 443.1,763.7 443.9,764.5 444.8,764.8 445.6,765.6 446.4,765.9 447.2,766.5 448.0,767.7 448.9,767.1 449.7,767.5 450.5,769.5 451.3,769.3 452.1,769.2 452.9,771.8 453.8,771.9 454.6,770.6 455.4,770.9 456.2,770.1 457.0,770.8 457.9,772.6 458.7,773.5 459.5,774.3 460.3,774.1 461.1,774.6 461.9,775.8 462.8,777.6 463.6,778.4 464.4,778.6 465.2,778.7 466.0,779.1 466.8,779.7 467.7,780.3 468.5,780.0 469.3,780.4 470.1,781.6 470.9,780.4 471.8,781.0 472.6,783.0 473.4,783.4 474.2,782.9 475.0,783.3 475.8,784.9 476.7,785.8 477.5,786.5 478.3,786.2 479.1,785.7 479.9,787.2 480.8,787.3 481.6,787.3 482.4,788.7 483.2,788.8 484.0,788.9 484.8,790.6 485.7,790.3 486.5,789.6 487.3,790.2 488.1,791.1 488.9,792.7 489.8,793.0 490.6,792.4 491.4,792.9 492.2,793.6 493.0,794.8 493.8,795.6 494.7,795.3 495.5,797.0 496.3,798.6 497.1,798.7 497.9,798.6 498.7,798.6 499.6,799.3 500.4,800.2 501.2,801.0 502.0,801.3 502.8,801.3 503.7,801.7 504.5,802.4 505.3,803.1 506.1,803.8 506.9,804.1 507.7,804.6 508.6,804.7 509.4,804.7 510.2,805.9 511.0,806.8 511.8,807.5 512.7,807.5 513.5,808.0 514.3,808.6 515.1,809.7 515.9,809.8 516.7,809.7 517.6,809.8 518.4,809.8 519.2,810.5 520.0,812.3 520.8,812.7 521.6,812.9 522.5,814.0 523.3,813.1 524.1,812.6 524.9,813.8 525.7,814.9 526.6,815.1 527.4,816.1 528.2,816.1 529.0,816.0 529.8,815.8 530.6,816.4 531.5,817.0 532.3,817.3 533.1,817.7 533.9,818.0 534.7,818.5 535.6,818.5 536.4,819.6 537.2,819.8 538.0,819.9 538.8,819.9 539.6,819.9 540.5,820.3 541.3,822.3 542.1,823.3 542.9,823.2 543.7,823.5 544.5,822.7 545.4,823.4 546.2,824.3 547.0,824.3 547.8,824.2 548.6,823.8 549.5,824.1 550.3,824.9 551.1,825.0 551.9,825.8 552.7,826.9 553.5,827.6 554.4,827.9 555.2,827.1 556.0,826.9 556.8,827.9 557.6,829.1 558.5,829.7 559.3,830.0 560.1,830.2 560.9,829.5 561.7,830.8 562.5,832.7 563.4,831.6 564.2,831.7 565.0,832.5 565.8,832.4 566.6,832.6 567.5,832.3 568.3,832.6 569.1,832.9 569.9,833.4 570.7,833.7 571.5,833.4 572.4,833.5 573.2,834.7 574.0,836.0 574.8,836.2 575.6,836.3 576.4,836.9 577.3,837.4 578.1,837.5 578.9,837.6 579.7,838.0 580.5,838.5 581.4,839.0 582.2,839.9 583.0,839.9 583.8,839.5 584.6,840.2 585.4,840.5 586.3,840.7 587.1,841.1 587.9,841.9 588.7,842.9 589.5,844.1 590.4,844.4 591.2,844.2 592.0,844.9 592.8,844.1 593.6,845.0 594.4,846.4 595.3,845.3 596.1,845.2 596.9,845.4 597.7,846.4 598.5,847.6 599.3,847.3 600.2,847.3 601.0,847.1 601.8,847.3 602.6,848.3 603.4,848.6 604.3,849.1 605.1,849.2 605.9,849.6 606.7,849.8 607.5,850.0 608.3,850.0 609.2,850.8 610.0,851.7 610.8,850.9 611.6,850.4 612.4,851.2 613.3,851.9 614.1,852.4 614.9,851.5 615.7,851.8 616.5,852.3 617.3,852.2 618.2,853.0 619.0,853.0 619.8,853.5 620.6,853.2 621.4,852.9 622.2,853.9 623.1,854.9 623.9,854.1 624.7,853.3 625.5,854.3 626.3,855.5 627.2,855.9 628.0,856.3 628.8,856.3 629.6,857.3 630.4,858.1 631.2,858.8 632.1,858.7 632.9,857.8 633.7,858.7 634.5,859.6 635.3,859.3 636.2,860.0 637.0,861.5 637.8,861.2 638.6,861.0 639.4,862.1 640.2,862.2 641.1,862.2 641.9,865.1 642.7,865.1 643.5,863.9 644.3,863.6 645.2,863.9 646.0,864.9 646.8,865.1 647.6,865.2 648.4,866.1 649.2,866.6 650.1,866.5 650.9,866.3 651.7,865.4 652.5,866.7 653.3,868.3 654.1,868.7 655.0,868.7 655.8,869.1 656.6,869.2 657.4,868.7 658.2,869.3 659.1,870.6 659.9,871.1 660.7,870.0 661.5,869.0 662.3,870.3 663.1,871.6 664.0,870.9 664.8,870.0 665.6,869.9 666.4,870.8 667.2,871.3 668.1,871.4 668.9,872.4 669.7,871.9 670.5,872.0 671.3,873.5 672.1,874.1 673.0,874.4 673.8,874.4 674.6,873.4 675.4,874.3 676.2,874.6 677.0,873.4 677.9,874.0 678.7,875.5 679.5,876.3 680.3,876.2 681.1,876.7 682.0,877.5 682.8,877.4 683.6,876.9 684.4,876.5 685.2,877.1 686.0,876.7 686.9,876.0 687.7,876.6 688.5,877.6 689.3,877.5 690.1,877.2 691.0,876.1 691.8,875.8 692.6,878.4 693.4,879.3 694.2,878.4 695.0,878.1 695.9,879.4 696.7,879.7 697.5,879.7 698.3,880.4 699.1,880.7 700.0,880.8 700.8,881.1 701.6,880.7 702.4,881.2 703.2,881.0 704.0,880.5 704.9,880.7 705.7,880.4 706.5,880.2 707.3,880.7 708.1,881.2 708.9,881.4 709.8,881.7 710.6,881.9 711.4,882.5 712.2,882.0 713.0,882.1 713.9,882.3 714.7,883.1 715.5,882.8 716.3,882.5 717.1,883.2 717.9,883.3 718.8,883.4 719.6,883.7 720.4,884.8 721.2,885.6 722.0,885.5 722.9,885.9 723.7,885.7 724.5,884.4 725.3,885.8 726.1,886.8 726.9,885.9 727.8,884.8 728.6,884.7 729.4,885.2 730.2,885.1 731.0,885.2 731.8,884.8" fill="none" stroke="#e37222" stroke-width="5.1" stroke-linejoin="miter" stroke-miterlimit="14"/>
<polyline points="147.1,959.2 147.9,958.8 148.7,958.6 149.5,958.3 150.3,958.0 151.1,957.4 152.0,956.6 152.8,955.4 153.6,954.2 154.4,953.2 155.2,952.5 156.0,950.9 156.9,949.3 157.7,947.8 158.5,946.1 159.3,944.0 160.1,941.7 161.0,938.7 161.8,936.4 162.6,933.8 163.4,931.0 164.2,928.4 165.0,925.4 165.9,922.9 166.7,920.6 167.5,917.9 168.3,915.9 169.1,913.4 170.0,911.4 170.8,909.9 171.6,908.3 172.4,907.1 173.2,905.5 174.0,904.3 174.9,902.6 175.7,901.0 176.5,899.3 177.3,898.0 178.1,896.8 178.9,895.4 179.8,893.8 180.6,891.8 181.4,890.0 182.2,888.2 183.0,886.7 183.9,885.2 184.7,883.5 185.5,882.0 186.3,880.3 187.1,878.5 187.9,877.1 188.8,875.8 189.6,874.8 190.4,873.5 191.2,872.1 192.0,870.7 192.9,869.1 193.7,867.5 194.5,866.1 195.3,864.6 196.1,863.2 196.9,861.6 197.8,860.0 198.6,858.5 199.4,857.2 200.2,856.0 201.0,855.0 201.8,854.0 202.7,852.3 203.5,850.9 204.3,849.4 205.1,848.0 205.9,847.0 206.8,845.3 207.6,844.0 208.4,842.6 209.2,841.0 210.0,840.4 210.8,838.9 211.7,837.9 212.5,836.7 213.3,835.4 214.1,834.0 214.9,832.9 215.8,831.8 216.6,830.2 217.4,829.0 218.2,827.9 219.0,827.4 219.8,826.5 220.7,825.7 221.5,824.6 222.3,822.8 223.1,821.8 223.9,820.8 224.8,820.1 225.6,819.3 226.4,818.1 227.2,817.3 228.0,815.6 228.8,814.5 229.7,813.8 230.5,812.7 231.3,812.1 232.1,811.2 232.9,810.1 233.7,809.3 234.6,808.8 235.4,807.7 236.2,806.6 237.0,805.7 237.8,804.1 238.7,803.3 239.5,802.5 240.3,801.2 241.1,799.6 241.9,798.4 242.7,797.3 243.6,796.8 244.4,796.4 245.2,795.3 246.0,794.5 246.8,793.3 247.7,792.0 248.5,790.9 249.3,789.3 250.1,788.1 250.9,787.3 251.7,786.5 252.6,786.0 253.4,785.0 254.2,783.9 255.0,782.8 255.8,781.8 256.6,780.9 257.5,779.9 258.3,779.3 259.1,778.5 259.9,777.3 260.7,776.5 261.6,775.5 262.4,774.3 263.2,773.9 264.0,773.3 264.8,772.4 265.6,772.0 266.5,771.0 267.3,769.8 268.1,768.7 268.9,767.6 269.7,766.9 270.6,766.0 271.4,765.4 272.2,764.8 273.0,763.9 273.8,762.7 274.6,761.7 275.5,760.5 276.3,760.0 277.1,759.2 277.9,758.0 278.7,757.2 279.5,756.4 280.4,755.8 281.2,755.3 282.0,754.4 282.8,753.8 283.6,752.6 284.5,751.5 285.3,751.1 286.1,750.2 286.9,749.8 287.7,749.1 288.5,748.0 289.4,747.2 290.2,746.2 291.0,745.2 291.8,744.8 292.6,744.0 293.5,742.9 294.3,741.8 295.1,741.0 295.9,740.4 296.7,739.9 297.5,739.9 298.4,739.3 299.2,738.7 300.0,738.2 300.8,736.8 301.6,735.7 302.5,735.5 303.3,734.9 304.1,734.2 304.9,734.0 305.7,733.0 306.5,732.0 307.4,731.1 308.2,730.7 309.0,730.3 309.8,729.8 310.6,729.1 311.4,728.8 312.3,728.1 313.1,727.0 313.9,725.9 314.7,724.4 315.5,723.5 316.4,722.7 317.2,721.7 318.0,721.4 318.8,721.1 319.6,719.9 320.4,719.7 321.3,719.2 322.1,718.4 322.9,717.8 323.7,716.8 324.5,715.8 325.4,715.2 326.2,714.8 327.0,714.0 327.8,713.5 328.6,713.2 329.4,712.2 330.3,711.4 331.1,710.7 331.9,709.5 332.7,708.5 333.5,707.5 334.3,707.0 335.2,706.1 336.0,705.3 336.8,704.8 337.6,704.1 338.4,703.3 339.3,702.2 340.1,700.7 340.9,700.1 341.7,699.4 342.5,698.5 343.3,698.3 344.2,697.2 345.0,696.4 345.8,695.6 346.6,694.4 347.4,693.7 348.3,692.8 349.1,691.7 349.9,691.1 350.7,690.2 351.5,689.4 352.3,688.6 353.2,687.7 354.0,687.2 354.8,686.0 355.6,685.2 356.4,684.4 357.3,684.0 358.1,684.5 358.9,684.5 359.7,684.9 360.5,684.7 361.3,684.4 362.2,684.5 363.0,684.9 363.8,685.4 364.6,685.6 365.4,686.4 366.2,687.2 367.1,687.6 367.9,688.8 368.7,689.5 369.5,690.2 370.3,691.2 371.2,691.6 372.0,692.2 372.8,693.1 373.6,693.7 374.4,694.2 375.2,695.1 376.1,695.6 376.9,696.1 377.7,696.7 378.5,697.8 379.3,698.4 380.2,698.9 381.0,699.5 381.8,699.5 382.6,700.2 383.4,701.3 384.2,701.9 385.1,702.3 385.9,702.5 386.7,702.5 387.5,703.3 388.3,704.0 389.1,704.6 390.0,705.3 390.8,706.2 391.6,706.8 392.4,707.0 393.2,708.0 394.1,708.7 394.9,709.5 395.7,710.3 396.5,710.7 397.3,711.6 398.1,711.9 399.0,711.8 399.8,712.3 400.6,712.9 401.4,713.8 402.2,714.7 403.1,715.3 403.9,716.0 404.7,716.9 405.5,717.3 406.3,718.0 407.1,718.7 408.0,719.2 408.8,719.8 409.6,720.5 410.4,721.6 411.2,722.0 412.0,722.7 412.9,723.2 413.7,723.9 414.5,724.8 415.3,725.7 416.1,726.4 417.0,727.1 417.8,727.4 418.6,727.6 419.4,728.8 420.2,729.4 421.0,730.2 421.9,730.8 422.7,731.5 423.5,732.1 424.3,732.3 425.1,733.2 426.0,733.2 426.8,733.9 427.6,734.6 428.4,735.3 429.2,736.4 430.0,736.7 430.9,737.1 431.7,737.2 432.5,738.1 433.3,739.1 434.1,739.8 435.0,740.7 435.8,740.8 436.6,741.6 437.4,742.3 438.2,742.9 439.0,743.5 439.9,744.0 440.7,744.6 441.5,745.1 442.3,745.9 443.1,746.5 443.9,746.8 444.8,747.4 445.6,747.9 446.4,749.1 447.2,750.2 448.0,750.8 448.9,751.5 449.7,751.9 450.5,752.4 451.3,753.0 452.1,753.5 452.9,754.2 453.8,754.4 454.6,754.8 455.4,755.2 456.2,755.5 457.0,756.3 457.9,757.0 458.7,757.8 459.5,758.6 460.3,759.4 461.1,759.8 461.9,760.5 462.8,760.9 463.6,761.4 464.4,761.9 465.2,762.5 466.0,763.2 466.8,764.1 467.7,764.9 468.5,765.2 469.3,766.0 470.1,766.6 470.9,766.9 471.8,767.2 472.6,767.4 473.4,767.5 474.2,767.7 475.0,768.3 475.8,768.8 476.7,769.4 477.5,769.7 478.3,770.2 479.1,771.1 479.9,771.8 480.8,772.5 481.6,772.9 482.4,773.3 483.2,773.6 484.0,773.9 484.8,774.3 485.7,775.0 486.5,775.3 487.3,775.4 488.1,775.6 488.9,776.0 489.8,777.1 490.6,777.4 491.4,778.1 492.2,778.5 493.0,779.3 493.8,779.8 494.7,780.2 495.5,780.9 496.3,781.6 497.1,782.6 497.9,783.0 498.7,783.5 499.6,784.3 500.4,784.5 501.2,785.2 502.0,786.2 502.8,787.0 503.7,786.9 504.5,787.1 505.3,787.8 506.1,788.3 506.9,789.1 507.7,789.4 508.6,790.0 509.4,790.1 510.2,790.7 511.0,791.5 511.8,792.4 512.7,792.8 513.5,793.1 514.3,794.2 515.1,794.8 515.9,795.7 516.7,796.1 517.6,796.2 518.4,796.3 519.2,796.6 520.0,797.2 520.8,797.9 521.6,798.6 522.5,799.4 523.3,800.0 524.1,800.0 524.9,800.6 525.7,801.0 526.6,801.3 527.4,802.0 528.2,802.2 529.0,802.3 529.8,802.5 530.6,802.8 531.5,803.2 532.3,803.6 533.1,804.0 533.9,804.5 534.7,805.3 535.6,805.9 536.4,805.9 537.2,806.4 538.0,806.8 538.8,806.9 539.6,807.9 540.5,808.2 541.3,808.7 542.1,809.2 542.9,809.6 543.7,810.2 544.5,810.9 545.4,810.9 546.2,811.2 547.0,811.8 547.8,812.0 548.6,812.3 549.5,813.0 550.3,813.4 551.1,813.8 551.9,814.5 552.7,814.8 553.5,815.4 554.4,816.1 555.2,816.7 556.0,816.8 556.8,816.6 557.6,816.8 558.5,817.4 559.3,817.9 560.1,818.5 560.9,818.7 561.7,819.3 562.5,820.1 563.4,820.3 564.2,820.8 565.0,821.3 565.8,821.4 566.6,821.7 567.5,821.9 568.3,822.4 569.1,822.8 569.9,822.8 570.7,823.3 571.5,823.8 572.4,824.6 573.2,825.6 574.0,826.2 574.8,826.4 575.6,826.4 576.4,826.5 577.3,826.3 578.1,826.5 578.9,827.2 579.7,827.4 580.5,827.8 581.4,828.5 582.2,829.0 583.0,829.6 583.8,829.7 584.6,830.1 585.4,830.5 586.3,831.1 587.1,831.7 587.9,831.8 588.7,832.5 589.5,832.8 590.4,833.4 591.2,833.9 592.0,834.5 592.8,834.9 593.6,834.7 594.4,834.8 595.3,834.7 596.1,835.1 596.9,835.4 597.7,835.9 598.5,836.7 599.3,837.9 600.2,838.7 601.0,838.9 601.8,839.2 602.6,839.1 603.4,839.6 604.3,839.6 605.1,839.8 605.9,840.4 606.7,840.4 607.5,841.1 608.3,841.5 609.2,841.6 610.0,841.9 610.8,842.1 611.6,842.3 612.4,843.0 613.3,843.6 614.1,843.5 614.9,844.0 615.7,844.3 616.5,844.3 617.3,844.3 618.2,844.5 619.0,844.8 619.8,845.0 620.6,845.6 621.4,845.8 622.2,846.3 623.1,846.9 623.9,847.1 624.7,847.9 625.5,847.8 626.3,848.1 627.2,848.5 628.0,848.9 628.8,849.6 629.6,850.0 630.4,850.7 631.2,850.7 632.1,850.8 632.9,851.0 633.7,851.3 634.5,852.0 635.3,852.8 636.2,853.0 637.0,853.3 637.8,853.8 638.6,853.9 639.4,854.0 640.2,853.9 641.1,854.3 641.9,854.7 642.7,855.2 643.5,855.8 644.3,855.8 645.2,856.1 646.0,856.3 646.8,856.4 647.6,857.3 648.4,857.9 649.2,858.0 650.1,857.9 650.9,858.2 651.7,858.2 652.5,858.5 653.3,859.1 654.1,859.4 655.0,859.8 655.8,860.0 656.6,860.3 657.4,860.2 658.2,860.6 659.1,861.0 659.9,861.2 660.7,862.0 661.5,861.8 662.3,862.0 663.1,862.2 664.0,862.6 664.8,863.2 665.6,863.4 666.4,863.4 667.2,863.5 668.1,863.8 668.9,864.3 669.7,865.0 670.5,865.5 671.3,865.5 672.1,865.7 673.0,865.8 673.8,865.9 674.6,866.5 675.4,866.3 676.2,867.2 677.0,867.7 677.9,868.2 678.7,868.8 679.5,868.6 680.3,869.2 681.1,869.9 682.0,870.1 682.8,870.4 683.6,870.0 684.4,870.1 685.2,870.4 686.0,871.1 686.9,871.8 687.7,872.1 688.5,871.9 689.3,872.0 690.1,872.2 691.0,872.8 691.8,873.1 692.6,873.1 693.4,873.9 694.2,873.4 695.0,873.8 695.9,873.5 696.7,873.3 697.5,873.8 698.3,874.0 699.1,874.5 700.0,874.6 700.8,874.4 701.6,874.8 702.4,874.6 703.2,874.8 704.0,875.3 704.9,875.0 705.7,875.4 706.5,876.1 707.3,876.8 708.1,877.0 708.9,877.4 709.8,877.6 710.6,877.6 711.4,878.1 712.2,877.6 713.0,877.9 713.9,877.9 714.7,878.2 715.5,878.8 716.3,878.5 717.1,878.5 717.9,878.5 718.8,878.9 719.6,879.0 720.4,879.3 721.2,879.5 722.0,879.1 722.9,879.6 723.7,879.7 724.5,880.2 725.3,880.8 726.1,880.4 726.9,880.1 727.8,880.0 728.6,879.9 729.4,880.0 730.2,880.4 731.0,880.1 731.8,880.1" fill="none" stroke="#e37222" stroke-width="5.1" stroke-linejoin="miter" stroke-miterlimit="14" stroke-dasharray="13.10 13.10"/>
<polyline points="147.1,961.8 147.9,961.2 148.7,960.5 149.5,959.7 150.3,958.8 151.1,958.3 152.0,957.7 152.8,957.4 153.6,956.7 154.4,955.7 155.2,954.7 156.0,953.1 156.9,951.5 157.7,950.1 158.5,948.9 159.3,946.7 160.1,944.8 161.0,942.6 161.8,940.8 162.6,939.6 163.4,938.0 164.2,936.5 165.0,935.0 165.9,933.6 166.7,932.4 167.5,931.2 168.3,929.7 169.1,928.3 170.0,926.7 170.8,925.2 171.6,923.8 172.4,921.9 173.2,920.5 174.0,919.2 174.9,917.8 175.7,916.5 176.5,914.8 177.3,913.3 178.1,911.7 178.9,910.3 179.8,908.9 180.6,907.3 181.4,906.5 182.2,905.1 183.0,903.8 183.9,902.4 184.7,901.3 185.5,900.2 186.3,899.1 187.1,897.9 187.9,896.6 188.8,895.5 189.6,894.1 190.4,892.7 191.2,891.2 192.0,889.8 192.9,888.7 193.7,887.8 194.5,886.7 195.3,886.0 196.1,884.9 196.9,884.1 197.8,882.7 198.6,881.7 199.4,880.7 200.2,880.0 201.0,878.9 201.8,877.8 202.7,876.4 203.5,876.3 204.3,875.1 205.1,873.7 205.9,872.6 206.8,870.1 207.6,869.0 208.4,868.2 209.2,867.3 210.0,866.2 210.8,865.7 211.7,864.8 212.5,863.9 213.3,863.2 214.1,862.0 214.9,861.1 215.8,860.0 216.6,858.7 217.4,857.6 218.2,856.5 219.0,855.4 219.8,854.5 220.7,853.4 221.5,852.2 222.3,851.0 223.1,849.7 223.9,848.6 224.8,847.7 225.6,846.8 226.4,845.8 227.2,844.7 228.0,843.9 228.8,843.0 229.7,842.2 230.5,841.5 231.3,840.5 232.1,839.2 232.9,838.0 233.7,836.6 234.6,835.4 235.4,834.9 236.2,834.1 237.0,833.3 237.8,832.5 238.7,831.1 239.5,830.3 240.3,829.7 241.1,829.0 241.9,827.7 242.7,827.2 243.6,826.8 244.4,825.9 245.2,825.2 246.0,823.9 246.8,822.9 247.7,822.1 248.5,821.4 249.3,820.5 250.1,819.9 250.9,819.1 251.7,818.4 252.6,816.7 253.4,815.7 254.2,814.5 255.0,813.3 255.8,812.7 256.6,811.9 257.5,811.0 258.3,810.5 259.1,809.4 259.9,808.1 260.7,808.0 261.6,807.1 262.4,806.2 263.2,805.7 264.0,804.7 264.8,803.5 265.6,803.1 266.5,802.6 267.3,801.4 268.1,800.7 268.9,799.5 269.7,798.5 270.6,797.8 271.4,797.0 272.2,795.8 273.0,795.3 273.8,794.1 274.6,793.1 275.5,792.4 276.3,791.4 277.1,791.0 277.9,790.3 278.7,789.5 279.5,789.1 280.4,788.5 281.2,788.6 282.0,787.5 282.8,786.2 283.6,784.9 284.5,782.9 285.3,782.1 286.1,781.4 286.9,780.9 287.7,780.2 288.5,779.3 289.4,779.2 290.2,778.4 291.0,777.5 291.8,776.9 292.6,775.7 293.5,774.8 294.3,773.9 295.1,773.6 295.9,772.9 296.7,772.0 297.5,771.1 298.4,769.9 299.2,769.0 300.0,767.7 300.8,767.0 301.6,766.5 302.5,765.9 303.3,765.5 304.1,764.5 304.9,763.6 305.7,763.0 306.5,761.9 307.4,760.5 308.2,759.5 309.0,758.0 309.8,757.0 310.6,756.4 311.4,755.4 312.3,754.8 313.1,754.0 313.9,753.3 314.7,753.1 315.5,752.9 316.4,752.6 317.2,751.8 318.0,750.7 318.8,749.7 319.6,749.2 320.4,748.8 321.3,747.9 322.1,747.4 322.9,746.5 323.7,745.5 324.5,744.6 325.4,744.3 326.2,743.7 327.0,743.4 327.8,743.0 328.6,742.0 329.4,741.5 330.3,740.3 331.1,739.3 331.9,738.7 332.7,737.5 333.5,736.7 334.3,736.4 335.2,735.7 336.0,735.0 336.8,734.9 337.6,734.3 338.4,733.8 339.3,733.0 340.1,731.7 340.9,730.9 341.7,730.3 342.5,729.9 343.3,729.0 344.2,728.0 345.0,727.3 345.8,726.5 346.6,725.9 347.4,726.0 348.3,725.9 349.1,725.2 349.9,724.8 350.7,724.0 351.5,723.2 352.3,722.6 353.2,722.4 354.0,721.9 354.8,721.0 355.6,720.3 356.4,719.1 357.3,718.7 358.1,718.4 358.9,717.9 359.7,717.7 360.5,716.9 361.3,716.6 362.2,716.1 363.0,715.8 363.8,715.7 364.6,715.4 365.4,715.6 366.2,715.6 367.1,715.8 367.9,716.3 368.7,716.5 369.5,716.9 370.3,717.3 371.2,717.3 372.0,717.8 372.8,718.3 373.6,718.8 374.4,719.4 375.2,719.5 376.1,719.3 376.9,719.4 377.7,719.5 378.5,719.3 379.3,719.8 380.2,719.9 381.0,719.8 381.8,720.0 382.6,720.2 383.4,720.8 384.2,720.8 385.1,721.5 385.9,722.0 386.7,722.5 387.5,723.1 388.3,724.1 389.1,724.5 390.0,725.0 390.8,725.5 391.6,725.9 392.4,726.7 393.2,727.1 394.1,728.1 394.9,728.9 395.7,729.5 396.5,730.0 397.3,730.7 398.1,731.6 399.0,732.3 399.8,733.3 400.6,734.2 401.4,735.3 402.2,735.9 403.1,736.4 403.9,737.3 404.7,737.6 405.5,738.2 406.3,739.0 407.1,739.9 408.0,740.2 408.8,740.5 409.6,740.7 410.4,741.1 411.2,741.4 412.0,742.1 412.9,742.9 413.7,743.5 414.5,744.2 415.3,744.9 416.1,746.3 417.0,747.0 417.8,748.0 418.6,748.1 419.4,748.5 420.2,748.9 421.0,749.8 421.9,750.9 422.7,751.4 423.5,752.1 424.3,752.5 425.1,752.9 426.0,753.0 426.8,753.6 427.6,754.0 428.4,754.5 429.2,754.8 430.0,755.0 430.9,755.7 431.7,756.1 432.5,756.7 433.3,757.4 434.1,758.3 435.0,758.6 435.8,759.3 436.6,759.8 437.4,759.4 438.2,760.2 439.0,760.3 439.9,761.0 440.7,761.5 441.5,762.1 442.3,762.9 443.1,763.4 443.9,764.0 444.8,763.7 445.6,764.1 446.4,764.5 447.2,764.8 448.0,765.6 448.9,766.3 449.7,766.8 450.5,767.6 451.3,767.8 452.1,768.4 452.9,769.1 453.8,769.7 454.6,770.2 455.4,770.7 456.2,771.2 457.0,772.0 457.9,772.5 458.7,773.2 459.5,773.9 460.3,774.5 461.1,775.2 461.9,775.4 462.8,775.9 463.6,776.5 464.4,776.8 465.2,777.4 466.0,778.0 466.8,778.4 467.7,779.0 468.5,779.3 469.3,779.5 470.1,780.1 470.9,780.7 471.8,781.3 472.6,781.6 473.4,782.0 474.2,782.8 475.0,783.2 475.8,784.2 476.7,784.8 477.5,785.3 478.3,786.0 479.1,786.6 479.9,787.4 480.8,787.3 481.6,787.5 482.4,788.0 483.2,788.5 484.0,789.3 484.8,790.4 485.7,790.9 486.5,790.9 487.3,791.3 488.1,791.2 488.9,791.5 489.8,792.1 490.6,792.0 491.4,792.5 492.2,792.9 493.0,792.9 493.8,793.4 494.7,794.2 495.5,794.8 496.3,795.7 497.1,796.6 497.9,796.6 498.7,796.9 499.6,797.5 500.4,797.7 501.2,798.8 502.0,799.6 502.8,799.7 503.7,800.4 504.5,800.4 505.3,801.2 506.1,801.7 506.9,802.1 507.7,802.9 508.6,803.2 509.4,803.7 510.2,804.0 511.0,804.4 511.8,804.8 512.7,805.7 513.5,806.1 514.3,806.6 515.1,806.9 515.9,807.0 516.7,807.8 517.6,808.4 518.4,809.1 519.2,809.6 520.0,809.9 520.8,810.6 521.6,811.3 522.5,811.9 523.3,812.3 524.1,812.8 524.9,813.3 525.7,813.7 526.6,813.6 527.4,813.7 528.2,813.8 529.0,813.8 529.8,814.3 530.6,814.7 531.5,815.8 532.3,816.2 533.1,816.8 533.9,816.9 534.7,817.3 535.6,817.8 536.4,818.3 537.2,818.9 538.0,818.9 538.8,819.2 539.6,818.9 540.5,819.4 541.3,819.9 542.1,820.1 542.9,820.6 543.7,820.7 544.5,821.2 545.4,822.1 546.2,822.3 547.0,822.6 547.8,822.9 548.6,822.8 549.5,823.3 550.3,823.5 551.1,823.6 551.9,825.0 552.7,825.0 553.5,825.6 554.4,825.8 555.2,826.1 556.0,826.6 556.8,827.4 557.6,828.2 558.5,828.3 559.3,828.7 560.1,828.6 560.9,828.6 561.7,828.7 562.5,829.2 563.4,829.8 564.2,830.4 565.0,830.9 565.8,831.1 566.6,831.5 567.5,831.7 568.3,832.2 569.1,832.9 569.9,833.1 570.7,833.7 571.5,833.9 572.4,833.9 573.2,833.7 574.0,834.2 574.8,834.8 575.6,835.2 576.4,835.7 577.3,836.1 578.1,836.5 578.9,837.2 579.7,837.6 580.5,837.6 581.4,838.3 582.2,838.3 583.0,838.7 583.8,838.9 584.6,838.9 585.4,839.7 586.3,840.3 587.1,840.8 587.9,841.3 588.7,841.5 589.5,842.1 590.4,842.7 591.2,842.7 592.0,843.6 592.8,843.8 593.6,843.7 594.4,843.7 595.3,843.5 596.1,844.0 596.9,844.2 597.7,844.7 598.5,845.1 599.3,845.6 600.2,846.0 601.0,846.1 601.8,846.3 602.6,846.6 603.4,847.1 604.3,847.3 605.1,847.3 605.9,847.6 606.7,848.2 607.5,848.6 608.3,848.9 609.2,849.9 610.0,850.0 610.8,850.1 611.6,850.5 612.4,850.3 613.3,850.8 614.1,851.0 614.9,851.2 615.7,851.2 616.5,851.3 617.3,851.4 618.2,851.6 619.0,851.8 619.8,852.2 620.6,852.4 621.4,852.1 622.2,852.4 623.1,852.7 623.9,853.4 624.7,854.1 625.5,854.7 626.3,855.1 627.2,855.7 628.0,856.4 628.8,857.1 629.6,857.6 630.4,857.8 631.2,857.5 632.1,858.0 632.9,858.7 633.7,858.8 634.5,859.4 635.3,859.5 636.2,859.6 637.0,860.2 637.8,860.3 638.6,860.6 639.4,860.6 640.2,861.1 641.1,861.2 641.9,861.6 642.7,862.4 643.5,862.4 644.3,862.8 645.2,862.9 646.0,863.5 646.8,863.5 647.6,863.6 648.4,864.2 649.2,864.3 650.1,864.4 650.9,864.2 651.7,864.4 652.5,864.9 653.3,865.3 654.1,865.9 655.0,866.2 655.8,866.4 656.6,866.5 657.4,866.6 658.2,867.2 659.1,867.1 659.9,867.7 660.7,868.2 661.5,868.0 662.3,868.6 663.1,868.6 664.0,868.6 664.8,869.0 665.6,869.1 666.4,869.4 667.2,869.5 668.1,869.7 668.9,870.1 669.7,870.0 670.5,870.4 671.3,870.9 672.1,870.9 673.0,870.8 673.8,871.1 674.6,871.8 675.4,872.2 676.2,872.5 677.0,872.8 677.9,873.1 678.7,873.3 679.5,873.2 680.3,873.4 681.1,873.7 682.0,873.6 682.8,873.9 683.6,873.7 684.4,874.1 685.2,874.5 686.0,874.9 686.9,875.7 687.7,876.2 688.5,876.5 689.3,876.6 690.1,876.2 691.0,876.0 691.8,876.7 692.6,876.9 693.4,876.9 694.2,877.4 695.0,877.4 695.9,877.6 696.7,878.2 697.5,878.4 698.3,878.7 699.1,878.8 700.0,879.3 700.8,879.3 701.6,879.6 702.4,879.8 703.2,879.7 704.0,880.3 704.9,880.3 705.7,880.9 706.5,881.3 707.3,880.7 708.1,881.0 708.9,880.9 709.8,880.6 710.6,881.0 711.4,880.6 712.2,880.4 713.0,880.9 713.9,880.8 714.7,881.1 715.5,881.7 716.3,881.6 717.1,881.7 717.9,882.2 718.8,882.7 719.6,883.0 720.4,883.4 721.2,883.7 722.0,883.4 722.9,884.0 723.7,884.2 724.5,883.6 725.3,884.0 726.1,883.7 726.9,883.9 727.8,884.4 728.6,884.4 729.4,884.3 730.2,884.4 731.0,884.5 731.8,884.4" fill="none" stroke="#e37222" stroke-width="5.1" stroke-linejoin="miter" stroke-miterlimit="14" stroke-dasharray="5.25 8.23"/>
</g>
<rect x="147.25" y="960.6" width="2.05" height="65.1" fill="#0065bd"/>
<text x="77.9" y="452.5" font-size="35.4" textLength="54.5" lengthAdjust="spacingAndGlyphs">110</text>
<text x="76.6" y="514.1" font-size="35.4" textLength="55.9" lengthAdjust="spacingAndGlyphs">100</text>
<text x="95.2" y="575.7" font-size="35.4" textLength="37.2" lengthAdjust="spacingAndGlyphs">90</text>
<text x="95.2" y="637.2" font-size="35.4" textLength="37.2" lengthAdjust="spacingAndGlyphs">80</text>
<text x="95.2" y="698.8" font-size="35.4" textLength="37.2" lengthAdjust="spacingAndGlyphs">70</text>
<text x="95.2" y="760.4" font-size="35.4" textLength="37.2" lengthAdjust="spacingAndGlyphs">60</text>
<text x="95.2" y="822.0" font-size="35.4" textLength="37.2" lengthAdjust="spacingAndGlyphs">50</text>
<text x="95.2" y="883.6" font-size="35.4" textLength="37.2" lengthAdjust="spacingAndGlyphs">40</text>
<text x="95.2" y="945.1" font-size="35.4" textLength="37.2" lengthAdjust="spacingAndGlyphs">30</text>
<text x="138.1" y="1063.3" font-size="35.4" textLength="18.6" lengthAdjust="spacingAndGlyphs">0</text>
<text x="273.0" y="1063.3" font-size="35.4" textLength="74.5" lengthAdjust="spacingAndGlyphs">1000</text>
<text x="437.3" y="1063.3" font-size="35.4" textLength="74.5" lengthAdjust="spacingAndGlyphs">2000</text>
<text x="600.9" y="1063.3" font-size="35.4" textLength="74.5" lengthAdjust="spacingAndGlyphs">3000</text>
<text x="764.9" y="1063.3" font-size="35.4" textLength="74.5" lengthAdjust="spacingAndGlyphs">4000</text>
<text x="927.7" y="1063.3" font-size="35.4" textLength="74.5" lengthAdjust="spacingAndGlyphs">5000</text>
<text><tspan x="-2.3" y="442.2" font-size="47.0">(</tspan><tspan x="13.2" y="442.2" font-size="44" textLength="23.9" lengthAdjust="spacingAndGlyphs">b</tspan><tspan x="35.6" y="442.2" font-size="47.0">)</tspan></text>
<text transform="translate(58.4,907.0) rotate(-90)" font-size="35.3" textLength="301.1" lengthAdjust="spacingAndGlyphs">Temperature in °C</text>
<rect x="331.0" y="459.85" width="608.6" height="161.0" fill="#fff" stroke="#000" stroke-width="1.95"/>
<line x1="345.9" x2="394.2" y1="492.1" y2="492.1" stroke="#0065bd" stroke-width="5.1"/>
<text><tspan x="405.2" y="500.7" font-size="34.8" textLength="44.3" lengthAdjust="spacingAndGlyphs">1C</tspan> <tspan x="460.3" y="500.2" font-size="34.8" textLength="12.7" lengthAdjust="spacingAndGlyphs">-</tspan> <tspan x="484.7" y="500.7" font-size="35.0" textLength="24.9" lengthAdjust="spacingAndGlyphs" font-style="italic">T</tspan><tspan x="507.9" y="505.9" font-size="25.5" textLength="48.9" lengthAdjust="spacingAndGlyphs" font-style="italic">cap</tspan></text>
<line x1="655.6" x2="703.9" y1="492.1" y2="492.1" stroke="#e37222" stroke-width="5.1"/>
<text><tspan x="715.2" y="500.7" font-size="34.8" textLength="43.9" lengthAdjust="spacingAndGlyphs">2C</tspan> <tspan x="770.0" y="500.2" font-size="34.8" textLength="12.7" lengthAdjust="spacingAndGlyphs">-</tspan> <tspan x="794.4" y="500.7" font-size="35.0" textLength="24.9" lengthAdjust="spacingAndGlyphs" font-style="italic">T</tspan><tspan x="817.6" y="505.9" font-size="25.5" textLength="48.9" lengthAdjust="spacingAndGlyphs" font-style="italic">cap</tspan></text>
<line x1="345.9" x2="394.2" y1="540.2" y2="540.2" stroke="#0065bd" stroke-width="5.1" stroke-dasharray="12.8 12.8"/>
<text><tspan x="405.2" y="548.8" font-size="34.8" textLength="44.3" lengthAdjust="spacingAndGlyphs">1C</tspan> <tspan x="460.3" y="548.3" font-size="34.8" textLength="12.7" lengthAdjust="spacingAndGlyphs">-</tspan> <tspan x="484.7" y="548.8" font-size="35.0" textLength="24.9" lengthAdjust="spacingAndGlyphs" font-style="italic">T</tspan><tspan x="507.8" y="554.0" font-size="25.5" textLength="91.2" lengthAdjust="spacingAndGlyphs" font-style="italic">center</tspan></text>
<line x1="655.6" x2="703.9" y1="540.2" y2="540.2" stroke="#e37222" stroke-width="5.1" stroke-dasharray="12.8 12.8"/>
<text><tspan x="715.2" y="548.8" font-size="34.8" textLength="43.9" lengthAdjust="spacingAndGlyphs">2C</tspan> <tspan x="770.0" y="548.3" font-size="34.8" textLength="12.7" lengthAdjust="spacingAndGlyphs">-</tspan> <tspan x="794.4" y="548.8" font-size="35.0" textLength="24.9" lengthAdjust="spacingAndGlyphs" font-style="italic">T</tspan><tspan x="817.5" y="554.0" font-size="25.5" textLength="91.2" lengthAdjust="spacingAndGlyphs" font-style="italic">center</tspan></text>
<line x1="345.9" x2="394.2" y1="588.3" y2="588.3" stroke="#0065bd" stroke-width="5.1" stroke-dasharray="5.1 8.0"/>
<text><tspan x="405.2" y="596.9" font-size="34.8" textLength="44.3" lengthAdjust="spacingAndGlyphs">1C</tspan> <tspan x="460.3" y="596.4" font-size="34.8" textLength="12.7" lengthAdjust="spacingAndGlyphs">-</tspan> <tspan x="484.7" y="596.9" font-size="35.0" textLength="24.9" lengthAdjust="spacingAndGlyphs" font-style="italic">T</tspan><tspan x="507.7" y="602.1" font-size="25.5" textLength="98.5" lengthAdjust="spacingAndGlyphs" font-style="italic">bottom</tspan></text>
<line x1="655.6" x2="703.9" y1="588.3" y2="588.3" stroke="#e37222" stroke-width="5.1" stroke-dasharray="5.1 8.0"/>
<text><tspan x="715.2" y="596.9" font-size="34.8" textLength="43.9" lengthAdjust="spacingAndGlyphs">2C</tspan> <tspan x="770.0" y="596.4" font-size="34.8" textLength="12.7" lengthAdjust="spacingAndGlyphs">-</tspan> <tspan x="794.4" y="596.9" font-size="35.0" textLength="24.9" lengthAdjust="spacingAndGlyphs" font-style="italic">T</tspan><tspan x="817.4" y="602.1" font-size="25.5" textLength="98.5" lengthAdjust="spacingAndGlyphs" font-style="italic">bottom</tspan></text>
<text><tspan x="692.3" y="729.1" font-size="34.5" textLength="24.9" lengthAdjust="spacingAndGlyphs" font-style="italic">T</tspan><tspan x="715.7" y="734.3" font-size="25.5" textLength="47.4" lengthAdjust="spacingAndGlyphs" font-style="italic">cap</tspan> <tspan x="778.5" y="732.5" font-size="44" textLength="24.4" lengthAdjust="spacingAndGlyphs">&gt;</tspan> <tspan x="812.9" y="729.1" font-size="34.5" textLength="24.9" lengthAdjust="spacingAndGlyphs" font-style="italic">T</tspan><tspan x="837.0" y="734.3" font-size="25.5" textLength="97.9" lengthAdjust="spacingAndGlyphs" font-style="italic">bottom</tspan></text>
<text x="693.8" y="782.5" font-size="34" textLength="219.4" lengthAdjust="spacingAndGlyphs">during charge</text>
<line x1="147.05" x2="964.95" y1="1178.5" y2="1178.5" stroke="#bfbfbf" stroke-width="1.6"/>
<line x1="147.05" x2="964.95" y1="1270.2" y2="1270.2" stroke="#bfbfbf" stroke-width="1.6"/>
<line x1="147.05" x2="964.95" y1="1361.8" y2="1361.8" stroke="#bfbfbf" stroke-width="1.6"/>
<line x1="147.05" x2="165.35000000000002" y1="1178.5" y2="1178.5" stroke="#808080" stroke-width="0.9"/>
<line x1="946.6500000000001" x2="964.95" y1="1178.5" y2="1178.5" stroke="#808080" stroke-width="0.9"/>
<line x1="147.05" x2="165.35000000000002" y1="1270.2" y2="1270.2" stroke="#808080" stroke-width="0.9"/>
<line x1="946.6500000000001" x2="964.95" y1="1270.2" y2="1270.2" stroke="#808080" stroke-width="0.9"/>
<line x1="147.05" x2="165.35000000000002" y1="1361.8" y2="1361.8" stroke="#808080" stroke-width="0.9"/>
<line x1="946.6500000000001" x2="964.95" y1="1361.8" y2="1361.8" stroke="#808080" stroke-width="0.9"/>
<line x1="310.6" x2="310.6" y1="1086.9" y2="1105.2" stroke="#808080" stroke-width="0.9"/>
<line x1="310.6" x2="310.6" y1="1434.95" y2="1453.25" stroke="#808080" stroke-width="0.9"/>
<line x1="474.2" x2="474.2" y1="1086.9" y2="1105.2" stroke="#808080" stroke-width="0.9"/>
<line x1="474.2" x2="474.2" y1="1434.95" y2="1453.25" stroke="#808080" stroke-width="0.9"/>
<line x1="637.8" x2="637.8" y1="1086.9" y2="1105.2" stroke="#808080" stroke-width="0.9"/>
<line x1="637.8" x2="637.8" y1="1434.95" y2="1453.25" stroke="#808080" stroke-width="0.9"/>
<line x1="801.4" x2="801.4" y1="1086.9" y2="1105.2" stroke="#808080" stroke-width="0.9"/>
<line x1="801.4" x2="801.4" y1="1434.95" y2="1453.25" stroke="#808080" stroke-width="0.9"/>
<rect x="147.05" y="1086.9" width="817.9" height="366.3" fill="none" stroke="#1c1c1c" stroke-width="1.9"/>
<g clip-path="url(#cc)">
<polyline points="147.1,1360.7 148.0,1352.6 149.0,1355.2 150.0,1342.0 151.0,1340.4 152.0,1336.1 152.9,1333.7 153.9,1330.9 154.9,1327.0 155.9,1326.6 156.9,1329.5 157.8,1325.0 158.8,1324.7 159.8,1321.6 160.8,1322.2 161.8,1321.9 162.8,1318.9 163.7,1323.6 164.7,1314.8 165.7,1320.9 166.7,1321.5 167.7,1317.1 168.6,1315.5 169.6,1314.8 170.6,1313.2 171.6,1315.2 172.6,1316.2 173.5,1314.9 174.5,1315.8 175.5,1316.6 176.5,1306.2 177.5,1310.5 178.5,1314.9 179.4,1315.3 180.4,1315.8 181.4,1319.1 182.4,1316.4 183.4,1316.1 184.3,1315.0 185.3,1317.6 186.3,1320.6 187.3,1314.4 188.3,1311.7 189.3,1321.0 190.2,1316.0 191.2,1313.3 192.2,1317.8 193.2,1318.3 194.2,1314.3 195.1,1314.7 196.1,1317.9 197.1,1310.6 198.1,1310.8 199.1,1313.1 200.0,1315.1 201.0,1316.2 202.0,1313.1 203.0,1315.9 204.0,1311.9 205.0,1312.5 205.9,1317.4 206.9,1314.8 207.9,1312.8 208.9,1315.0 209.9,1322.1 210.8,1317.4 211.8,1317.8 212.8,1316.7 213.8,1317.2 214.8,1317.8 215.8,1315.4 216.7,1313.9 217.7,1319.0 218.7,1321.6 219.7,1316.7 220.7,1317.8 221.6,1316.9 222.6,1319.9 223.6,1317.2 224.6,1320.5 225.6,1315.5 226.5,1314.5 227.5,1321.2 228.5,1325.3 229.5,1320.2 230.5,1320.1 231.5,1319.1 232.4,1319.2 233.4,1318.2 234.4,1312.9 235.4,1321.6 236.4,1321.2 237.3,1319.2 238.3,1331.1 239.3,1318.6 240.3,1322.7 241.3,1324.9 242.3,1323.1 243.2,1319.4 244.2,1318.9 245.2,1318.5 246.2,1320.3 247.2,1323.4 248.1,1320.7 249.1,1322.0 250.1,1316.3 251.1,1327.9 252.1,1319.3 253.0,1321.3 254.0,1322.9 255.0,1324.2 256.0,1326.2 257.0,1325.5 258.0,1327.2 258.9,1317.8 259.9,1320.1 260.9,1320.9 261.9,1321.8 262.9,1327.3 263.8,1324.1 264.8,1323.8 265.8,1321.2 266.8,1327.1 267.8,1323.9 268.8,1325.2 269.7,1324.3 270.7,1326.8 271.7,1323.9 272.7,1324.6 273.7,1329.9 274.6,1322.1 275.6,1320.2 276.6,1328.3 277.6,1323.5 278.6,1328.6 279.5,1327.7 280.5,1322.1 281.5,1326.1 282.5,1323.2 283.5,1326.2 284.5,1324.1 285.4,1327.0 286.4,1323.5 287.4,1323.2 288.4,1326.0 289.4,1328.8 290.3,1328.4 291.3,1329.6 292.3,1326.0 293.3,1326.1 294.3,1328.7 295.3,1324.5 296.2,1328.6 297.2,1323.4 298.2,1325.7 299.2,1324.0 300.2,1329.6 301.1,1330.3 302.1,1332.6 303.1,1326.2 304.1,1330.6 305.1,1324.1 306.0,1327.0 307.0,1325.6 308.0,1330.5 309.0,1328.9 310.0,1326.7 311.0,1325.4 311.9,1330.2 312.9,1325.9 313.9,1328.7 314.9,1324.6 315.9,1327.6 316.8,1328.1 317.8,1326.7 318.8,1325.2 319.8,1328.6 320.8,1325.5 321.8,1331.1 322.7,1328.0 323.7,1331.8 324.7,1328.5 325.7,1331.4 326.7,1329.3 327.6,1328.0 328.6,1331.6 329.6,1334.0 330.6,1330.6 331.6,1328.5 332.5,1328.5 333.5,1331.2 334.5,1326.6 335.5,1329.4 336.5,1326.9 337.5,1330.4 338.4,1326.7 339.4,1324.6 340.4,1330.1 341.4,1329.0 342.4,1327.1 343.3,1327.3 344.3,1328.0 345.3,1329.5 346.3,1333.3 347.3,1329.7 348.3,1332.6 349.2,1329.4 350.2,1335.3 351.2,1326.4 352.2,1325.2 353.2,1328.8 354.1,1331.7 355.1,1330.4 356.1,1327.3 357.1,1327.8 358.1,1330.9 359.0,1325.8 360.0,1326.8 361.0,1327.3 362.0,1330.2 363.0,1328.2 364.0,1330.3 364.9,1328.1 365.9,1330.1 366.9,1321.3 367.9,1328.1 368.9,1327.7 369.8,1327.3 370.8,1327.7 371.8,1331.9 372.8,1325.1 373.8,1328.0 374.8,1330.0 375.7,1330.9 376.7,1330.4 377.7,1330.1 378.7,1327.8 379.7,1329.9 380.6,1327.6 381.6,1327.8 382.6,1330.2 383.6,1323.5 384.6,1328.6 385.5,1328.2 386.5,1329.6 387.5,1330.8 388.5,1328.5 389.5,1327.2 390.5,1330.4 391.4,1332.3 392.4,1329.8 393.4,1335.9 394.4,1330.2 395.4,1331.0 396.3,1329.9 397.3,1334.1 398.3,1333.0 399.3,1333.5 400.3,1333.5 401.3,1329.6 402.2,1331.4 403.2,1334.3 404.2,1328.3 405.2,1331.2 406.2,1335.9 407.1,1333.4 408.1,1329.9 409.1,1329.6 410.1,1329.7 411.1,1329.7 412.0,1332.8 413.0,1331.3 414.0,1334.1 415.0,1333.2 416.0,1333.7 417.0,1333.5 417.9,1333.2 418.9,1332.6 419.9,1334.2 420.9,1329.2 421.9,1333.1 422.8,1328.5 423.8,1329.9 424.8,1335.9 425.8,1330.6 426.8,1336.3 427.8,1329.2 428.7,1331.5 429.7,1334.8 430.7,1337.9 431.7,1333.4 432.7,1335.5 433.6,1329.4 434.6,1335.0 435.6,1332.5 436.6,1331.1 437.6,1331.9 438.5,1331.4 439.5,1333.0 440.5,1330.6 441.5,1334.8 442.5,1331.6 443.5,1335.9 444.4,1332.7 445.4,1336.3 446.4,1333.9 447.4,1331.6 448.4,1330.0 449.3,1337.5 450.3,1335.0 451.3,1336.4 452.3,1330.8 453.3,1336.2 454.3,1332.6 455.2,1335.2 456.2,1337.8 457.2,1334.5 458.2,1337.3 459.2,1332.4 460.1,1332.5 461.1,1331.1 462.1,1336.7 463.1,1330.8 464.1,1332.3 465.0,1338.5 466.0,1329.4 467.0,1330.5 468.0,1337.3 469.0,1333.8 470.0,1338.3 470.9,1335.7 471.9,1334.6 472.9,1334.1 473.9,1337.7 474.9,1335.9 475.8,1338.1 476.8,1335.2 477.8,1334.4 478.8,1335.1 479.8,1333.3 480.8,1334.1 481.7,1334.8 482.7,1333.3 483.7,1339.2 484.7,1336.1 485.7,1340.5 486.6,1336.5 487.6,1337.7 488.6,1334.6 489.6,1337.7 490.6,1337.3 491.5,1336.4 492.5,1336.6 493.5,1334.3 494.5,1338.1 495.5,1339.2 496.5,1339.4 497.4,1333.1 498.4,1339.7 499.4,1337.6 500.4,1339.2 501.4,1335.3 502.3,1338.6 503.3,1335.1 504.3,1339.9 505.3,1336.9 506.3,1335.8 507.3,1335.2 508.2,1340.6 509.2,1338.4 510.2,1337.3 511.2,1341.1 512.2,1334.9 513.1,1336.2 514.1,1336.1 515.1,1340.6 516.1,1336.9 517.1,1336.4 518.0,1335.7 519.0,1339.6 520.0,1336.7 521.0,1333.6 522.0,1339.4 523.0,1339.7 523.9,1339.1 524.9,1341.8 525.9,1339.0 526.9,1334.1 527.9,1340.4 528.8,1338.9 529.8,1335.5 530.8,1336.6 531.8,1337.6 532.8,1338.8 533.8,1338.4 534.7,1338.5 535.7,1337.1 536.7,1337.9 537.7,1336.1 538.7,1343.5 539.6,1336.9 540.6,1340.5 541.6,1339.2 542.6,1339.8 543.6,1337.1 544.5,1339.4 545.5,1337.3 546.5,1340.9 547.5,1338.7 548.5,1336.0 549.5,1336.6 550.4,1340.3 551.4,1339.4 552.4,1340.5 553.4,1339.9 554.4,1339.2 555.3,1336.1 556.3,1337.6 557.3,1335.1 558.3,1335.1 559.3,1341.5 560.3,1338.1 561.2,1339.6 562.2,1342.7 563.2,1341.5 564.2,1340.7 565.2,1335.3 566.1,1338.8 567.1,1340.1 568.1,1339.7 569.1,1342.1 570.1,1340.2 571.0,1340.7 572.0,1343.7 573.0,1341.6 574.0,1332.2 575.0,1338.6 576.0,1340.0 576.9,1338.7 577.9,1342.7 578.9,1340.2 579.9,1339.0 580.9,1344.6 581.8,1342.9 582.8,1341.8 583.8,1341.8 584.8,1342.0 585.8,1340.2 586.8,1338.8 587.7,1340.0 588.7,1338.7 589.7,1338.8 590.7,1342.4 591.7,1340.8 592.6,1342.4 593.6,1339.7 594.6,1342.4 595.6,1342.3 596.6,1337.9 597.5,1342.8 598.5,1346.8 599.5,1342.7 600.5,1342.5 601.5,1344.4 602.5,1343.1 603.4,1340.7 604.4,1344.1 605.4,1342.8 606.4,1344.2 607.4,1341.5 608.3,1342.8 609.3,1345.1 610.3,1342.9 611.3,1338.5 612.3,1347.6 613.3,1346.9 614.2,1343.1 615.2,1347.2 616.2,1339.0 617.2,1347.8 618.2,1347.1 619.1,1345.0 620.1,1340.9 621.1,1342.1 622.1,1342.6 623.1,1343.3 624.0,1341.0 625.0,1347.8 626.0,1343.6 627.0,1340.8 628.0,1347.4 629.0,1344.2 629.9,1342.3 630.9,1342.2 631.9,1345.5 632.9,1335.4 633.9,1344.3 634.8,1343.5 635.8,1348.5 636.8,1347.7 637.8,1347.5 638.8,1341.7 639.8,1352.1 640.7,1351.0 641.7,1344.2 642.7,1345.7 643.7,1353.3 644.7,1347.6 645.6,1350.0 646.6,1354.3 647.6,1365.5 648.6,1364.4 649.6,1362.7 650.5,1364.3 651.5,1369.5 652.5,1368.6 653.5,1371.9 654.5,1366.2 655.5,1370.9 656.4,1367.6 657.4,1368.8 658.4,1373.8 659.4,1372.4 660.4,1371.3 661.3,1372.5 662.3,1365.8 663.3,1372.2 664.3,1374.6 665.3,1374.7 666.3,1378.5 667.2,1378.4 668.2,1375.6 669.2,1376.4 670.2,1379.9 671.2,1378.3 672.1,1380.4 673.1,1380.0 674.1,1371.8 675.1,1381.4 676.1,1380.6 677.0,1378.2 678.0,1379.8 679.0,1379.1 680.0,1383.2 681.0,1379.9 682.0,1380.6 682.9,1381.9 683.9,1382.0 684.9,1381.5 685.9,1378.4 686.9,1376.1 687.8,1379.4 688.8,1377.4 689.8,1381.1 690.8,1385.3 691.8,1381.5 692.8,1378.7 693.7,1378.5 694.7,1384.6 695.7,1377.7 696.7,1384.1 697.7,1384.0 698.6,1385.0 699.6,1378.9 700.6,1381.1 701.6,1380.6 702.6,1387.3 703.5,1382.0 704.5,1382.6 705.5,1380.2 706.5,1382.8 707.5,1378.5 708.5,1383.5 709.4,1384.4 710.4,1385.4 711.4,1378.3 712.4,1379.0 713.4,1382.8 714.3,1378.0 715.3,1381.3 716.3,1380.7 717.3,1384.1 718.3,1381.8 719.3,1380.2 720.2,1380.1 721.2,1382.0 722.2,1378.2 723.2,1376.9 724.2,1382.3 725.1,1379.6 726.1,1384.3 727.1,1379.6 728.1,1383.0 729.1,1380.9 730.0,1380.1 731.0,1380.7 732.0,1374.0 733.0,1381.2 734.0,1380.2 735.0,1378.1 735.9,1378.8 736.9,1377.9 737.9,1379.3 738.9,1382.9 739.9,1377.3 740.8,1378.8 741.8,1377.0 742.8,1375.9 743.8,1379.9 744.8,1380.8 745.8,1380.0 746.7,1380.8 747.7,1383.9 748.7,1374.8 749.7,1377.6 750.7,1373.1 751.6,1379.7 752.6,1377.0 753.6,1377.7 754.6,1377.8 755.6,1375.6 756.5,1378.1 757.5,1378.0 758.5,1377.4 759.5,1383.7 760.5,1379.7 761.5,1379.7 762.4,1374.6 763.4,1376.6 764.4,1376.2 765.4,1376.5 766.4,1378.6 767.3,1373.4 768.3,1377.9 769.3,1380.8 770.3,1375.9 771.3,1375.1 772.3,1377.5 773.2,1375.4 774.2,1375.5 775.2,1374.5 776.2,1376.6 777.2,1373.3 778.1,1376.4 779.1,1372.4 780.1,1380.5 781.1,1375.0 782.1,1376.3 783.0,1375.8 784.0,1379.7 785.0,1374.9 786.0,1378.0 787.0,1379.4 788.0,1378.6 788.9,1377.9 789.9,1376.5 790.9,1379.3 791.9,1378.9 792.9,1375.3 793.8,1376.2 794.8,1371.2 795.8,1378.1 796.8,1373.7 797.8,1371.2 798.8,1375.6 799.7,1372.8 800.7,1374.7 801.7,1375.2 802.7,1371.3 803.7,1377.5 804.6,1376.5 805.6,1380.0 806.6,1376.2 807.6,1373.8 808.6,1376.3 809.5,1373.5 810.5,1377.6 811.5,1372.8 812.5,1375.8 813.5,1376.4 814.5,1371.0 815.4,1374.4 816.4,1372.9 817.4,1374.2 818.4,1372.7 819.4,1374.2 820.3,1377.4 821.3,1373.5 822.3,1371.3 823.3,1373.4 824.3,1375.3 825.3,1370.1 826.2,1375.8 827.2,1373.6 828.2,1373.3 829.2,1376.3 830.2,1377.0 831.1,1372.5 832.1,1372.1 833.1,1373.0 834.1,1377.3 835.1,1374.0 836.0,1372.7 837.0,1371.5 838.0,1369.6 839.0,1371.5 840.0,1370.3 841.0,1368.9 841.9,1385.9 842.9,1370.5 843.9,1373.9 844.9,1369.9 845.9,1372.3 846.8,1375.1 847.8,1374.8 848.8,1371.6 849.8,1372.4 850.8,1370.5 851.8,1373.3 852.7,1367.6 853.7,1373.5 854.7,1367.7 855.7,1374.5 856.7,1371.1 857.6,1369.8 858.6,1375.5 859.6,1374.1 860.6,1370.7 861.6,1368.7 862.5,1368.2 863.5,1367.7 864.5,1369.0 865.5,1373.6 866.5,1372.8 867.5,1367.8 868.4,1372.4 869.4,1371.3 870.4,1380.1 871.4,1371.2 872.4,1373.7 873.3,1369.3 874.3,1366.3 875.3,1368.6 876.3,1369.0 877.3,1370.1 878.3,1368.0 879.2,1371.9 880.2,1370.7 881.2,1364.8 882.2,1373.6 883.2,1373.5 884.1,1373.6 885.1,1367.4 886.1,1370.6 887.1,1372.8 888.1,1372.6 889.0,1366.9 890.0,1367.9 891.0,1367.4 892.0,1369.6 893.0,1367.6 894.0,1366.4 894.9,1368.2 895.9,1373.5 896.9,1374.3 897.9,1373.1 898.9,1369.3 899.8,1373.7 900.8,1372.7 901.8,1370.2 902.8,1372.4 903.8,1373.5 904.8,1367.5 905.7,1368.6 906.7,1367.6 907.7,1366.9 908.7,1365.7 909.7,1368.9 910.6,1369.2 911.6,1372.5 912.6,1369.6 913.6,1369.7 914.6,1365.2 915.5,1364.0 916.5,1363.9 917.5,1365.1 918.5,1364.7 919.5,1366.8 920.5,1367.3 921.4,1368.7 922.4,1368.5 923.4,1371.0 924.4,1367.9 925.4,1369.0 926.3,1373.5 927.3,1374.9 928.3,1370.5 929.3,1369.9 930.3,1369.2 931.3,1364.7 932.2,1369.1 933.2,1370.2 934.2,1366.3 935.2,1365.0 936.2,1363.2 937.1,1369.4 938.1,1367.6 939.1,1367.8 940.1,1363.3 941.1,1365.2 942.0,1367.2 943.0,1365.1 944.0,1367.8 945.0,1367.8 946.0,1367.6 947.0,1369.0 947.9,1368.1 948.9,1366.9 949.9,1367.2 950.9,1364.4 951.9,1365.5 952.8,1367.7 953.8,1372.2 954.8,1370.9 955.8,1368.5 956.8,1367.9 957.8,1369.5 958.7,1367.2 959.7,1366.3 960.7,1368.1 961.7,1367.0 962.7,1366.5 963.6,1368.0 964.6,1368.6" fill="none" stroke="#808080" stroke-width="5.1" stroke-linejoin="miter" stroke-miterlimit="14"/>
<polyline points="147.1,1360.0 148.0,1356.1 149.0,1350.0 150.0,1345.2 151.0,1338.9 152.0,1336.4 152.9,1333.2 153.9,1330.4 154.9,1328.4 155.9,1327.5 156.9,1326.7 157.8,1326.0 158.8,1324.1 159.8,1322.4 160.8,1322.1 161.8,1321.1 162.8,1321.5 163.7,1319.6 164.7,1319.9 165.7,1319.1 166.7,1319.5 167.7,1318.5 168.6,1316.2 169.6,1315.6 170.6,1314.9 171.6,1315.2 172.6,1315.8 173.5,1315.6 174.5,1315.9 175.5,1313.3 176.5,1312.2 177.5,1311.6 178.5,1313.9 179.4,1315.2 180.4,1316.1 181.4,1316.7 182.4,1316.5 183.4,1315.6 184.3,1315.9 185.3,1316.9 186.3,1317.3 187.3,1315.7 188.3,1315.9 189.3,1316.0 190.2,1316.5 191.2,1315.7 192.2,1316.0 193.2,1316.3 194.2,1315.4 195.1,1315.2 196.1,1314.3 197.1,1313.7 198.1,1312.2 199.1,1313.5 200.0,1314.8 201.0,1315.1 202.0,1315.1 203.0,1314.0 204.0,1314.0 205.0,1314.2 205.9,1315.0 206.9,1315.6 207.9,1314.8 208.9,1316.6 209.9,1317.9 210.8,1318.5 211.8,1317.3 212.8,1317.2 213.8,1317.5 214.8,1316.6 215.8,1316.4 216.7,1316.2 217.7,1318.0 218.7,1319.0 219.7,1318.3 220.7,1317.4 221.6,1318.1 222.6,1318.2 223.6,1318.7 224.6,1318.0 225.6,1317.0 226.5,1317.5 227.5,1320.0 228.5,1321.4 229.5,1321.2 230.5,1319.3 231.5,1319.8 232.4,1318.9 233.4,1317.5 234.4,1318.0 235.4,1319.1 236.4,1320.6 237.3,1322.9 238.3,1322.7 239.3,1323.0 240.3,1322.0 241.3,1323.2 242.3,1322.2 243.2,1320.3 244.2,1319.4 245.2,1320.1 246.2,1320.8 247.2,1321.5 248.1,1322.2 249.1,1320.1 250.1,1322.0 251.1,1321.7 252.1,1323.2 253.0,1321.5 254.0,1323.3 255.0,1324.6 256.0,1324.8 257.0,1325.4 258.0,1323.7 258.9,1322.0 259.9,1320.2 260.9,1321.4 261.9,1323.3 262.9,1323.8 263.8,1324.7 264.8,1323.5 265.8,1324.0 266.8,1324.4 267.8,1325.2 268.8,1324.7 269.7,1325.1 270.7,1325.2 271.7,1325.1 272.7,1325.8 273.7,1325.7 274.6,1324.2 275.6,1324.2 276.6,1324.6 277.6,1326.8 278.6,1326.5 279.5,1326.3 280.5,1325.7 281.5,1324.5 282.5,1325.7 283.5,1325.2 284.5,1325.9 285.4,1325.3 286.4,1325.2 287.4,1325.3 288.4,1326.6 289.4,1327.6 290.3,1328.7 291.3,1327.8 292.3,1327.4 293.3,1327.2 294.3,1326.6 295.3,1327.0 296.2,1326.0 297.2,1326.7 298.2,1325.2 299.2,1327.0 300.2,1328.0 301.1,1330.1 302.1,1329.5 303.1,1329.3 304.1,1327.4 305.1,1327.2 306.0,1326.1 307.0,1327.8 308.0,1328.1 309.0,1328.5 310.0,1327.0 311.0,1327.5 311.9,1327.3 312.9,1327.9 313.9,1326.5 314.9,1326.9 315.9,1327.0 316.8,1327.6 317.8,1327.1 318.8,1327.3 319.8,1326.8 320.8,1328.6 321.8,1328.5 322.7,1329.9 323.7,1329.5 324.7,1330.2 325.7,1329.7 326.7,1329.7 327.6,1329.8 328.6,1330.6 329.6,1331.5 330.6,1331.1 331.6,1329.5 332.5,1329.2 333.5,1329.0 334.5,1329.0 335.5,1328.0 336.5,1329.1 337.5,1328.1 338.4,1327.4 339.4,1327.0 340.4,1328.4 341.4,1328.6 342.4,1328.2 343.3,1327.7 344.3,1328.5 345.3,1330.1 346.3,1330.6 347.3,1331.5 348.3,1330.3 349.2,1331.9 350.2,1330.1 351.2,1329.4 352.2,1327.6 353.2,1329.0 354.1,1330.2 355.1,1329.9 356.1,1328.8 357.1,1329.0 358.1,1328.6 359.0,1328.1 360.0,1327.1 361.0,1328.3 362.0,1328.7 363.0,1329.1 364.0,1328.9 364.9,1329.4 365.9,1327.1 366.9,1327.0 367.9,1326.3 368.9,1328.0 369.8,1327.7 370.8,1329.0 371.8,1328.4 372.8,1328.3 373.8,1327.8 374.8,1329.6 375.7,1330.0 376.7,1330.1 377.7,1329.3 378.7,1329.1 379.7,1328.2 380.6,1328.3 381.6,1328.5 382.6,1327.6 383.6,1328.2 384.6,1326.9 385.5,1328.9 386.5,1329.8 387.5,1329.9 388.5,1329.1 389.5,1329.4 390.5,1330.1 391.4,1330.5 392.4,1332.7 393.4,1331.5 394.4,1332.0 395.4,1330.4 396.3,1331.6 397.3,1331.8 398.3,1333.0 399.3,1332.9 400.3,1331.7 401.3,1331.5 402.2,1331.5 403.2,1331.5 404.2,1331.2 405.2,1331.8 406.2,1332.9 407.1,1332.5 408.1,1331.1 409.1,1330.1 410.1,1329.8 411.1,1330.7 412.0,1331.1 413.0,1332.5 414.0,1332.5 415.0,1333.0 416.0,1333.1 417.0,1332.8 417.9,1333.2 418.9,1332.9 419.9,1332.2 420.9,1332.0 421.9,1330.7 422.8,1331.0 423.8,1331.5 424.8,1332.6 425.8,1333.8 426.8,1332.4 427.8,1332.6 428.7,1331.9 429.7,1334.2 430.7,1334.7 431.7,1334.9 432.7,1332.6 433.6,1333.0 434.6,1332.2 435.6,1332.5 436.6,1332.1 437.6,1331.5 438.5,1332.1 439.5,1331.9 440.5,1332.6 441.5,1332.3 442.5,1333.9 443.5,1333.2 444.4,1334.5 445.4,1334.3 446.4,1333.8 447.4,1332.0 448.4,1333.0 449.3,1333.9 450.3,1335.3 451.3,1334.3 452.3,1334.1 453.3,1333.5 454.3,1334.7 455.2,1334.7 456.2,1335.4 457.2,1336.3 458.2,1334.7 459.2,1333.9 460.1,1332.8 461.1,1333.6 462.1,1333.0 463.1,1333.7 464.1,1334.2 465.0,1333.3 466.0,1333.5 467.0,1332.8 468.0,1334.1 469.0,1335.9 470.0,1335.7 470.9,1336.1 471.9,1334.6 472.9,1335.6 473.9,1335.9 474.9,1336.9 475.8,1336.1 476.8,1336.0 477.8,1335.3 478.8,1334.3 479.8,1334.9 480.8,1334.6 481.7,1334.3 482.7,1336.0 483.7,1336.2 484.7,1337.8 485.7,1337.3 486.6,1337.9 487.6,1336.3 488.6,1336.6 489.6,1336.7 490.6,1336.4 491.5,1336.7 492.5,1336.1 493.5,1335.8 494.5,1337.1 495.5,1337.9 496.5,1336.6 497.4,1336.9 498.4,1336.9 499.4,1338.2 500.4,1336.9 501.4,1338.0 502.3,1336.3 503.3,1338.1 504.3,1337.7 505.3,1337.4 506.3,1336.4 507.3,1337.3 508.2,1338.1 509.2,1338.5 510.2,1338.5 511.2,1337.3 512.2,1337.1 513.1,1336.1 514.1,1337.7 515.1,1337.6 516.1,1337.8 517.1,1336.5 518.0,1337.7 519.0,1337.6 520.0,1337.1 521.0,1337.0 522.0,1337.7 523.0,1339.4 523.9,1339.7 524.9,1339.5 525.9,1338.3 526.9,1337.8 527.9,1337.8 528.8,1338.4 529.8,1337.5 530.8,1336.8 531.8,1337.9 532.8,1338.1 533.8,1338.4 534.7,1338.2 535.7,1338.3 536.7,1337.1 537.7,1338.9 538.7,1339.0 539.6,1339.8 540.6,1339.1 541.6,1339.8 542.6,1338.7 543.6,1338.6 544.5,1338.4 545.5,1339.0 546.5,1338.9 547.5,1338.8 548.5,1337.5 549.5,1338.1 550.4,1338.9 551.4,1340.2 552.4,1339.8 553.4,1339.9 554.4,1338.6 555.3,1337.9 556.3,1337.0 557.3,1336.5 558.3,1337.8 559.3,1338.1 560.3,1339.7 561.2,1339.6 562.2,1340.6 563.2,1340.8 564.2,1339.4 565.2,1338.6 566.1,1338.1 567.1,1339.7 568.1,1340.2 569.1,1340.7 570.1,1341.0 571.0,1341.4 572.0,1341.1 573.0,1339.6 574.0,1338.3 575.0,1337.8 576.0,1339.0 576.9,1340.5 577.9,1340.4 578.9,1340.4 579.9,1341.5 580.9,1341.6 581.8,1342.8 582.8,1341.7 583.8,1341.8 584.8,1341.0 585.8,1340.4 586.8,1340.3 587.7,1339.4 588.7,1339.8 589.7,1340.4 590.7,1340.5 591.7,1341.9 592.6,1341.2 593.6,1341.3 594.6,1341.5 595.6,1341.2 596.6,1341.3 597.5,1342.4 598.5,1344.0 599.5,1343.7 600.5,1343.3 601.5,1343.2 602.5,1342.9 603.4,1342.8 604.4,1342.7 605.4,1343.2 606.4,1342.8 607.4,1342.6 608.3,1343.0 609.3,1343.6 610.3,1342.1 611.3,1342.9 612.3,1344.2 613.3,1345.2 614.2,1345.4 615.2,1343.3 616.2,1344.3 617.2,1344.7 618.2,1346.0 619.1,1344.3 620.1,1342.7 621.1,1342.6 622.1,1342.9 623.1,1342.7 624.0,1344.3 625.0,1343.6 626.0,1344.3 627.0,1343.9 628.0,1344.5 629.0,1344.6 629.9,1343.5 630.9,1343.8 631.9,1341.9 632.9,1343.0 633.9,1342.0 634.8,1345.8 635.8,1346.4 636.8,1347.4 637.8,1345.6 638.8,1346.8 639.8,1347.9 640.7,1348.6 641.7,1346.7 642.7,1347.3 643.7,1348.1 644.7,1348.9 645.6,1349.0 646.6,1357.9 647.6,1361.6 648.6,1363.9 649.6,1364.5 650.5,1365.6 651.5,1367.6 652.5,1369.5 653.5,1368.6 654.5,1369.8 655.5,1368.5 656.4,1369.7 657.4,1370.0 658.4,1371.8 659.4,1372.2 660.4,1372.3 661.3,1370.8 662.3,1371.2 663.3,1371.9 664.3,1374.1 665.3,1376.2 666.3,1377.2 667.2,1377.4 668.2,1376.8 669.2,1377.4 670.2,1377.8 671.2,1379.3 672.1,1379.4 673.1,1377.7 674.1,1378.1 675.1,1378.3 676.1,1379.7 677.0,1379.6 678.0,1379.5 679.0,1380.2 680.0,1380.5 681.0,1380.9 682.0,1380.4 682.9,1381.1 683.9,1381.7 684.9,1380.9 685.9,1378.9 686.9,1378.8 687.8,1377.9 688.8,1379.8 689.8,1381.4 690.8,1382.6 691.8,1381.8 692.8,1380.2 693.7,1380.8 694.7,1380.8 695.7,1382.7 696.7,1381.9 697.7,1383.8 698.6,1382.5 699.6,1382.0 700.6,1380.4 701.6,1383.3 702.6,1382.9 703.5,1383.4 704.5,1381.9 705.5,1381.9 706.5,1380.9 707.5,1381.4 708.5,1382.4 709.4,1383.3 710.4,1382.6 711.4,1381.1 712.4,1380.1 713.4,1380.3 714.3,1380.6 715.3,1380.5 716.3,1381.5 717.3,1381.9 718.3,1381.6 719.3,1380.6 720.2,1380.7 721.2,1380.3 722.2,1379.4 723.2,1379.4 724.2,1379.8 725.1,1381.7 726.1,1381.1 727.1,1381.8 728.1,1381.2 729.1,1381.1 730.0,1380.7 731.0,1378.7 732.0,1379.1 733.0,1378.6 734.0,1379.7 735.0,1379.0 735.9,1378.4 736.9,1378.5 737.9,1379.9 738.9,1379.5 739.9,1379.5 740.8,1378.1 741.8,1377.8 742.8,1378.0 743.8,1378.9 744.8,1380.0 745.8,1380.0 746.7,1381.2 747.7,1379.8 748.7,1378.7 749.7,1376.0 750.7,1377.4 751.6,1377.0 752.6,1378.3 753.6,1377.9 754.6,1377.0 755.6,1377.4 756.5,1377.6 757.5,1377.8 758.5,1379.1 759.5,1380.0 760.5,1380.3 761.5,1377.8 762.4,1377.7 763.4,1376.2 764.4,1376.9 765.4,1377.3 766.4,1376.9 767.3,1376.6 768.3,1377.4 769.3,1378.0 770.3,1377.2 771.3,1376.8 772.3,1376.5 773.2,1376.4 774.2,1375.8 775.2,1376.3 776.2,1375.8 777.2,1375.8 778.1,1374.7 779.1,1376.8 780.1,1376.2 781.1,1377.4 782.1,1376.1 783.0,1377.1 784.0,1376.6 785.0,1377.7 786.0,1377.6 787.0,1378.1 788.0,1378.2 788.9,1377.8 789.9,1377.4 790.9,1378.2 791.9,1377.6 792.9,1376.7 793.8,1374.7 794.8,1375.3 795.8,1374.9 796.8,1374.6 797.8,1374.0 798.8,1373.6 799.7,1374.6 800.7,1374.6 801.7,1374.2 802.7,1374.7 803.7,1375.2 804.6,1377.1 805.6,1377.4 806.6,1376.5 807.6,1375.8 808.6,1374.8 809.5,1375.6 810.5,1375.1 811.5,1375.4 812.5,1375.2 813.5,1374.7 814.5,1374.2 815.4,1373.1 816.4,1373.9 817.4,1373.7 818.4,1373.8 819.4,1374.7 820.3,1375.1 821.3,1374.1 822.3,1373.0 823.3,1373.6 824.3,1373.6 825.3,1373.9 826.2,1373.4 827.2,1374.2 828.2,1374.3 829.2,1375.0 830.2,1375.2 831.1,1374.0 832.1,1372.8 833.1,1373.9 834.1,1374.5 835.1,1374.3 836.0,1372.9 837.0,1371.8 838.0,1371.1 839.0,1371.1 840.0,1370.8 841.0,1374.5 841.9,1374.9 842.9,1375.7 843.9,1371.8 844.9,1372.2 845.9,1372.7 846.8,1373.7 847.8,1373.6 848.8,1373.1 849.8,1371.4 850.8,1372.2 851.8,1371.0 852.7,1371.9 853.7,1370.6 854.7,1372.0 855.7,1371.7 856.7,1371.9 857.6,1372.3 858.6,1373.1 859.6,1372.9 860.6,1371.4 861.6,1369.8 862.5,1369.1 863.5,1368.7 864.5,1370.8 865.5,1371.5 866.5,1371.1 867.5,1371.2 868.4,1370.7 869.4,1373.6 870.4,1373.4 871.4,1374.1 872.4,1370.8 873.3,1370.1 874.3,1368.6 875.3,1368.2 876.3,1369.3 877.3,1369.0 878.3,1369.9 879.2,1369.9 880.2,1369.2 881.2,1369.7 882.2,1370.7 883.2,1373.0 884.1,1371.1 885.1,1370.5 886.1,1370.2 887.1,1371.4 888.1,1370.5 889.0,1369.2 890.0,1367.9 891.0,1368.5 892.0,1368.5 893.0,1368.5 894.0,1367.8 894.9,1369.6 895.9,1371.5 896.9,1372.7 897.9,1371.6 898.9,1371.6 899.8,1371.6 900.8,1371.7 901.8,1371.4 902.8,1371.6 903.8,1371.2 904.8,1369.7 905.7,1368.5 906.7,1368.2 907.7,1367.3 908.7,1367.8 909.7,1368.1 910.6,1369.9 911.6,1369.7 912.6,1370.6 913.6,1368.2 914.6,1366.5 915.5,1365.3 916.5,1365.0 917.5,1365.5 918.5,1365.9 919.5,1367.0 920.5,1367.5 921.4,1368.0 922.4,1369.2 923.4,1369.0 924.4,1369.2 925.4,1369.8 926.3,1371.6 927.3,1371.7 928.3,1371.1 929.3,1369.7 930.3,1368.2 931.3,1367.6 932.2,1367.9 933.2,1368.1 934.2,1367.1 935.2,1365.6 936.2,1366.1 937.1,1366.8 938.1,1368.0 939.1,1366.3 940.1,1365.8 941.1,1365.6 942.0,1366.4 943.0,1366.6 944.0,1366.8 945.0,1367.6 946.0,1368.0 947.0,1368.2 947.9,1367.8 948.9,1367.6 949.9,1366.5 950.9,1366.4 951.9,1366.2 952.8,1368.4 953.8,1369.2 954.8,1369.8 955.8,1368.8 956.8,1368.3 957.8,1367.6 958.7,1367.2 959.7,1367.1 960.7,1367.0 961.7,1367.1 962.7,1366.8 963.6,1367.3 964.6,1368.0" fill="none" stroke="#0065bd" stroke-width="5.6" stroke-linejoin="miter" stroke-miterlimit="14"/>
<polyline points="147.1,1360.5 148.0,1337.2 149.0,1305.7 150.0,1277.5 151.0,1256.1 152.0,1241.1 152.9,1226.6 153.9,1216.4 154.9,1208.4 155.9,1197.0 156.9,1199.1 157.8,1193.0 158.8,1187.8 159.8,1184.3 160.8,1190.7 161.8,1176.5 162.8,1174.1 163.7,1174.7 164.7,1169.2 165.7,1172.7 166.7,1168.4 167.7,1165.7 168.6,1163.7 169.6,1159.5 170.6,1161.5 171.6,1161.6 172.6,1158.0 173.5,1158.1 174.5,1157.2 175.5,1158.8 176.5,1157.5 177.5,1159.3 178.5,1156.7 179.4,1159.8 180.4,1159.8 181.4,1154.7 182.4,1159.1 183.4,1157.1 184.3,1154.0 185.3,1158.2 186.3,1154.7 187.3,1158.3 188.3,1154.1 189.3,1161.1 190.2,1161.1 191.2,1157.5 192.2,1153.8 193.2,1153.2 194.2,1159.4 195.1,1156.9 196.1,1158.0 197.1,1161.1 198.1,1152.9 199.1,1154.9 200.0,1150.0 201.0,1152.0 202.0,1153.4 203.0,1154.5 204.0,1154.1 205.0,1153.7 205.9,1157.9 206.9,1151.1 207.9,1158.9 208.9,1163.1 209.9,1161.5 210.8,1159.8 211.8,1161.1 212.8,1165.9 213.8,1167.7 214.8,1169.5 215.8,1170.8 216.7,1170.1 217.7,1168.8 218.7,1171.7 219.7,1166.8 220.7,1169.8 221.6,1172.0 222.6,1170.8 223.6,1168.5 224.6,1177.2 225.6,1173.2 226.5,1167.7 227.5,1172.5 228.5,1177.8 229.5,1175.9 230.5,1177.9 231.5,1170.6 232.4,1179.0 233.4,1179.4 234.4,1179.0 235.4,1181.8 236.4,1187.0 237.3,1180.9 238.3,1178.6 239.3,1181.5 240.3,1179.8 241.3,1177.1 242.3,1179.8 243.2,1186.1 244.2,1178.9 245.2,1181.1 246.2,1181.5 247.2,1184.0 248.1,1185.0 249.1,1187.3 250.1,1185.7 251.1,1185.4 252.1,1189.8 253.0,1187.0 254.0,1191.3 255.0,1188.9 256.0,1190.8 257.0,1188.5 258.0,1186.7 258.9,1191.3 259.9,1193.0 260.9,1193.1 261.9,1190.6 262.9,1195.6 263.8,1190.9 264.8,1193.1 265.8,1192.0 266.8,1195.8 267.8,1197.4 268.8,1197.2 269.7,1195.3 270.7,1198.9 271.7,1193.6 272.7,1203.0 273.7,1199.5 274.6,1198.6 275.6,1202.4 276.6,1199.5 277.6,1201.6 278.6,1197.5 279.5,1197.8 280.5,1195.2 281.5,1199.0 282.5,1200.8 283.5,1198.0 284.5,1195.1 285.4,1195.0 286.4,1194.5 287.4,1187.5 288.4,1194.5 289.4,1194.3 290.3,1194.6 291.3,1193.3 292.3,1189.3 293.3,1190.4 294.3,1197.8 295.3,1187.9 296.2,1195.8 297.2,1192.0 298.2,1188.6 299.2,1190.9 300.2,1189.9 301.1,1189.0 302.1,1190.6 303.1,1195.1 304.1,1190.9 305.1,1193.0 306.0,1197.4 307.0,1192.6 308.0,1191.2 309.0,1192.9 310.0,1193.3 311.0,1189.1 311.9,1193.4 312.9,1192.2 313.9,1193.6 314.9,1190.6 315.9,1195.0 316.8,1191.2 317.8,1189.8 318.8,1195.2 319.8,1187.7 320.8,1197.1 321.8,1192.9 322.7,1191.9 323.7,1195.9 324.7,1198.1 325.7,1193.9 326.7,1195.0 327.6,1194.4 328.6,1194.2 329.6,1192.6 330.6,1190.2 331.6,1192.7 332.5,1197.4 333.5,1191.2 334.5,1191.2 335.5,1191.8 336.5,1188.3 337.5,1191.8 338.4,1193.7 339.4,1192.2 340.4,1197.1 341.4,1191.3 342.4,1193.5 343.3,1189.0 344.3,1191.6 345.3,1192.1 346.3,1192.4 347.3,1195.2 348.3,1192.2 349.2,1189.2 350.2,1188.4 351.2,1190.0 352.2,1188.9 353.2,1189.2 354.1,1192.2 355.1,1189.7 356.1,1191.0 357.1,1193.9 358.1,1194.5 359.0,1189.8 360.0,1191.6 361.0,1206.5 362.0,1240.3 363.0,1260.7 364.0,1277.6 364.9,1295.0 365.9,1301.2 366.9,1305.6 367.9,1315.2 368.9,1317.1 369.8,1325.0 370.8,1328.5 371.8,1326.8 372.8,1332.3 373.8,1333.9 374.8,1336.1 375.7,1341.1 376.7,1336.4 377.7,1342.4 378.7,1344.3 379.7,1346.6 380.6,1346.4 381.6,1350.7 382.6,1347.3 383.6,1351.2 384.6,1349.7 385.5,1354.8 386.5,1355.9 387.5,1356.7 388.5,1355.0 389.5,1359.2 390.5,1355.0 391.4,1358.7 392.4,1356.4 393.4,1360.4 394.4,1358.8 395.4,1364.2 396.3,1365.2 397.3,1361.9 398.3,1365.6 399.3,1362.2 400.3,1367.4 401.3,1364.8 402.2,1368.6 403.2,1371.0 404.2,1363.9 405.2,1368.6 406.2,1366.1 407.1,1368.8 408.1,1374.0 409.1,1369.4 410.1,1368.2 411.1,1368.3 412.0,1367.3 413.0,1369.8 414.0,1371.3 415.0,1370.6 416.0,1373.6 417.0,1369.3 417.9,1369.5 418.9,1370.3 419.9,1373.5 420.9,1370.6 421.9,1373.5 422.8,1369.8 423.8,1374.2 424.8,1374.2 425.8,1373.8 426.8,1375.4 427.8,1374.8 428.7,1373.0 429.7,1378.3 430.7,1367.3 431.7,1371.3 432.7,1371.3 433.6,1374.0 434.6,1371.8 435.6,1372.4 436.6,1373.0 437.6,1376.8 438.5,1373.8 439.5,1378.2 440.5,1374.4 441.5,1375.9 442.5,1374.4 443.5,1373.9 444.4,1368.1 445.4,1369.5 446.4,1372.1 447.4,1375.2 448.4,1368.3 449.3,1376.2 450.3,1375.0 451.3,1374.4 452.3,1375.5 453.3,1371.4 454.3,1373.4 455.2,1367.7 456.2,1374.9 457.2,1371.4 458.2,1374.4 459.2,1373.5 460.1,1372.4 461.1,1371.6 462.1,1371.1 463.1,1373.2 464.1,1376.8 465.0,1374.0 466.0,1379.1 467.0,1373.3 468.0,1374.1 469.0,1370.7 470.0,1379.6 470.9,1368.1 471.9,1373.7 472.9,1376.7 473.9,1370.5 474.9,1371.6 475.8,1372.2 476.8,1360.4 477.8,1374.4 478.8,1371.8 479.8,1371.8 480.8,1373.4 481.7,1371.4 482.7,1368.8 483.7,1373.9 484.7,1370.5 485.7,1369.2 486.6,1369.8 487.6,1375.4 488.6,1371.2 489.6,1372.6 490.6,1368.9 491.5,1371.9 492.5,1367.0 493.5,1375.0 494.5,1370.4 495.5,1373.6 496.5,1366.9 497.4,1367.0 498.4,1373.2 499.4,1369.3 500.4,1371.0 501.4,1375.0 502.3,1374.2 503.3,1371.8 504.3,1370.9 505.3,1373.2 506.3,1371.4 507.3,1370.0 508.2,1371.1 509.2,1374.8 510.2,1371.6 511.2,1370.4 512.2,1375.4 513.1,1368.4 514.1,1368.6 515.1,1372.3 516.1,1367.6 517.1,1374.4 518.0,1374.8 519.0,1374.0 520.0,1373.9 521.0,1367.2 522.0,1371.8 523.0,1372.1 523.9,1371.3 524.9,1368.5 525.9,1371.3 526.9,1372.4 527.9,1371.1 528.8,1368.8 529.8,1372.2 530.8,1368.4 531.8,1371.2 532.8,1372.3 533.8,1370.7 534.7,1366.9 535.7,1372.5 536.7,1368.6 537.7,1369.1 538.7,1371.5 539.6,1371.5 540.6,1369.7 541.6,1370.6 542.6,1371.7 543.6,1371.1 544.5,1374.9 545.5,1374.2 546.5,1374.8 547.5,1373.3 548.5,1373.1 549.5,1373.0 550.4,1370.4 551.4,1373.5 552.4,1371.8 553.4,1369.3 554.4,1367.7 555.3,1371.2 556.3,1368.5 557.3,1368.7 558.3,1374.8 559.3,1371.6 560.3,1374.6 561.2,1372.7 562.2,1370.5 563.2,1374.8 564.2,1370.1 565.2,1371.7 566.1,1371.3 567.1,1369.7 568.1,1372.7 569.1,1375.2 570.1,1370.9 571.0,1373.0 572.0,1371.9 573.0,1373.7 574.0,1373.4 575.0,1373.2 576.0,1373.8 576.9,1372.3 577.9,1372.1 578.9,1369.9 579.9,1362.0 580.9,1371.2 581.8,1373.7 582.8,1368.5 583.8,1373.6 584.8,1372.3 585.8,1371.2 586.8,1369.7 587.7,1369.2 588.7,1369.0 589.7,1369.8 590.7,1366.8 591.7,1367.1 592.6,1370.8 593.6,1369.8 594.6,1372.7 595.6,1367.8 596.6,1369.6 597.5,1364.2 598.5,1370.2 599.5,1364.4 600.5,1370.2 601.5,1372.1 602.5,1370.1 603.4,1367.2 604.4,1365.3 605.4,1370.1 606.4,1366.1 607.4,1369.5 608.3,1369.3 609.3,1368.1 610.3,1363.6 611.3,1367.3 612.3,1367.2 613.3,1371.0 614.2,1366.3 615.2,1365.5 616.2,1363.4 617.2,1369.5 618.2,1368.8 619.1,1369.4 620.1,1368.8 621.1,1365.9 622.1,1369.7 623.1,1364.4 624.0,1366.8 625.0,1369.4 626.0,1370.9 627.0,1370.0 628.0,1369.8 629.0,1363.6 629.9,1364.0 630.9,1369.0 631.9,1367.4 632.9,1362.2 633.9,1367.9 634.8,1365.8 635.8,1364.7 636.8,1366.2 637.8,1366.7 638.8,1366.8 639.8,1365.9 640.7,1369.6 641.7,1365.4 642.7,1365.0 643.7,1368.8 644.7,1364.6 645.6,1367.6 646.6,1371.3 647.6,1370.2 648.6,1365.4 649.6,1362.6 650.5,1366.7 651.5,1369.5 652.5,1366.6 653.5,1363.9 654.5,1366.2 655.5,1369.1 656.4,1364.3 657.4,1366.5 658.4,1366.4 659.4,1365.8 660.4,1364.1 661.3,1365.8 662.3,1368.1 663.3,1366.0 664.3,1365.7 665.3,1362.3 666.3,1367.9 667.2,1365.2 668.2,1367.2 669.2,1364.6 670.2,1366.2 671.2,1372.2 672.1,1362.5 673.1,1366.8 674.1,1367.6 675.1,1368.4 676.1,1367.1 677.0,1367.7 678.0,1365.2 679.0,1365.1 680.0,1365.9 681.0,1364.7 682.0,1367.6 682.9,1364.2 683.9,1366.3 684.9,1364.7 685.9,1363.8 686.9,1365.7 687.8,1361.3 688.8,1360.1 689.8,1365.9 690.8,1360.8 691.8,1360.8 692.8,1368.0 693.7,1369.8 694.7,1365.9 695.7,1363.3 696.7,1362.1 697.7,1362.6 698.6,1364.0 699.6,1361.5 700.6,1362.5 701.6,1365.0 702.6,1363.0 703.5,1360.9 704.5,1364.9 705.5,1364.8 706.5,1365.4 707.5,1359.7 708.5,1361.5 709.4,1361.3 710.4,1364.2 711.4,1362.9 712.4,1359.7 713.4,1363.0 714.3,1359.4 715.3,1361.7 716.3,1361.9 717.3,1359.9 718.3,1358.9 719.3,1356.7 720.2,1361.1 721.2,1355.8 722.2,1361.2 723.2,1361.9 724.2,1365.3 725.1,1358.4 726.1,1357.0 727.1,1363.7 728.1,1362.3 729.1,1362.5 730.0,1366.1 731.0,1362.3 732.0,1362.2" fill="none" stroke="#808080" stroke-width="5.1" stroke-linejoin="miter" stroke-miterlimit="14"/>
<polyline points="147.1,1362.1 148.0,1335.0 149.0,1307.0 150.0,1278.0 151.0,1256.8 152.0,1238.9 152.9,1225.9 153.9,1216.0 154.9,1206.2 155.9,1200.6 156.9,1195.6 157.8,1192.3 158.8,1187.7 159.8,1186.8 160.8,1183.4 161.8,1179.5 162.8,1175.5 163.7,1172.7 164.7,1172.0 165.7,1169.7 166.7,1168.5 167.7,1165.7 168.6,1163.3 169.6,1161.8 170.6,1160.8 171.6,1159.8 172.6,1158.9 173.5,1158.0 174.5,1158.2 175.5,1157.8 176.5,1158.3 177.5,1157.8 178.5,1158.5 179.4,1158.6 180.4,1158.3 181.4,1157.7 182.4,1157.0 183.4,1156.8 184.3,1156.6 185.3,1156.3 186.3,1156.9 187.3,1156.1 188.3,1157.3 189.3,1158.4 190.2,1159.5 191.2,1157.6 192.2,1155.4 193.2,1155.8 194.2,1156.8 195.1,1157.7 196.1,1158.4 197.1,1157.1 198.1,1155.7 199.1,1152.9 200.0,1152.5 201.0,1152.0 202.0,1152.7 203.0,1153.7 204.0,1153.9 205.0,1154.9 205.9,1155.0 206.9,1156.4 207.9,1158.2 208.9,1160.8 209.9,1161.7 210.8,1161.2 211.8,1162.4 212.8,1165.1 213.8,1167.2 214.8,1169.2 215.8,1169.5 216.7,1169.7 217.7,1169.9 218.7,1169.5 219.7,1169.9 220.7,1169.7 221.6,1170.9 222.6,1170.1 223.6,1172.3 224.6,1173.0 225.6,1173.0 226.5,1171.9 227.5,1173.3 228.5,1175.5 229.5,1176.9 230.5,1175.7 231.5,1176.2 232.4,1176.4 233.4,1178.8 234.4,1179.6 235.4,1181.4 236.4,1182.1 237.3,1181.5 238.3,1180.2 239.3,1180.1 240.3,1179.9 241.3,1179.5 242.3,1181.0 243.2,1181.7 244.2,1182.2 245.2,1181.3 246.2,1182.4 247.2,1183.5 248.1,1185.3 249.1,1186.0 250.1,1186.2 251.1,1187.1 252.1,1187.7 253.0,1189.1 254.0,1189.5 255.0,1190.3 256.0,1189.7 257.0,1189.0 258.0,1189.6 258.9,1190.8 259.9,1192.2 260.9,1192.2 261.9,1192.6 262.9,1192.6 263.8,1193.2 264.8,1192.5 265.8,1193.8 266.8,1194.8 267.8,1196.4 268.8,1196.2 269.7,1197.0 270.7,1196.2 271.7,1198.2 272.7,1198.7 273.7,1199.7 274.6,1199.8 275.6,1199.6 276.6,1200.4 277.6,1199.2 278.6,1198.4 279.5,1197.0 280.5,1197.3 281.5,1198.0 282.5,1198.7 283.5,1197.8 284.5,1196.0 285.4,1194.9 286.4,1193.0 287.4,1192.8 288.4,1192.4 289.4,1194.2 290.3,1193.8 291.3,1192.1 292.3,1191.3 293.3,1192.0 294.3,1192.1 295.3,1192.9 296.2,1191.7 297.2,1191.9 298.2,1190.6 299.2,1190.2 300.2,1190.3 301.1,1190.1 302.1,1191.4 303.1,1192.4 304.1,1192.7 305.1,1192.9 306.0,1193.6 307.0,1193.2 308.0,1192.3 309.0,1192.8 310.0,1192.1 311.0,1192.1 311.9,1192.3 312.9,1193.5 313.9,1192.7 314.9,1193.6 315.9,1192.6 316.8,1192.5 317.8,1192.6 318.8,1191.9 319.8,1193.2 320.8,1193.0 321.8,1193.9 322.7,1193.5 323.7,1195.1 324.7,1195.3 325.7,1195.3 326.7,1194.3 327.6,1194.8 328.6,1194.1 329.6,1193.0 330.6,1192.3 331.6,1193.4 332.5,1193.9 333.5,1193.2 334.5,1191.5 335.5,1190.9 336.5,1191.0 337.5,1191.5 338.4,1192.6 339.4,1194.2 340.4,1193.3 341.4,1194.0 342.4,1192.0 343.3,1191.6 344.3,1191.6 345.3,1192.3 346.3,1193.2 347.3,1193.0 348.3,1192.3 349.2,1190.0 350.2,1189.5 351.2,1189.8 352.2,1189.6 353.2,1190.3 354.1,1190.7 355.1,1190.7 356.1,1191.2 357.1,1192.7 358.1,1192.0 359.0,1191.3 360.0,1192.9 361.0,1208.8 362.0,1237.0 363.0,1263.0 364.0,1280.0 364.9,1292.3 365.9,1301.5 366.9,1308.4 367.9,1313.6 368.9,1319.6 369.8,1323.6 370.8,1327.1 371.8,1329.0 372.8,1331.4 373.8,1334.2 374.8,1336.8 375.7,1338.3 376.7,1339.8 377.7,1341.4 378.7,1344.1 379.7,1346.0 380.6,1347.4 381.6,1348.4 382.6,1349.7 383.6,1349.6 384.6,1351.9 385.5,1353.4 386.5,1355.2 387.5,1355.5 388.5,1356.8 389.5,1356.1 390.5,1357.6 391.4,1357.1 392.4,1358.5 393.4,1358.7 394.4,1361.1 395.4,1362.6 396.3,1363.5 397.3,1364.1 398.3,1363.6 399.3,1365.0 400.3,1365.2 401.3,1366.7 402.2,1367.9 403.2,1367.5 404.2,1367.8 405.2,1366.8 406.2,1367.9 407.1,1369.6 408.1,1370.6 409.1,1370.5 410.1,1369.1 411.1,1369.0 412.0,1369.3 413.0,1369.6 414.0,1370.8 415.0,1371.5 416.0,1371.0 417.0,1370.9 417.9,1370.1 418.9,1371.0 419.9,1371.5 420.9,1372.6 421.9,1371.4 422.8,1372.8 423.8,1372.7 424.8,1373.8 425.8,1374.2 426.8,1374.2 427.8,1374.0 428.7,1374.5 429.7,1372.7 430.7,1372.3 431.7,1370.6 432.7,1372.1 433.6,1372.1 434.6,1372.7 435.6,1372.2 436.6,1374.1 437.6,1374.1 438.5,1375.6 439.5,1374.9 440.5,1375.7 441.5,1374.8 442.5,1374.1 443.5,1372.5 444.4,1371.1 445.4,1370.6 446.4,1372.1 447.4,1372.3 448.4,1372.6 449.3,1373.0 450.3,1375.0 451.3,1374.8 452.3,1373.5 453.3,1374.0 454.3,1371.8 455.2,1372.3 456.2,1372.3 457.2,1373.4 458.2,1373.3 459.2,1373.3 460.1,1372.8 461.1,1371.8 462.1,1372.0 463.1,1373.4 464.1,1374.4 465.0,1376.0 466.0,1374.6 467.0,1374.9 468.0,1372.3 469.0,1374.4 470.0,1372.9 470.9,1373.7 471.9,1372.9 472.9,1373.4 473.9,1373.0 474.9,1371.7 475.8,1369.6 476.8,1369.9 477.8,1369.6 478.8,1372.8 479.8,1372.3 480.8,1371.9 481.7,1371.6 482.7,1371.5 483.7,1371.3 484.7,1371.3 485.7,1370.4 486.6,1371.3 487.6,1371.9 488.6,1372.9 489.6,1371.0 490.6,1371.5 491.5,1369.7 492.5,1371.5 493.5,1371.2 494.5,1372.6 495.5,1370.6 496.5,1369.7 497.4,1369.4 498.4,1370.1 499.4,1371.3 500.4,1371.5 501.4,1372.7 502.3,1373.2 503.3,1372.3 504.3,1372.1 505.3,1372.0 506.3,1371.7 507.3,1371.0 508.2,1371.9 509.2,1372.4 510.2,1372.3 511.2,1372.2 512.2,1371.4 513.1,1371.2 514.1,1370.2 515.1,1370.4 516.1,1371.9 517.1,1372.2 518.0,1373.9 519.0,1373.9 520.0,1371.8 521.0,1371.0 522.0,1370.8 523.0,1371.7 523.9,1371.1 524.9,1371.1 525.9,1370.9 526.9,1371.4 527.9,1371.1 528.8,1371.1 529.8,1370.2 530.8,1370.9 531.8,1371.0 532.8,1371.5 533.8,1370.5 534.7,1370.4 535.7,1370.0 536.7,1370.4 537.7,1370.5 538.7,1371.0 539.6,1371.0 540.6,1370.8 541.6,1371.0 542.6,1371.6 543.6,1372.7 544.5,1373.3 545.5,1374.1 546.5,1373.5 547.5,1373.5 548.5,1373.1 549.5,1372.2 550.4,1372.2 551.4,1371.6 552.4,1371.4 553.4,1370.0 554.4,1370.2 555.3,1369.6 556.3,1369.8 557.3,1371.1 558.3,1371.9 559.3,1373.3 560.3,1372.8 561.2,1372.4 562.2,1372.2 563.2,1371.9 564.2,1372.0 565.2,1371.2 566.1,1370.7 567.1,1371.4 568.1,1371.9 569.1,1372.6 570.1,1372.4 571.0,1371.7 572.0,1372.6 573.0,1372.4 574.0,1373.0 575.0,1372.7 576.0,1372.5 576.9,1372.0 577.9,1371.1 578.9,1368.5 579.9,1368.2 580.9,1369.1 581.8,1370.9 582.8,1371.3 583.8,1371.5 584.8,1371.7 585.8,1371.1 586.8,1370.0 587.7,1369.2 588.7,1369.5 589.7,1368.8 590.7,1368.3 591.7,1368.3 592.6,1369.4 593.6,1370.6 594.6,1370.0 595.6,1369.9 596.6,1367.7 597.5,1368.2 598.5,1366.9 599.5,1368.1 600.5,1368.7 601.5,1370.1 602.5,1369.4 603.4,1367.7 604.4,1367.4 605.4,1367.3 606.4,1368.7 607.4,1368.3 608.3,1368.8 609.3,1366.8 610.3,1366.6 611.3,1366.4 612.3,1368.5 613.3,1367.9 614.2,1367.2 615.2,1365.6 616.2,1366.5 617.2,1367.4 618.2,1368.6 619.1,1368.5 620.1,1367.8 621.1,1368.0 622.1,1367.0 623.1,1367.2 624.0,1366.7 625.0,1368.6 626.0,1369.5 627.0,1369.3 628.0,1367.3 629.0,1366.1 629.9,1365.5 630.9,1366.9 631.9,1366.2 632.9,1365.8 633.9,1365.5 634.8,1366.3 635.8,1365.6 636.8,1365.6 637.8,1366.7 638.8,1366.2 639.8,1367.3 640.7,1366.7 641.7,1366.3 642.7,1366.1 643.7,1366.0 644.7,1366.7 645.6,1367.2 646.6,1368.3 647.6,1368.1 648.6,1366.0 649.6,1365.1 650.5,1366.0 651.5,1367.2 652.5,1366.6 653.5,1365.6 654.5,1366.4 655.5,1366.2 656.4,1366.1 657.4,1365.9 658.4,1366.2 659.4,1365.7 660.4,1365.1 661.3,1365.9 662.3,1366.5 663.3,1366.3 664.3,1365.3 665.3,1365.1 666.3,1365.0 667.2,1366.2 668.2,1365.6 669.2,1365.9 670.2,1366.9 671.2,1366.3 672.1,1366.5 673.1,1365.7 674.1,1366.9 675.1,1367.0 676.1,1366.9 677.0,1366.1 678.0,1365.6 679.0,1365.5 680.0,1365.4 681.0,1365.9 682.0,1365.5 682.9,1365.8 683.9,1365.4 684.9,1365.1 685.9,1364.9 686.9,1363.9 687.8,1362.7 688.8,1362.8 689.8,1363.0 690.8,1363.2 691.8,1363.6 692.8,1365.5 693.7,1367.0 694.7,1365.8 695.7,1364.0 696.7,1363.1 697.7,1363.2 698.6,1362.9 699.6,1362.9 700.6,1363.4 701.6,1363.6 702.6,1363.0 703.5,1363.1 704.5,1363.4 705.5,1364.5 706.5,1363.4 707.5,1362.4 708.5,1361.3 709.4,1362.6 710.4,1363.0 711.4,1362.3 712.4,1362.1 713.4,1361.0 714.3,1361.7 715.3,1361.0 716.3,1361.4 717.3,1360.5 718.3,1359.1 719.3,1359.5 720.2,1358.4 721.2,1359.5 722.2,1359.3 723.2,1362.1 724.2,1361.3 725.1,1360.4 726.1,1359.9 727.1,1360.8 728.1,1362.6 729.1,1363.1 730.0,1363.3 731.0,1363.2 732.0,1362.5" fill="none" stroke="#e37222" stroke-width="5.6" stroke-linejoin="miter" stroke-miterlimit="14"/>
</g>
<text x="95.2" y="1098.5" font-size="35.4" textLength="37.2" lengthAdjust="spacingAndGlyphs">15</text>
<text x="95.2" y="1190.1" font-size="35.4" textLength="37.2" lengthAdjust="spacingAndGlyphs">10</text>
<text x="113.9" y="1281.8" font-size="35.4" textLength="18.6" lengthAdjust="spacingAndGlyphs">5</text>
<text x="113.9" y="1373.3" font-size="35.4" textLength="18.6" lengthAdjust="spacingAndGlyphs">0</text>
<text><tspan x="86.8" y="1466.1" font-size="35.4" textLength="26.0" lengthAdjust="spacingAndGlyphs">−</tspan><tspan x="113.9" y="1464.9" font-size="35.4" textLength="18.6" lengthAdjust="spacingAndGlyphs">5</tspan></text>
<text x="138.1" y="1490.8" font-size="35.4" textLength="18.6" lengthAdjust="spacingAndGlyphs">0</text>
<text x="273.0" y="1490.8" font-size="35.4" textLength="74.5" lengthAdjust="spacingAndGlyphs">1000</text>
<text x="437.3" y="1490.8" font-size="35.4" textLength="74.5" lengthAdjust="spacingAndGlyphs">2000</text>
<text x="600.9" y="1490.8" font-size="35.4" textLength="74.5" lengthAdjust="spacingAndGlyphs">3000</text>
<text x="764.9" y="1490.8" font-size="35.4" textLength="74.5" lengthAdjust="spacingAndGlyphs">4000</text>
<text x="927.7" y="1490.8" font-size="35.4" textLength="74.5" lengthAdjust="spacingAndGlyphs">5000</text>
<text><tspan x="-0.1" y="1105.3" font-size="47.0">(</tspan><tspan x="14.2" y="1105.3" font-size="41" textLength="20.4" lengthAdjust="spacingAndGlyphs">c</tspan><tspan x="33.2" y="1105.3" font-size="47.0">)</tspan></text>
<text transform="translate(55.4,1345.7) rotate(-90)" font-size="35.3" textLength="152.1" lengthAdjust="spacingAndGlyphs">ΔT in °C</text>
<text x="480.2" y="1542.8" font-size="35.3" textLength="153.5" lengthAdjust="spacingAndGlyphs">Time in s</text>
<rect x="706" y="1098.9" width="233.5" height="112.9" fill="#fff" stroke="#000" stroke-width="1.95"/>
<line x1="720.8" x2="769" y1="1131.0" y2="1131.0" stroke="#0065bd" stroke-width="5.1"/>
<text><tspan x="778.6" y="1140.2" font-size="34.8" textLength="46.7" lengthAdjust="spacingAndGlyphs">1C</tspan> <tspan x="835.7" y="1139.7" font-size="34.8" textLength="12.6" lengthAdjust="spacingAndGlyphs">-</tspan> <tspan x="860.4" y="1140.2" font-size="34.8" textLength="57.1" lengthAdjust="spacingAndGlyphs">ΔT</tspan></text>
<line x1="720.8" x2="769" y1="1178.6" y2="1178.6" stroke="#e37222" stroke-width="5.1"/>
<text><tspan x="779.0" y="1187.8" font-size="34.8" textLength="46.2" lengthAdjust="spacingAndGlyphs">2C</tspan> <tspan x="835.7" y="1187.3" font-size="34.8" textLength="12.6" lengthAdjust="spacingAndGlyphs">-</tspan> <tspan x="860.4" y="1187.8" font-size="34.8" textLength="57.1" lengthAdjust="spacingAndGlyphs">ΔT</tspan></text>
</svg>
</body></html>
